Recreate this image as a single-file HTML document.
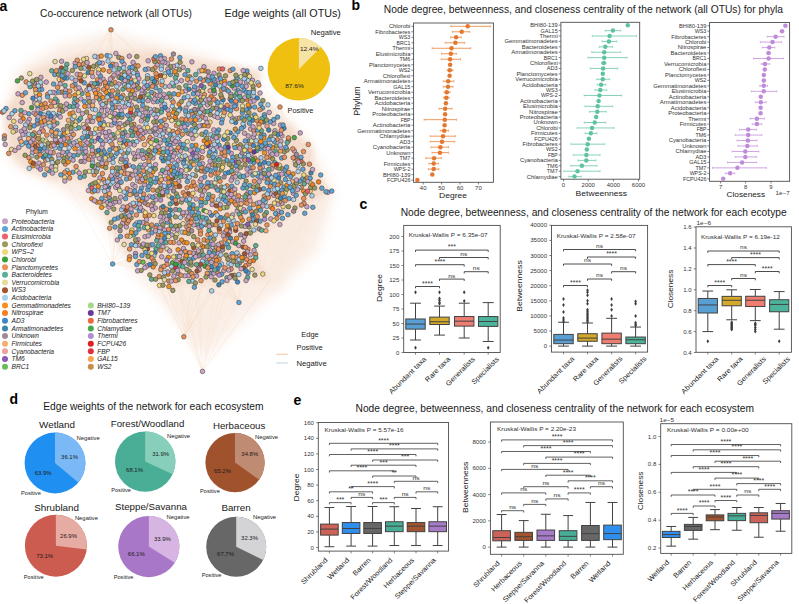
<!DOCTYPE html>
<html><head><meta charset="utf-8"><style>
html,body{margin:0;padding:0;background:#fff;width:799px;height:604px;overflow:hidden}
svg{display:block}
text{font-family:"Liberation Sans",sans-serif}
</style></head><body>
<svg width="799" height="604" viewBox="0 0 799 604">
<rect width="799" height="604" fill="#fff"/>
<defs><filter id="bl" x="-20%" y="-20%" width="140%" height="140%"><feGaussianBlur stdDeviation="3"/></filter><filter id="bl2" x="-20%" y="-20%" width="140%" height="140%"><feGaussianBlur stdDeviation="6"/></filter></defs>
<path d="M111 32 L60 45 L18 70 L5 110 L10 163 L60 188 L100 218 L130 270 L165 300 L200 350 L240 305 L280 288 L318 250 L334 192 L308 140 L268 100 L215 58 Z" fill="#f8e6da" filter="url(#bl2)" opacity="0.7"/>
<path d="M22 80 L28 72 L50 64 L70 57 L93 52 L120 51 L141 52 L152 50 L172 55 L184 58 L212 63 L236 65 L262 71 L258 90 L263 101 L274 117 L294 127 L299 138 L312 144 L313 166 L326 190 L312 206 L291 216 L278 230 L267 236 L254 237 L257 254 L265 274 L277 281 L240 280 L228 281 L218 290 L201 284 L173 290 L157 284 L152 271 L135 263 L129 254 L121 247 L118 237 L110 229 L107 217 L93 200 L90 192 L84 181 L53 180 L27 170 L11 155 L6 141 L4 111 L17 93 Z" fill="#f4dccc" filter="url(#bl)" opacity="0.9"/>
<path d="M330 190 L250 236 L277 284 L300 250 Z" fill="#f9eae0" filter="url(#bl)" opacity="0.8"/>
<path d="M150 282 L290 278 L205 360 Z" fill="#faede4" filter="url(#bl2)" opacity="0.75"/>
<path d="M111 29.8L49.16 118.61M111 29.8L45.61 77.08M111 29.8L54.95 89.63M111 29.8L110.84 60.36M111 29.8L105.59 54.58M111 29.8L198.17 100.4M111 29.8L112.77 126.71M111 29.8L110.44 114.31M111 29.8L107.36 58.06M111 29.8L176.81 89.39M111 29.8L61.93 110.37M111 29.8L122.03 118.98M111 29.8L69.12 98.03M111 29.8L177.83 90.5M280 107L228.82 190.91M280 107L184.57 109.36M280 107L248.63 165.35M280 107L302.1 189.21M280 107L192.9 140.44M280 107L201.88 203.44M280 107L217.18 145.85M280 107L293.83 195.69M280 107L256.89 77.68M280 107L310.72 162.06M280 107L217.47 136.57M280 107L317.26 195.44M280 107L246.12 192.42M280 107L187.08 179.5M331.8 191.1L271.65 207.26M331.8 191.1L280.06 156.6M331.8 191.1L245.79 101.53M331.8 191.1L302.86 196.48M331.8 191.1L314.68 172.45M331.8 191.1L278.88 185.88M331.8 191.1L261.86 201.36M331.8 191.1L246.01 144.98M331.8 191.1L257.37 176.22M331.8 191.1L241.08 233.2M331.8 191.1L257.51 102.05M331.8 191.1L246.37 169.3M331.8 191.1L255.78 151.93M331.8 191.1L304.96 178.47M326 191.8L317.03 186.51M326 191.8L229.35 175.03M326 191.8L265.33 274.35M326 191.8L237.96 208.4M326 191.8L280.89 205.23M326 191.8L259.41 216.89M326 191.8L241.07 151.88M326 191.8L280.73 163.48M326 191.8L255.72 154.02M326 191.8L275.95 127.39M326 191.8L249.54 108.94M326 191.8L278.88 189.62M326 191.8L268.26 232.49M326 191.8L270.55 215.74M238.9 302.5L173.18 273.53M238.9 302.5L184.2 275.36M238.9 302.5L157.94 211.35M238.9 302.5L151.43 222.87M238.9 302.5L174.18 257.03M238.9 302.5L210.07 274.5M238.9 302.5L188.68 260.93M238.9 302.5L191.09 205.75M238.9 302.5L192.63 225.09M238.9 302.5L241.26 264.88M238.9 302.5L221.53 280.5M238.9 302.5L183.69 206.94M238.9 302.5L199.11 208.87M238.9 302.5L196.01 240.75M183.8 336.8L211.7 258.93M183.8 336.8L215.14 279.67M183.8 336.8L195.55 257.06M183.8 336.8L235.47 248.24M183.8 336.8L249.39 273.69M183.8 336.8L226.8 273.85M183.8 336.8L149.8 266.47M183.8 336.8L196.82 284.57M183.8 336.8L178.66 244.75M183.8 336.8L206.81 275.47M183.8 336.8L150.95 238.66M183.8 336.8L196.62 263.12M183.8 336.8L239.95 249.23M183.8 336.8L222.55 274.75M202.5 371.4L230.82 276.52M202.5 371.4L182.43 287.29M202.5 371.4L223.51 281.58M202.5 371.4L248.32 277.44M202.5 371.4L174.35 277.9M202.5 371.4L160.68 274.76M202.5 371.4L156.49 281.75M202.5 371.4L198.63 275.31M202.5 371.4L270.65 279.75M202.5 371.4L215.84 286.26M202.5 371.4L270.06 280.1M202.5 371.4L170.35 285.67M202.5 371.4L194.42 274.32M202.5 371.4L175.17 272.34M112.6 264L209.66 282.68M112.6 264L210.77 256.46M112.6 264L192.04 243.36M112.6 264L150.75 183.46M112.6 264L57.85 166.85M112.6 264L117.4 217.21M112.6 264L119.57 177.08M112.6 264L114.68 217.75M112.6 264L208.79 240.96M112.6 264L202.35 189.37M112.6 264L156.04 269.43M112.6 264L176.31 263.25M112.6 264L101.86 169.57M112.6 264L152.6 171.82M172.8 290.4L208.41 213.7M172.8 290.4L188.55 273.11M172.8 290.4L177.96 245.54M172.8 290.4L146.17 228.46M172.8 290.4L190.61 202.88M172.8 290.4L105.46 200.24M172.8 290.4L119.46 234.64M172.8 290.4L102.24 196.11M172.8 290.4L171.54 274.39M172.8 290.4L179.29 210.97M172.8 290.4L247.66 200.46M172.8 290.4L213.21 236.9M172.8 290.4L218.23 239.32M172.8 290.4L181.02 200.67M4 111L14.81 118.32M4 111L92.37 52.72M4 111L25.23 106.28M4 111L22.77 139.7M4 111L64.18 176.34M4 111L40.34 172.7M4 111L70.98 176.82M4 111L56.87 105.68M4 111L101.28 68.91M4 111L97.77 162.38M4 111L94.5 112.16M4 111L67.57 158.88M4 111L74.7 102.48M4 111L61.81 124.96M138.7 75.81L177.98 89.01M16.34 94.92L8.12 136.22M244.92 103.78L188.25 87.81M29.01 104.78L46.12 116.81M157.75 266L171.7 271.86M261.18 125.95L245.89 117.84M249.75 276.73L235.9 227.16M244.3 240.54L195.16 261.54M242.17 84.53L244.22 144.15M308.89 181.93L268.54 164.62M148.5 264.31L141.11 252.44M278.27 121.45L221.8 82.57M107.15 196.84L163.39 214.62M163.08 63.46L127.11 62.45M273.78 120.69L242.74 83.18M171.85 265.68L231.33 245.69M267.11 111.88L222.51 112.78M321.23 183.39L262.04 181.18M174.04 76.48L185.73 68.17M266.43 217.88L219.03 216.93M322.34 192.98L288.93 148.27M260.86 106.94L261.85 142.99M286.29 211.03L256 163.32M94.61 191.66L148.75 148.11M268.99 122.82L211.29 168.48M23.26 129.4L75.92 150.24M32.13 157.61L58.82 165.82M321.06 188.58L285.73 220.05M119.67 228.24L73.88 171.49M178.6 283.14L200.57 244.55M248.74 79.44L208.02 67.46M168.41 266.89L189.35 217.98M97.54 65L40.68 67.93M257.68 80.82L208.98 108.21M27 74.03L61.2 74.78M183.48 79.13L132.39 131.39M185.09 281.49L197.25 278.79M150.67 262.53L148.16 236.88M265.7 207.22L240.55 194.31M148.34 238.88L137.42 257.21M18.72 109.85L44.59 69.78M207.3 281.9L193.82 269.38M189.29 281.42L212.3 230.92M270.18 205.51L214.79 219.31M219.48 258.23L210.28 253M254.3 235.15L208.34 264.46M25.51 152.73L53.46 106.08M238.41 97.4L199.09 75.81M259.17 118.8L208.32 161.27M251.64 252.29L247.06 245.81M298.62 146.16L242.06 158.32M189.78 278.43L220.91 238.66M95.6 186.93L60.15 128.68M75.86 79.54L73.84 63.57M199.05 260.91L172.19 273.78M213 69.93L263.58 106.71M160.93 251.56L110.4 200.97M192.53 84.83L184.39 59.5M119 74.17L142.48 58.8M81.08 54.61L31.44 99.8M22.84 110.19L73.75 156.49M58.87 171.68L95.92 183.48M159.63 63.98L182.38 120.8M212.97 283.84L186.59 235.95M116.62 197.11L169.49 144.47M268.26 222.37L287.43 168.59M211.07 70L184.89 64.04M86.87 168.27L113.8 118.38M13.76 108.37L53.89 130.74M262.35 213.82L260.93 216.97M99.83 58.08L91.1 67.46M42.99 156.93L48.38 117.71M268.76 277.1L216.95 285.51M239.93 101.14L182.44 148.37M265.48 274.55L245.39 267.14M245.73 272.54L209.04 261.52M99.36 199.44L148.6 241.78M233.97 239.22L233.37 239.97M18.86 105.95L54.15 83.79M78.9 60.72L27.81 75.7M30.84 140.28L49.49 155.85M70 59.94L54.38 109.58M271.59 127.6L299.22 139.52M252.15 97.25L233.61 94.28M287.12 136.16L315.15 188.56M97.5 165.44L132.63 194.02M180.31 283.83L218.5 286.26M55.89 79.23L74.83 94M311.2 180.34L300.65 148.32M287.85 137.06L314.67 191.04M285.29 197.78L244.86 165.38M188.81 266.73L177.08 269.08M65.7 73.27L38.29 127.42M232.79 245.46L194.17 253.67M145.62 263.07L178.53 227.83M171.06 69.36L159.06 63.47M230.46 232.47L176.29 231.95M66.94 157.86L77.02 129.64M254.92 218.95L227.18 269.53M271.97 215.22L282.9 205.34M302.76 193.1L303.9 166.63M220.32 83.47L193.97 91.35M245.08 272.07L261.84 225.61M9.96 107.57L68.34 91.93M13.02 115.83L9.95 112.12M207.15 70.68L212.23 98.31M284.8 198.33L274.38 223.35M175.55 64.43L223.49 105.75M268.75 133.07L291.48 141.99M220.44 72.06L244.98 117.47M138.27 223.32L187.75 235.03M307.56 193.92L313 186.07M26.17 152.83L32.12 127.83M297.17 193.04L286.16 181.75M291.9 212.55L233.48 200.01M259.59 220.63L213.5 190.1M248.48 68.3L233.65 120.15M151.5 68.01L205.58 125.65M232.58 70.71L190.79 112.1M266.58 127.11L252.36 76.96M13.27 100.1L26.55 82.8M230.9 276.88L232.79 250.3M85.58 173.51L134.6 167.73M276.41 211.96L294.76 197.62M256.07 82.51L251.46 122.68M237.57 225.73L212.1 184.42M236.67 265.52L179.04 268.27M295.56 166.79L275.1 150.96M231.18 65.91L175.58 84.88M71.83 155.71L50.27 120.45M182.62 71.57L178.12 124.26M261.82 278.42L270.34 228.35M29.43 156.28L13.41 145.84M43.53 86.54L85.61 69.68M216.37 273.93L179.66 237.64M191.13 264.31L217.26 229.2M228.19 83.15L197.56 116.53M51.96 169.9L13.01 153.23M89.32 62.09L118.18 80.36M193.67 71.42L152.08 86.6M121.08 246.03L130.04 208.65M258.55 221.73L252.64 182.53M219.35 276.66L262.62 271.75M234.99 254.76L207.95 222.45M173.04 64.18L138.25 97.98M37.81 96.9L18.79 153.02M55.94 170.68L59.84 116.15M5.91 125.71L46.11 122.8M237.01 82.4L232.47 82.43M92.71 178.46L38.75 139.7M310.53 151.84L299.4 192.1M257.25 89.49L276.31 148.13M136.06 220.27L154.78 246.65M279.78 149.66L231.69 114.92M91.54 63.71L39.85 113.02M14.76 125.92L13.09 120.56M239.45 224.6L263.66 172.62M36.71 69.99L54.36 125.64M15.47 109.71L66.18 107.22M131.74 65.41L129.16 69.05M303.77 180.71L279.15 222.4M40.49 157.88L64.17 163.24M235.79 280.34L199.42 242.89M303.73 147.53L249.06 91.07M135.77 256.31L158.39 239.45M293.95 211.95L298.64 178.35M103.41 190.16L156.45 162.74M101.55 170.11L48.84 121.25M223.04 284.88L166.03 239.19M87.05 70.32L124.53 104.71M254.24 231.78L203.49 226.95M311.53 161.62L278.22 179.48M112.03 206.25L169.98 213.5M70.08 174.71L72.58 149.1M260.57 267.45L205.83 241.48M248.24 216.34L284.13 175.04M249.6 276.61L246.54 269.42M271.52 216.26L263.7 218.08M90.07 70.78L117.45 128.24M237.87 70.59L192.45 125.17M41.53 91.6L22.62 140.56M190.81 268L197.62 217.14M283.62 210.09L228.35 239.24M305.07 185.28L311.26 150.94M104.84 62.35L125.61 91.93M218.12 275.17L229.91 218.73M56.91 159.03L114.95 216.2M31.56 84.34L13.34 119.02M244.78 102.85L253.49 106M220.22 81.18L275.82 134.5M32.31 97.25L60.35 64.71M265.94 129.4L282.59 134.37M216.6 267.15L215.92 261.23M196.7 267.11L178.47 271.8M27.28 155.26L69.51 132.49M243.96 97.59L222.51 74.02M138.25 53.59L187.75 103.73M256.4 111.18L254.33 85.54M196.77 273.63L174.95 275.48M48.76 166.27L95.13 109.91M223.64 265.44L235.95 223.88M150.51 56.78L170.6 80.55M257.33 92.38L207.27 130.36M111.43 71L106.82 70.49M251.91 102.3L217.33 103.88M14.26 148.77L68.95 132.14M196.7 62.42L217.91 72.1M62.07 156.51L120.94 202.91M89.28 172.65L92.25 167.88M26.89 153.13L78.6 138.24M168.11 56.4L133.56 89.1M318.69 197.95L269.44 156.12M99.02 181.24L133.21 223.49M265.04 113.03L257.25 134.12M287.17 158.64L257.75 198.08M22.05 146.85L55.02 168.93M143.48 251.45L198.2 198.54M89 73.46L71.09 128.51M201.11 266.76L159.02 284.69M206.54 67.15L229.18 96.25M184.84 76.9L244.43 72.17M93.83 75.23L80.38 97.5M140.17 228.62L181.08 173.14M66.83 75.62L103.39 134.41M61.48 163.85L67.33 122.78M19.61 91.85L76.57 148.69M170.25 259.86L121.71 247.3M257.86 75.11L251.56 107.23M96.2 52.94L63.95 77.53M100.56 61.18L101.22 91.04M308.6 151.17L285.88 129.25M136.55 251.8L164.71 278.04M258.3 99.76L276.63 135.07M253.72 87.35L223.2 99.61M237.33 76.66L219.39 106.04M72.08 60.7L93.99 117.52M66.4 82.83L97.94 115.27M91.91 172.65L37.54 160.83M145.99 237.2L101.98 210.5M148.31 52.2L102.4 94.91M263.68 274.19L220.52 215.19M105.59 66.98L155.31 103.66M234.15 242.02L232.09 246.8M93.06 175.81L79.62 171.11M200.53 279L182.44 234.48M28.11 73.3L81.73 118.82M109.82 224.47L135.47 258.91M9.14 105.15L16.35 152.52M231.7 242.16L205.82 256.76M239.61 220.62L245.44 249.02M66.12 176.29L35.77 147.44M165.95 68.39L164.47 59.2M254.75 224.83L287.12 187.99M151.57 65.74L124.53 120.15M220.9 273.14L176.37 264.91M65.4 77.14L58.78 99.15M81.35 161.15L117.97 214.75M285.42 195.94L239.66 161.97M252.81 264.84L264.56 229.59M119.32 73.7L129.98 66.03" stroke="#f2cfb8" stroke-width="0.4" fill="none" opacity="0.45"/>
<g stroke="#3a3a3a" stroke-width="0.55">
<circle cx="247.55" cy="151.8" r="2.3" fill="#5fa4d3"/>
<circle cx="29.26" cy="119.38" r="2.3" fill="#c9a3c4"/>
<circle cx="207.81" cy="234.8" r="2.3" fill="#e8915a"/>
<circle cx="210.86" cy="134.68" r="2.3" fill="#a6cfea"/>
<circle cx="172.5" cy="262.82" r="2.3" fill="#49a949"/>
<circle cx="53.17" cy="152.78" r="2.3" fill="#e8915a"/>
<circle cx="37.09" cy="123.94" r="2.3" fill="#a08a97"/>
<circle cx="256.94" cy="150.48" r="2.3" fill="#5cae98"/>
<circle cx="163.86" cy="128.91" r="2.3" fill="#c9a3c4"/>
<circle cx="92.93" cy="101.48" r="2.3" fill="#c9a3c4"/>
<circle cx="188.93" cy="263.82" r="2.3" fill="#5fa4d3"/>
<circle cx="152.41" cy="168.49" r="2.3" fill="#3a88c6"/>
<circle cx="189.7" cy="76.71" r="2.3" fill="#9a9a5e"/>
<circle cx="256.94" cy="203.42" r="2.3" fill="#a6cfea"/>
<circle cx="225.11" cy="232.16" r="2.3" fill="#c9a3c4"/>
<circle cx="150.45" cy="152.4" r="2.3" fill="#e8915a"/>
<circle cx="171.62" cy="234.86" r="2.3" fill="#c9a3c4"/>
<circle cx="78.42" cy="110.54" r="2.3" fill="#c9a3c4"/>
<circle cx="236.96" cy="170.16" r="2.3" fill="#c9a3c4"/>
<circle cx="117.59" cy="101.74" r="2.3" fill="#5fa4d3"/>
<circle cx="155.09" cy="252.53" r="2.3" fill="#3a88ae"/>
<circle cx="196.56" cy="275.97" r="2.3" fill="#c9a3c4"/>
<circle cx="108.44" cy="124.76" r="2.3" fill="#efd77a"/>
<circle cx="161.17" cy="184.99" r="2.3" fill="#c9a3c4"/>
<circle cx="144.96" cy="132.39" r="2.3" fill="#c9a3c4"/>
<circle cx="134.58" cy="158.95" r="2.3" fill="#9a9a5e"/>
<circle cx="88.37" cy="97.42" r="2.3" fill="#c9a3c4"/>
<circle cx="114.53" cy="137.63" r="2.3" fill="#9a9a5e"/>
<circle cx="230.83" cy="94.05" r="2.3" fill="#c9a3c4"/>
<circle cx="135.42" cy="156.08" r="2.3" fill="#c9a3c4"/>
<circle cx="171.16" cy="180.97" r="2.3" fill="#9a9a5e"/>
<circle cx="217.78" cy="253.27" r="2.3" fill="#c9a3c4"/>
<circle cx="99.19" cy="99.25" r="2.3" fill="#5cae98"/>
<circle cx="69.64" cy="142.68" r="2.3" fill="#5cae98"/>
<circle cx="162.59" cy="242.81" r="2.3" fill="#5fa4d3"/>
<circle cx="181.74" cy="261.3" r="2.3" fill="#a3532e"/>
<circle cx="288.68" cy="140.37" r="2.3" fill="#9a9a5e"/>
<circle cx="204.05" cy="186.37" r="2.3" fill="#c9a3c4"/>
<circle cx="138.77" cy="245.14" r="2.3" fill="#c9a3c4"/>
<circle cx="54.74" cy="74.57" r="2.3" fill="#5fa4d3"/>
<circle cx="112.81" cy="134.66" r="2.3" fill="#5cae98"/>
<circle cx="90.71" cy="136.18" r="2.3" fill="#f5ae6e"/>
<circle cx="249.47" cy="107.22" r="2.3" fill="#3a88c6"/>
<circle cx="193.14" cy="208.91" r="2.3" fill="#f5901e"/>
<circle cx="34.06" cy="113.09" r="2.3" fill="#c9a3c4"/>
<circle cx="137.33" cy="197.49" r="2.3" fill="#a6cfea"/>
<circle cx="95.59" cy="151.49" r="2.3" fill="#9a9a5e"/>
<circle cx="200.97" cy="222.04" r="2.3" fill="#c9a3c4"/>
<circle cx="188.42" cy="193.61" r="2.3" fill="#a3532e"/>
<circle cx="172.43" cy="160.55" r="2.3" fill="#c9a3c4"/>
<circle cx="129" cy="165.3" r="2.3" fill="#c9a3c4"/>
<circle cx="195.98" cy="135.14" r="2.3" fill="#e4dd9a"/>
<circle cx="251.29" cy="211.48" r="2.3" fill="#e8915a"/>
<circle cx="219.49" cy="110.28" r="2.3" fill="#5fa4d3"/>
<circle cx="142.85" cy="100.65" r="2.3" fill="#5fa4d3"/>
<circle cx="262.9" cy="100.59" r="2.3" fill="#9a9a5e"/>
<circle cx="192.53" cy="281.18" r="2.3" fill="#a6cfea"/>
<circle cx="264.23" cy="196.04" r="2.3" fill="#e8915a"/>
<circle cx="5.19" cy="144.48" r="2.3" fill="#c9a3c4"/>
<circle cx="234.59" cy="193.17" r="2.3" fill="#f5ae6e"/>
<circle cx="127.71" cy="152.43" r="2.3" fill="#5cae98"/>
<circle cx="240.45" cy="155.63" r="2.3" fill="#a6cfea"/>
<circle cx="127.33" cy="188.76" r="2.3" fill="#e8915a"/>
<circle cx="203.23" cy="113.72" r="2.3" fill="#c9a3c4"/>
<circle cx="228.79" cy="263.35" r="2.3" fill="#a6cfea"/>
<circle cx="92.65" cy="76.55" r="2.3" fill="#c9a3c4"/>
<circle cx="202.57" cy="91.05" r="2.3" fill="#efd77a"/>
<circle cx="125.18" cy="106.74" r="2.3" fill="#c9a3c4"/>
<circle cx="120.49" cy="236.53" r="2.3" fill="#5fa4d3"/>
<circle cx="243.64" cy="126.48" r="2.3" fill="#5fa4d3"/>
<circle cx="193.02" cy="204.85" r="2.3" fill="#5fa4d3"/>
<circle cx="265.91" cy="230.75" r="2.3" fill="#f5ae6e"/>
<circle cx="96.33" cy="97.42" r="2.3" fill="#e8915a"/>
<circle cx="89.44" cy="144.64" r="2.3" fill="#c68f4a"/>
<circle cx="240.81" cy="76.74" r="2.3" fill="#e4dd9a"/>
<circle cx="248.23" cy="136" r="2.3" fill="#c9a3c4"/>
<circle cx="169.08" cy="93.73" r="2.3" fill="#5cae98"/>
<circle cx="267.92" cy="104.83" r="2.3" fill="#a6cfea"/>
<circle cx="195.46" cy="175.7" r="2.3" fill="#9a9a5e"/>
<circle cx="119.67" cy="179.92" r="2.3" fill="#c9a3c4"/>
<circle cx="168.33" cy="257.38" r="2.3" fill="#f5901e"/>
<circle cx="108.87" cy="91.15" r="2.3" fill="#efd77a"/>
<circle cx="243.48" cy="147.2" r="2.3" fill="#9a9a5e"/>
<circle cx="212.49" cy="248.42" r="2.3" fill="#a6cfea"/>
<circle cx="79.3" cy="140.52" r="2.3" fill="#efd77a"/>
<circle cx="196.91" cy="253.49" r="2.3" fill="#9a9a5e"/>
<circle cx="112.48" cy="168.6" r="2.3" fill="#e8915a"/>
<circle cx="170.53" cy="74.48" r="2.3" fill="#5fa4d3"/>
<circle cx="216.25" cy="247.88" r="2.3" fill="#e8915a"/>
<circle cx="142.7" cy="222.53" r="2.3" fill="#c9a3c4"/>
<circle cx="112.04" cy="103.86" r="2.3" fill="#5fa4d3"/>
<circle cx="246.58" cy="146.17" r="2.3" fill="#a6cfea"/>
<circle cx="169.3" cy="117.41" r="2.3" fill="#e8915a"/>
<circle cx="281.93" cy="135.81" r="2.3" fill="#c9a3c4"/>
<circle cx="204" cy="257.98" r="2.3" fill="#c9a3c4"/>
<circle cx="252.41" cy="98.73" r="2.3" fill="#c9a3c4"/>
<circle cx="47.67" cy="151.72" r="2.3" fill="#c9a3c4"/>
<circle cx="120.81" cy="161.77" r="2.3" fill="#e4dd9a"/>
<circle cx="158.56" cy="152.09" r="2.3" fill="#f5901e"/>
<circle cx="97.33" cy="168.88" r="2.3" fill="#a6cfea"/>
<circle cx="273.65" cy="123.44" r="2.3" fill="#c9a3c4"/>
<circle cx="221.48" cy="263.94" r="2.3" fill="#a6cfea"/>
<circle cx="295.33" cy="161.64" r="2.3" fill="#e4dd9a"/>
<circle cx="217.4" cy="272.98" r="2.3" fill="#e8915a"/>
<circle cx="201.97" cy="157.67" r="2.3" fill="#e8915a"/>
<circle cx="37.84" cy="106.58" r="2.3" fill="#5fa4d3"/>
<circle cx="197.9" cy="109.93" r="2.3" fill="#a08a97"/>
<circle cx="31.72" cy="155.8" r="2.3" fill="#a6cfea"/>
<circle cx="148.21" cy="116.45" r="2.3" fill="#3a88c6"/>
<circle cx="160.16" cy="149.37" r="2.3" fill="#f5901e"/>
<circle cx="283.89" cy="128.36" r="2.3" fill="#3a88c6"/>
<circle cx="264.49" cy="162.29" r="2.3" fill="#3a88c6"/>
<circle cx="293.01" cy="173.99" r="2.3" fill="#f5901e"/>
<circle cx="215.2" cy="256.3" r="2.3" fill="#e8915a"/>
<circle cx="203.85" cy="87.26" r="2.3" fill="#5cae98"/>
<circle cx="197.55" cy="224.96" r="2.3" fill="#5cae98"/>
<circle cx="52.08" cy="127.09" r="2.3" fill="#5fa4d3"/>
<circle cx="47.79" cy="116.23" r="2.3" fill="#c9a3c4"/>
<circle cx="34.46" cy="143.24" r="2.3" fill="#e8915a"/>
<circle cx="236.52" cy="108.73" r="2.3" fill="#e8915a"/>
<circle cx="102.38" cy="127.76" r="2.3" fill="#e8915a"/>
<circle cx="122.93" cy="129.54" r="2.3" fill="#efd77a"/>
<circle cx="301.2" cy="187.15" r="2.3" fill="#e8915a"/>
<circle cx="139.63" cy="199.88" r="2.3" fill="#e8915a"/>
<circle cx="18.81" cy="147.51" r="2.3" fill="#c9a3c4"/>
<circle cx="198.64" cy="266.66" r="2.3" fill="#a08a97"/>
<circle cx="178.28" cy="160.59" r="2.3" fill="#c9a3c4"/>
<circle cx="64.15" cy="158.04" r="2.3" fill="#9a9a5e"/>
<circle cx="222.21" cy="119.44" r="2.3" fill="#5fa4d3"/>
<circle cx="80.83" cy="98.97" r="2.3" fill="#c9a3c4"/>
<circle cx="170.2" cy="203.94" r="2.3" fill="#5cae98"/>
<circle cx="140.44" cy="165.23" r="2.3" fill="#a6cfea"/>
<circle cx="25.4" cy="134.14" r="2.3" fill="#a6cfea"/>
<circle cx="67.12" cy="170.47" r="2.3" fill="#a6cfea"/>
<circle cx="208.9" cy="194.53" r="2.3" fill="#5cae98"/>
<circle cx="113.04" cy="203.35" r="2.3" fill="#c9a3c4"/>
<circle cx="262.49" cy="107.97" r="2.3" fill="#5fa4d3"/>
<circle cx="168.87" cy="172.57" r="2.3" fill="#c9a3c4"/>
<circle cx="250.59" cy="129.06" r="2.3" fill="#c9a3c4"/>
<circle cx="175.35" cy="177.09" r="2.3" fill="#5cae98"/>
<circle cx="233.25" cy="173.9" r="2.3" fill="#e8915a"/>
<circle cx="168.86" cy="281.03" r="2.3" fill="#e8915a"/>
<circle cx="210.61" cy="81.25" r="2.3" fill="#5cae98"/>
<circle cx="114.79" cy="156.34" r="2.3" fill="#a6cfea"/>
<circle cx="310.24" cy="182.94" r="2.3" fill="#efd77a"/>
<circle cx="151.55" cy="279.3" r="2.3" fill="#5cae98"/>
<circle cx="145.88" cy="112.55" r="2.3" fill="#c9a3c4"/>
<circle cx="173.13" cy="150.72" r="2.3" fill="#5cae98"/>
<circle cx="162.13" cy="98.13" r="2.3" fill="#c9a3c4"/>
<circle cx="41.69" cy="89.44" r="2.3" fill="#5fa4d3"/>
<circle cx="218.61" cy="249.03" r="2.3" fill="#e8915a"/>
<circle cx="121.98" cy="74.91" r="2.3" fill="#e8915a"/>
<circle cx="144.96" cy="236.68" r="2.3" fill="#c9a3c4"/>
<circle cx="171.87" cy="99.83" r="2.3" fill="#a6cfea"/>
<circle cx="159.59" cy="195.21" r="2.3" fill="#3b9f3b"/>
<circle cx="213.72" cy="273.31" r="2.3" fill="#c9a3c4"/>
<circle cx="196.82" cy="152.49" r="2.3" fill="#c9a3c4"/>
<circle cx="123.3" cy="153.72" r="2.3" fill="#e8915a"/>
<circle cx="55.14" cy="147.8" r="2.3" fill="#a6cfea"/>
<circle cx="62.15" cy="136.16" r="2.3" fill="#3a88ae"/>
<circle cx="150" cy="227.61" r="2.3" fill="#5cae98"/>
<circle cx="157.87" cy="128.15" r="2.3" fill="#c9a3c4"/>
<circle cx="270.8" cy="218.89" r="2.3" fill="#c9a3c4"/>
<circle cx="175.39" cy="267.7" r="2.3" fill="#df3040"/>
<circle cx="131.11" cy="217.87" r="2.3" fill="#9a9a5e"/>
<circle cx="162.91" cy="194.99" r="2.3" fill="#a3532e"/>
<circle cx="240.21" cy="144.7" r="2.3" fill="#9a9a5e"/>
<circle cx="173.8" cy="276.15" r="2.3" fill="#c9a3c4"/>
<circle cx="187.07" cy="176.27" r="2.3" fill="#c9a3c4"/>
<circle cx="118.21" cy="170.76" r="2.3" fill="#5cae98"/>
<circle cx="270.43" cy="193.63" r="2.3" fill="#c9a3c4"/>
<circle cx="121.58" cy="209.64" r="2.3" fill="#a6cfea"/>
<circle cx="225.61" cy="173.34" r="2.3" fill="#5fa4d3"/>
<circle cx="43.1" cy="108.34" r="2.3" fill="#e8915a"/>
<circle cx="178.07" cy="279.77" r="2.3" fill="#9a9a5e"/>
<circle cx="64.66" cy="177.57" r="2.3" fill="#efd77a"/>
<circle cx="136.17" cy="207.25" r="2.3" fill="#a6cfea"/>
<circle cx="25.14" cy="155.29" r="2.3" fill="#9a9a5e"/>
<circle cx="241.39" cy="197.83" r="2.3" fill="#e4dd9a"/>
<circle cx="231.93" cy="166.62" r="2.3" fill="#9a9a5e"/>
<circle cx="151.79" cy="224.98" r="2.3" fill="#e8915a"/>
<circle cx="199.09" cy="227.55" r="2.3" fill="#c9a3c4"/>
<circle cx="252.25" cy="116.71" r="2.3" fill="#efd77a"/>
<circle cx="65.66" cy="90.26" r="2.3" fill="#c9a3c4"/>
<circle cx="138.94" cy="229.07" r="2.3" fill="#5fa4d3"/>
<circle cx="196.89" cy="208.78" r="2.3" fill="#5cae98"/>
<circle cx="284.34" cy="151.82" r="2.3" fill="#9a9a5e"/>
<circle cx="83.56" cy="124.64" r="2.3" fill="#e4dd9a"/>
<circle cx="230.12" cy="99.09" r="2.3" fill="#a08a97"/>
<circle cx="102.23" cy="165.95" r="2.3" fill="#f57f1c"/>
<circle cx="83.2" cy="64.06" r="2.3" fill="#e8915a"/>
<circle cx="61.57" cy="61.27" r="2.3" fill="#c9a3c4"/>
<circle cx="275.74" cy="151.61" r="2.3" fill="#5cae98"/>
<circle cx="147.81" cy="189.72" r="2.3" fill="#5fa4d3"/>
<circle cx="263.78" cy="177.9" r="2.3" fill="#c9a3c4"/>
<circle cx="141.38" cy="188.24" r="2.3" fill="#5fa4d3"/>
<circle cx="86.31" cy="126.28" r="2.3" fill="#e8915a"/>
<circle cx="161.33" cy="222.14" r="2.3" fill="#c9a3c4"/>
<circle cx="160.82" cy="173.92" r="2.3" fill="#c9a3c4"/>
<circle cx="183.12" cy="123.85" r="2.3" fill="#5fa4d3"/>
<circle cx="176.48" cy="261.7" r="2.3" fill="#c9a3c4"/>
<circle cx="153.82" cy="255.81" r="2.3" fill="#a6cfea"/>
<circle cx="70.87" cy="137.53" r="2.3" fill="#c9a3c4"/>
<circle cx="155.32" cy="208.03" r="2.3" fill="#c9a3c4"/>
<circle cx="111.99" cy="95.82" r="2.3" fill="#a08a97"/>
<circle cx="94.37" cy="141.25" r="2.3" fill="#c9a3c4"/>
<circle cx="270.59" cy="206.56" r="2.3" fill="#e8915a"/>
<circle cx="57.68" cy="105.14" r="2.3" fill="#c9a3c4"/>
<circle cx="244.81" cy="157.54" r="2.3" fill="#5fa4d3"/>
<circle cx="211.41" cy="215.32" r="2.3" fill="#3a88c6"/>
<circle cx="120.13" cy="175.27" r="2.3" fill="#a6cfea"/>
<circle cx="45.71" cy="160.09" r="2.3" fill="#e8915a"/>
<circle cx="238.11" cy="200.03" r="2.3" fill="#c9a3c4"/>
<circle cx="57.07" cy="130.82" r="2.3" fill="#5fa4d3"/>
<circle cx="157.22" cy="64.99" r="2.3" fill="#c9a3c4"/>
<circle cx="112.96" cy="118.04" r="2.3" fill="#9a9a5e"/>
<circle cx="206.95" cy="262.45" r="2.3" fill="#5cae98"/>
<circle cx="273.98" cy="195.43" r="2.3" fill="#c9a3c4"/>
<circle cx="217.58" cy="141.17" r="2.3" fill="#a6cfea"/>
<circle cx="257.34" cy="216.57" r="2.3" fill="#e8915a"/>
<circle cx="167.52" cy="143.9" r="2.3" fill="#5fa4d3"/>
<circle cx="103.93" cy="155.16" r="2.3" fill="#5fa4d3"/>
<circle cx="204.43" cy="134.8" r="2.3" fill="#a6cfea"/>
<circle cx="72.38" cy="70.45" r="2.3" fill="#9a9a5e"/>
<circle cx="124.19" cy="215.21" r="2.3" fill="#5fa4d3"/>
<circle cx="214.63" cy="116.2" r="2.3" fill="#c9a3c4"/>
<circle cx="34.56" cy="102.94" r="2.3" fill="#c9a3c4"/>
<circle cx="256.11" cy="140.8" r="2.3" fill="#a6cfea"/>
<circle cx="231.19" cy="264.56" r="2.3" fill="#a6cfea"/>
<circle cx="271.58" cy="182.84" r="2.3" fill="#5fa4d3"/>
<circle cx="303.36" cy="163.8" r="2.3" fill="#9a9a5e"/>
<circle cx="175.99" cy="119.6" r="2.3" fill="#9a9a5e"/>
<circle cx="189.78" cy="208.43" r="2.3" fill="#3a88c6"/>
<circle cx="148.34" cy="235.84" r="2.3" fill="#c9a3c4"/>
<circle cx="154.21" cy="84.32" r="2.3" fill="#c9a3c4"/>
<circle cx="150.45" cy="184.01" r="2.3" fill="#5cae98"/>
<circle cx="253.37" cy="260.48" r="2.3" fill="#f57f1c"/>
<circle cx="46.29" cy="107.26" r="2.3" fill="#e8915a"/>
<circle cx="246.07" cy="181.16" r="2.3" fill="#9a9a5e"/>
<circle cx="249.14" cy="141.16" r="2.3" fill="#5fa4d3"/>
<circle cx="102.1" cy="107.22" r="2.3" fill="#c9a3c4"/>
<circle cx="40.75" cy="104.26" r="2.3" fill="#f5901e"/>
<circle cx="59.17" cy="79.41" r="2.3" fill="#efd77a"/>
<circle cx="165.12" cy="73.76" r="2.3" fill="#a6cfea"/>
<circle cx="78.95" cy="64.53" r="2.3" fill="#e8915a"/>
<circle cx="303.67" cy="191.18" r="2.3" fill="#f5901e"/>
<circle cx="210.1" cy="83.78" r="2.3" fill="#e8915a"/>
<circle cx="84.21" cy="68.12" r="2.3" fill="#a6cfea"/>
<circle cx="117.07" cy="123.98" r="2.3" fill="#c9a3c4"/>
<circle cx="221.23" cy="195.85" r="2.3" fill="#a6cfea"/>
<circle cx="220.31" cy="208.77" r="2.3" fill="#f5901e"/>
<circle cx="210.94" cy="175.02" r="2.3" fill="#e8915a"/>
<circle cx="130.4" cy="79.26" r="2.3" fill="#e8915a"/>
<circle cx="234.22" cy="88.14" r="2.3" fill="#c9a3c4"/>
<circle cx="202.35" cy="261.23" r="2.3" fill="#a6cfea"/>
<circle cx="253.64" cy="204.6" r="2.3" fill="#e8915a"/>
<circle cx="232.32" cy="118.2" r="2.3" fill="#c9a3c4"/>
<circle cx="269.34" cy="156.85" r="2.3" fill="#e8915a"/>
<circle cx="188.37" cy="275.64" r="2.3" fill="#c9a3c4"/>
<circle cx="114.66" cy="177.2" r="2.3" fill="#c9a3c4"/>
<circle cx="133.88" cy="124.36" r="2.3" fill="#e8915a"/>
<circle cx="199.5" cy="102.23" r="2.3" fill="#c9a3c4"/>
<circle cx="109.85" cy="178.71" r="2.3" fill="#f5901e"/>
<circle cx="125.42" cy="217.83" r="2.3" fill="#9a9a5e"/>
<circle cx="168.22" cy="162.66" r="2.3" fill="#a6cfea"/>
<circle cx="95.67" cy="128.91" r="2.3" fill="#efd77a"/>
<circle cx="198.98" cy="255.94" r="2.3" fill="#a08a97"/>
<circle cx="86.82" cy="90.21" r="2.3" fill="#c9a3c4"/>
<circle cx="37.46" cy="119.89" r="2.3" fill="#5fa4d3"/>
<circle cx="43.37" cy="157.02" r="2.3" fill="#3a88ae"/>
<circle cx="58.72" cy="114.94" r="2.3" fill="#5fa4d3"/>
<circle cx="179.18" cy="130.36" r="2.3" fill="#e8915a"/>
<circle cx="288.92" cy="198.54" r="2.3" fill="#5fa4d3"/>
<circle cx="180.15" cy="108.65" r="2.3" fill="#3a88ae"/>
<circle cx="136.62" cy="107.08" r="2.3" fill="#9a9a5e"/>
<circle cx="246.61" cy="99.3" r="2.3" fill="#f57f1c"/>
<circle cx="181.4" cy="202.09" r="2.3" fill="#9a9a5e"/>
<circle cx="74.91" cy="95.25" r="2.3" fill="#f5901e"/>
<circle cx="117.88" cy="132.94" r="2.3" fill="#efd77a"/>
<circle cx="112.03" cy="138.98" r="2.3" fill="#c9a3c4"/>
<circle cx="195.9" cy="145.29" r="2.3" fill="#f5901e"/>
<circle cx="189.47" cy="271.35" r="2.3" fill="#9a9a5e"/>
<circle cx="102.74" cy="149.71" r="2.3" fill="#a6cfea"/>
<circle cx="273.95" cy="180.26" r="2.3" fill="#e4dd9a"/>
<circle cx="219.08" cy="145.26" r="2.3" fill="#5fa4d3"/>
<circle cx="147.86" cy="88.25" r="2.3" fill="#9a9a5e"/>
<circle cx="132.24" cy="132.46" r="2.3" fill="#efd77a"/>
<circle cx="227.8" cy="138.53" r="2.3" fill="#9a9a5e"/>
<circle cx="38.85" cy="101.9" r="2.3" fill="#c9a3c4"/>
<circle cx="276.8" cy="154.17" r="2.3" fill="#c9a3c4"/>
<circle cx="124.85" cy="132.15" r="2.3" fill="#5cae98"/>
<circle cx="144.25" cy="82.14" r="2.3" fill="#a6cfea"/>
<circle cx="26.12" cy="81.92" r="2.3" fill="#e8915a"/>
<circle cx="137.57" cy="82.83" r="2.3" fill="#5fa4d3"/>
<circle cx="191.55" cy="186.25" r="2.3" fill="#f57f1c"/>
<circle cx="232.35" cy="178.01" r="2.3" fill="#c9a3c4"/>
<circle cx="283.91" cy="187.12" r="2.3" fill="#5fa4d3"/>
<circle cx="164.43" cy="58.6" r="2.3" fill="#c9a3c4"/>
<circle cx="157.43" cy="101.56" r="2.3" fill="#5fa4d3"/>
<circle cx="149.52" cy="196.34" r="2.3" fill="#c9a3c4"/>
<circle cx="103.49" cy="179.55" r="2.3" fill="#f5901e"/>
<circle cx="66.77" cy="64.31" r="2.3" fill="#5cae98"/>
<circle cx="61.11" cy="155.31" r="2.3" fill="#f5ae6e"/>
<circle cx="70.64" cy="158.73" r="2.3" fill="#a6cfea"/>
<circle cx="235.44" cy="176.77" r="2.3" fill="#c9a3c4"/>
<circle cx="293.81" cy="186.12" r="2.3" fill="#9a9a5e"/>
<circle cx="101.47" cy="159.56" r="2.3" fill="#5fa4d3"/>
<circle cx="197.6" cy="239.83" r="2.3" fill="#e8915a"/>
<circle cx="259.98" cy="221.14" r="2.3" fill="#5fa4d3"/>
<circle cx="181.42" cy="122.02" r="2.3" fill="#5cae98"/>
<circle cx="236.79" cy="118.68" r="2.3" fill="#a6cfea"/>
<circle cx="138.58" cy="172.91" r="2.3" fill="#5fa4d3"/>
<circle cx="122.65" cy="136.2" r="2.3" fill="#5fa4d3"/>
<circle cx="222.07" cy="153.16" r="2.3" fill="#e8915a"/>
<circle cx="45.51" cy="155.02" r="2.3" fill="#5cae98"/>
<circle cx="135.48" cy="253.48" r="2.3" fill="#b08fd0"/>
<circle cx="126.28" cy="102.81" r="2.3" fill="#a6cfea"/>
<circle cx="30.23" cy="124.99" r="2.3" fill="#e8915a"/>
<circle cx="157.94" cy="114.18" r="2.3" fill="#a6cfea"/>
<circle cx="34.45" cy="86.13" r="2.3" fill="#e8915a"/>
<circle cx="132.06" cy="193.53" r="2.3" fill="#9a9a5e"/>
<circle cx="249.9" cy="185.52" r="2.3" fill="#5fa4d3"/>
<circle cx="212.87" cy="196.46" r="2.3" fill="#e8915a"/>
<circle cx="215.35" cy="168.57" r="2.3" fill="#5fa4d3"/>
<circle cx="98.43" cy="150.37" r="2.3" fill="#3a88c6"/>
<circle cx="179.81" cy="57.57" r="2.3" fill="#5fa4d3"/>
<circle cx="88.72" cy="106.12" r="2.3" fill="#c9a3c4"/>
<circle cx="168.97" cy="196.01" r="2.3" fill="#efd77a"/>
<circle cx="176.86" cy="65.45" r="2.3" fill="#a6cfea"/>
<circle cx="255.59" cy="254.26" r="2.3" fill="#e8915a"/>
<circle cx="126.72" cy="193.65" r="2.3" fill="#5fa4d3"/>
<circle cx="107.48" cy="154.88" r="2.3" fill="#5fa4d3"/>
<circle cx="262.38" cy="166.97" r="2.3" fill="#c9a3c4"/>
<circle cx="153.14" cy="266.9" r="2.3" fill="#f5901e"/>
<circle cx="136.32" cy="194.53" r="2.3" fill="#a08a97"/>
<circle cx="21.34" cy="78.04" r="2.3" fill="#9a9a5e"/>
<circle cx="201.71" cy="117.18" r="2.3" fill="#e8915a"/>
<circle cx="153.52" cy="101.73" r="2.3" fill="#c9a3c4"/>
<circle cx="25.16" cy="131.66" r="2.3" fill="#c9a3c4"/>
<circle cx="97.58" cy="57.18" r="2.3" fill="#c9a3c4"/>
<circle cx="150.01" cy="137.58" r="2.3" fill="#e8915a"/>
<circle cx="280.45" cy="125.15" r="2.3" fill="#c9a3c4"/>
<circle cx="161.68" cy="256.8" r="2.3" fill="#c9a3c4"/>
<circle cx="268.72" cy="163.48" r="2.3" fill="#5fa4d3"/>
<circle cx="133.57" cy="234.94" r="2.3" fill="#5cae98"/>
<circle cx="214.37" cy="251.06" r="2.3" fill="#9a9a5e"/>
<circle cx="102.38" cy="63.14" r="2.3" fill="#c9a3c4"/>
<circle cx="234.96" cy="95.74" r="2.3" fill="#5cae98"/>
<circle cx="264.65" cy="219.28" r="2.3" fill="#b08fd0"/>
<circle cx="169" cy="218.94" r="2.3" fill="#9a9a5e"/>
<circle cx="272.37" cy="147.53" r="2.3" fill="#f5901e"/>
<circle cx="170.16" cy="141.76" r="2.3" fill="#c9a3c4"/>
<circle cx="54.84" cy="142.84" r="2.3" fill="#c9a3c4"/>
<circle cx="215.1" cy="81.26" r="2.3" fill="#c9a3c4"/>
<circle cx="124.08" cy="64.25" r="2.3" fill="#c9a3c4"/>
<circle cx="193.73" cy="247.8" r="2.3" fill="#a3532e"/>
<circle cx="177.39" cy="173.45" r="2.3" fill="#5fa4d3"/>
<circle cx="210.64" cy="170.63" r="2.3" fill="#5fa4d3"/>
<circle cx="297.16" cy="160.03" r="2.3" fill="#e8915a"/>
<circle cx="199.21" cy="269.75" r="2.3" fill="#c9a3c4"/>
<circle cx="221.42" cy="186.98" r="2.3" fill="#9a9a5e"/>
<circle cx="84.59" cy="75.85" r="2.3" fill="#e4dd9a"/>
<circle cx="156.43" cy="121.58" r="2.3" fill="#9a9a5e"/>
<circle cx="122.52" cy="223.34" r="2.3" fill="#c9a3c4"/>
<circle cx="123.62" cy="82.59" r="2.3" fill="#c9a3c4"/>
<circle cx="268.66" cy="190.49" r="2.3" fill="#5fa4d3"/>
<circle cx="117.41" cy="117.41" r="2.3" fill="#9a9a5e"/>
<circle cx="119.29" cy="201.96" r="2.3" fill="#c9a3c4"/>
<circle cx="90.27" cy="121.19" r="2.3" fill="#e8915a"/>
<circle cx="186.19" cy="114.22" r="2.3" fill="#a6cfea"/>
<circle cx="129.91" cy="194.67" r="2.3" fill="#f5ae6e"/>
<circle cx="182.63" cy="215.07" r="2.3" fill="#e8915a"/>
<circle cx="101.81" cy="147.45" r="2.3" fill="#c9a3c4"/>
<circle cx="247.44" cy="74.53" r="2.3" fill="#f57f1c"/>
<circle cx="228.89" cy="241.56" r="2.3" fill="#efd77a"/>
<circle cx="136.8" cy="264.54" r="2.3" fill="#5fa4d3"/>
<circle cx="146.97" cy="224.23" r="2.3" fill="#e8915a"/>
<circle cx="144.8" cy="127.56" r="2.3" fill="#e4dd9a"/>
<circle cx="253.29" cy="89.62" r="2.3" fill="#9a9a5e"/>
<circle cx="287.01" cy="185.31" r="2.3" fill="#f5901e"/>
<circle cx="133.05" cy="142.08" r="2.3" fill="#5cae98"/>
<circle cx="251.02" cy="154.37" r="2.3" fill="#c9a3c4"/>
<circle cx="264.4" cy="114.76" r="2.3" fill="#5fa4d3"/>
<circle cx="159.88" cy="188.74" r="2.3" fill="#9a9a5e"/>
<circle cx="48.54" cy="112.99" r="2.3" fill="#5fa4d3"/>
<circle cx="170.05" cy="166.32" r="2.3" fill="#f5901e"/>
<circle cx="129.78" cy="67.69" r="2.3" fill="#5fa4d3"/>
<circle cx="152.09" cy="232.71" r="2.3" fill="#5fa4d3"/>
<circle cx="23.13" cy="118.78" r="2.3" fill="#f57f1c"/>
<circle cx="60.82" cy="174.76" r="2.3" fill="#5fa4d3"/>
<circle cx="234.43" cy="145.05" r="2.3" fill="#efd77a"/>
<circle cx="277.66" cy="117.06" r="2.3" fill="#5fa4d3"/>
<circle cx="246.5" cy="82.31" r="2.3" fill="#c9a3c4"/>
<circle cx="138.97" cy="167.51" r="2.3" fill="#5cae98"/>
<circle cx="264.76" cy="148.17" r="2.3" fill="#c9a3c4"/>
<circle cx="171.01" cy="71.6" r="2.3" fill="#a6cfea"/>
<circle cx="80.05" cy="143.86" r="2.3" fill="#f5901e"/>
<circle cx="245.12" cy="164.73" r="2.3" fill="#9a9a5e"/>
<circle cx="226.86" cy="277.79" r="2.3" fill="#5cae98"/>
<circle cx="194.93" cy="149.23" r="2.3" fill="#c9a3c4"/>
<circle cx="120.09" cy="230.65" r="2.3" fill="#a08a97"/>
<circle cx="226.29" cy="89.5" r="2.3" fill="#e8915a"/>
<circle cx="244.01" cy="90.24" r="2.3" fill="#5fa4d3"/>
<circle cx="172.32" cy="106.22" r="2.3" fill="#a6cfea"/>
<circle cx="90.45" cy="185.6" r="2.3" fill="#5fa4d3"/>
<circle cx="281.85" cy="168.54" r="2.3" fill="#9a9a5e"/>
<circle cx="72.7" cy="118.62" r="2.3" fill="#a6cfea"/>
<circle cx="221.25" cy="81.65" r="2.3" fill="#f7a74e"/>
<circle cx="63.93" cy="106.57" r="2.3" fill="#e4dd9a"/>
<circle cx="234.47" cy="275.28" r="2.3" fill="#9a9a5e"/>
<circle cx="142.72" cy="133.49" r="2.3" fill="#c9a3c4"/>
<circle cx="298.78" cy="187.5" r="2.3" fill="#a6cfea"/>
<circle cx="165.32" cy="179.03" r="2.3" fill="#c9a3c4"/>
<circle cx="84.67" cy="140.66" r="2.3" fill="#c9a3c4"/>
<circle cx="209.48" cy="142.29" r="2.3" fill="#f57f1c"/>
<circle cx="279.01" cy="174.35" r="2.3" fill="#c9a3c4"/>
<circle cx="126.24" cy="210.39" r="2.3" fill="#a3532e"/>
<circle cx="176.39" cy="125.42" r="2.3" fill="#e8915a"/>
<circle cx="88.26" cy="72.48" r="2.3" fill="#3a88ae"/>
<circle cx="272.63" cy="208.63" r="2.3" fill="#f57f1c"/>
<circle cx="142.95" cy="210.76" r="2.3" fill="#c9a3c4"/>
<circle cx="153.03" cy="157.95" r="2.3" fill="#c9a3c4"/>
<circle cx="174.58" cy="109.86" r="2.3" fill="#9a9a5e"/>
<circle cx="179.44" cy="69.75" r="2.3" fill="#9a9a5e"/>
<circle cx="215.12" cy="152.12" r="2.3" fill="#5fa4d3"/>
<circle cx="183.88" cy="242.31" r="2.3" fill="#f5901e"/>
<circle cx="157.8" cy="237.29" r="2.3" fill="#e8915a"/>
<circle cx="265.33" cy="201.6" r="2.3" fill="#a6cfea"/>
<circle cx="118.11" cy="217.98" r="2.3" fill="#5fa4d3"/>
<circle cx="142.24" cy="246.46" r="2.3" fill="#9a9a5e"/>
<circle cx="179.26" cy="169.87" r="2.3" fill="#b08fd0"/>
<circle cx="268.05" cy="180.13" r="2.3" fill="#e8915a"/>
<circle cx="223.37" cy="235.88" r="2.3" fill="#c9a3c4"/>
<circle cx="169.55" cy="221.64" r="2.3" fill="#e8915a"/>
<circle cx="243.04" cy="123.78" r="2.3" fill="#a6cfea"/>
<circle cx="218.58" cy="129.93" r="2.3" fill="#5fa4d3"/>
<circle cx="221.09" cy="191.14" r="2.3" fill="#9a9a5e"/>
<circle cx="174.75" cy="163.26" r="2.3" fill="#a6cfea"/>
<circle cx="48.26" cy="146.11" r="2.3" fill="#9a9a5e"/>
<circle cx="265.21" cy="198.99" r="2.3" fill="#e8915a"/>
<circle cx="285.1" cy="170.11" r="2.3" fill="#5fa4d3"/>
<circle cx="171.94" cy="185.34" r="2.3" fill="#5fa4d3"/>
<circle cx="65.83" cy="72.26" r="2.3" fill="#f5ae6e"/>
<circle cx="193.94" cy="214.88" r="2.3" fill="#9a9a5e"/>
<circle cx="104.69" cy="201.65" r="2.3" fill="#c9a3c4"/>
<circle cx="48.95" cy="170.77" r="2.3" fill="#5fa4d3"/>
<circle cx="175.49" cy="280.62" r="2.3" fill="#e8915a"/>
<circle cx="169.3" cy="153.84" r="2.3" fill="#5fa4d3"/>
<circle cx="124.23" cy="192.08" r="2.3" fill="#a6cfea"/>
<circle cx="112.47" cy="90.78" r="2.3" fill="#e8915a"/>
<circle cx="260.55" cy="133.3" r="2.3" fill="#9a9a5e"/>
<circle cx="214.91" cy="154.74" r="2.3" fill="#a6cfea"/>
<circle cx="173.59" cy="190.98" r="2.3" fill="#a08a97"/>
<circle cx="210.21" cy="110.65" r="2.3" fill="#5fa4d3"/>
<circle cx="202.99" cy="246.64" r="2.3" fill="#f57f1c"/>
<circle cx="209.96" cy="122.11" r="2.3" fill="#efd77a"/>
<circle cx="91.95" cy="146.98" r="2.3" fill="#5cae98"/>
<circle cx="153.78" cy="153.84" r="2.3" fill="#a6cfea"/>
<circle cx="199.5" cy="71.07" r="2.3" fill="#a6cfea"/>
<circle cx="106.19" cy="163.5" r="2.3" fill="#e8915a"/>
<circle cx="252.44" cy="214.89" r="2.3" fill="#3a88ae"/>
<circle cx="198.63" cy="158.89" r="2.3" fill="#9a9a5e"/>
<circle cx="147.45" cy="248.89" r="2.3" fill="#a3532e"/>
<circle cx="180.45" cy="217.42" r="2.3" fill="#a6cfea"/>
<circle cx="196.61" cy="160.29" r="2.3" fill="#5cae98"/>
<circle cx="233.5" cy="197.67" r="2.3" fill="#c9a3c4"/>
<circle cx="46.22" cy="82.08" r="2.3" fill="#c9a3c4"/>
<circle cx="72.45" cy="123.74" r="2.3" fill="#9a9a5e"/>
<circle cx="259.37" cy="202.63" r="2.3" fill="#c9a3c4"/>
<circle cx="211.38" cy="182.92" r="2.3" fill="#c9a3c4"/>
<circle cx="98.61" cy="69.58" r="2.3" fill="#efd77a"/>
<circle cx="121.2" cy="151.35" r="2.3" fill="#a6cfea"/>
<circle cx="200.58" cy="264.29" r="2.3" fill="#a3532e"/>
<circle cx="225.74" cy="217.26" r="2.3" fill="#5cae98"/>
<circle cx="231.34" cy="275.55" r="2.3" fill="#a3532e"/>
<circle cx="195.83" cy="91.91" r="2.3" fill="#5fa4d3"/>
<circle cx="176.62" cy="234.37" r="2.3" fill="#e4dd9a"/>
<circle cx="100.34" cy="75.84" r="2.3" fill="#5fa4d3"/>
<circle cx="75.21" cy="63.15" r="2.3" fill="#c9a3c4"/>
<circle cx="172.53" cy="270.91" r="2.3" fill="#9a9a5e"/>
<circle cx="192.78" cy="174.57" r="2.3" fill="#a6cfea"/>
<circle cx="239.45" cy="263.12" r="2.3" fill="#a08a97"/>
<circle cx="221.36" cy="102.65" r="2.3" fill="#a6cfea"/>
<circle cx="135.91" cy="232.84" r="2.3" fill="#5fa4d3"/>
<circle cx="199.55" cy="119.39" r="2.3" fill="#a6cfea"/>
<circle cx="65.32" cy="164.07" r="2.3" fill="#e8915a"/>
<circle cx="241.49" cy="211.91" r="2.3" fill="#9a9a5e"/>
<circle cx="187.84" cy="70.67" r="2.3" fill="#5cae98"/>
<circle cx="223.56" cy="199.21" r="2.3" fill="#5fa4d3"/>
<circle cx="208.96" cy="155.71" r="2.3" fill="#9a9a5e"/>
<circle cx="129.85" cy="74.81" r="2.3" fill="#c9a3c4"/>
<circle cx="106.12" cy="136.22" r="2.3" fill="#c9a3c4"/>
<circle cx="173.41" cy="54.08" r="2.3" fill="#a08a97"/>
<circle cx="138.34" cy="156.61" r="2.3" fill="#c9a3c4"/>
<circle cx="249.04" cy="226.96" r="2.3" fill="#9a9a5e"/>
<circle cx="294.96" cy="208.02" r="2.3" fill="#9a9a5e"/>
<circle cx="239.54" cy="100.1" r="2.3" fill="#5fa4d3"/>
<circle cx="217.69" cy="117.53" r="2.3" fill="#c9a3c4"/>
<circle cx="163.29" cy="217.1" r="2.3" fill="#c9a3c4"/>
<circle cx="150.06" cy="245.1" r="2.3" fill="#c9a3c4"/>
<circle cx="108.62" cy="187.46" r="2.3" fill="#3a88c6"/>
<circle cx="134.34" cy="94.99" r="2.3" fill="#c9a3c4"/>
<circle cx="212.28" cy="224.73" r="2.3" fill="#9a9a5e"/>
<circle cx="196.5" cy="81.18" r="2.3" fill="#e8915a"/>
<circle cx="266.68" cy="206.33" r="2.3" fill="#a6cfea"/>
<circle cx="131.56" cy="104.98" r="2.3" fill="#c9a3c4"/>
<circle cx="101.26" cy="56.08" r="2.3" fill="#f5901e"/>
<circle cx="247.88" cy="192.86" r="2.3" fill="#c9a3c4"/>
<circle cx="123.8" cy="170.14" r="2.3" fill="#c9a3c4"/>
<circle cx="70.03" cy="113.85" r="2.3" fill="#f5901e"/>
<circle cx="191.85" cy="273.61" r="2.3" fill="#e8915a"/>
<circle cx="167.49" cy="168.17" r="2.3" fill="#c9a3c4"/>
<circle cx="98.74" cy="181.08" r="2.3" fill="#efd77a"/>
<circle cx="134.77" cy="191.13" r="2.3" fill="#5fa4d3"/>
<circle cx="287.11" cy="150" r="2.3" fill="#9a9a5e"/>
<circle cx="284.21" cy="196.75" r="2.3" fill="#5fa4d3"/>
<circle cx="124.53" cy="173.64" r="2.3" fill="#e8915a"/>
<circle cx="136.29" cy="203.47" r="2.3" fill="#a6cfea"/>
<circle cx="202.52" cy="163.63" r="2.3" fill="#c9a3c4"/>
<circle cx="144.66" cy="184.56" r="2.3" fill="#c9a3c4"/>
<circle cx="274.8" cy="162.8" r="2.3" fill="#5fa4d3"/>
<circle cx="34.19" cy="132.83" r="2.3" fill="#e8915a"/>
<circle cx="183.26" cy="192.66" r="2.3" fill="#e8915a"/>
<circle cx="186.81" cy="226.93" r="2.3" fill="#c9a3c4"/>
<circle cx="130.01" cy="178.26" r="2.3" fill="#e8915a"/>
<circle cx="155.4" cy="148.34" r="2.3" fill="#c9a3c4"/>
<circle cx="327.86" cy="192.36" r="2.3" fill="#c9a3c4"/>
<circle cx="160.13" cy="142.88" r="2.3" fill="#c9a3c4"/>
<circle cx="218.2" cy="79.81" r="2.3" fill="#c9a3c4"/>
<circle cx="266.9" cy="224.99" r="2.3" fill="#e8915a"/>
<circle cx="205.71" cy="79.57" r="2.3" fill="#9a9a5e"/>
<circle cx="111.21" cy="222.45" r="2.3" fill="#9a9a5e"/>
<circle cx="155.41" cy="125.81" r="2.3" fill="#c9a3c4"/>
<circle cx="116.89" cy="153.21" r="2.3" fill="#5fa4d3"/>
<circle cx="156.24" cy="79.13" r="2.3" fill="#e8915a"/>
<circle cx="204.97" cy="266.22" r="2.3" fill="#3b9f3b"/>
<circle cx="159.47" cy="61.15" r="2.3" fill="#e8915a"/>
<circle cx="254.87" cy="275.12" r="2.3" fill="#9a9a5e"/>
<circle cx="246.23" cy="92.3" r="2.3" fill="#5fa4d3"/>
<circle cx="285.99" cy="147.38" r="2.3" fill="#5fa4d3"/>
<circle cx="114.6" cy="219.18" r="2.3" fill="#5fa4d3"/>
<circle cx="134.77" cy="132.83" r="2.3" fill="#9a9a5e"/>
<circle cx="196.34" cy="128.38" r="2.3" fill="#5cae98"/>
<circle cx="147.26" cy="119.54" r="2.3" fill="#5cae98"/>
<circle cx="189.32" cy="177.36" r="2.3" fill="#a6cfea"/>
<circle cx="219.55" cy="265.37" r="2.3" fill="#5fa4d3"/>
<circle cx="153" cy="203.18" r="2.3" fill="#9a9a5e"/>
<circle cx="195.33" cy="283.01" r="2.3" fill="#9a9a5e"/>
<circle cx="252.69" cy="120.15" r="2.3" fill="#3a88c6"/>
<circle cx="171.36" cy="266.57" r="2.3" fill="#a6cfea"/>
<circle cx="57.33" cy="142.54" r="2.3" fill="#a3532e"/>
<circle cx="125.57" cy="198.61" r="2.3" fill="#5fa4d3"/>
<circle cx="154.3" cy="94.11" r="2.3" fill="#e8915a"/>
<circle cx="146.11" cy="123.91" r="2.3" fill="#a6cfea"/>
<circle cx="37.92" cy="166.95" r="2.3" fill="#c9a3c4"/>
<circle cx="107.23" cy="202.8" r="2.3" fill="#c9a3c4"/>
<circle cx="6.02" cy="108.59" r="2.3" fill="#5fa4d3"/>
<circle cx="244.75" cy="97.77" r="2.3" fill="#c9a3c4"/>
<circle cx="236.16" cy="261.87" r="2.3" fill="#c9a3c4"/>
<circle cx="224.21" cy="207.68" r="2.3" fill="#a5d88a"/>
<circle cx="154.93" cy="67.93" r="2.3" fill="#e8915a"/>
<circle cx="71.89" cy="78.11" r="2.3" fill="#a6cfea"/>
<circle cx="239.29" cy="174.85" r="2.3" fill="#a6cfea"/>
<circle cx="165.49" cy="172.77" r="2.3" fill="#c9a3c4"/>
<circle cx="60.2" cy="117.01" r="2.3" fill="#c9a3c4"/>
<circle cx="141.85" cy="154" r="2.3" fill="#c9a3c4"/>
<circle cx="196.49" cy="264.59" r="2.3" fill="#5cae98"/>
<circle cx="137.93" cy="239.55" r="2.3" fill="#c9a3c4"/>
<circle cx="294.36" cy="150.95" r="2.3" fill="#c9a3c4"/>
<circle cx="176.57" cy="75" r="2.3" fill="#9a9a5e"/>
<circle cx="84.26" cy="82.84" r="2.3" fill="#5fa4d3"/>
<circle cx="131" cy="130.27" r="2.3" fill="#5cae98"/>
<circle cx="57.13" cy="101" r="2.3" fill="#5cae98"/>
<circle cx="212.46" cy="164.65" r="2.3" fill="#e8915a"/>
<circle cx="200.63" cy="97.11" r="2.3" fill="#c9a3c4"/>
<circle cx="229.8" cy="190.8" r="2.3" fill="#a3532e"/>
<circle cx="235.83" cy="80.7" r="2.3" fill="#9a9a5e"/>
<circle cx="164.47" cy="238.19" r="2.3" fill="#3a88c6"/>
<circle cx="207.54" cy="104.9" r="2.3" fill="#c9a3c4"/>
<circle cx="21.01" cy="114.93" r="2.3" fill="#e8915a"/>
<circle cx="232.1" cy="85.77" r="2.3" fill="#3b9f3b"/>
<circle cx="186.53" cy="212.54" r="2.3" fill="#c9a3c4"/>
<circle cx="270.86" cy="136.85" r="2.3" fill="#9a9a5e"/>
<circle cx="198.49" cy="213.34" r="2.3" fill="#5fa4d3"/>
<circle cx="249.82" cy="208.17" r="2.3" fill="#5fa4d3"/>
<circle cx="97.44" cy="79.86" r="2.3" fill="#e8915a"/>
<circle cx="188.11" cy="133.29" r="2.3" fill="#9a9a5e"/>
<circle cx="98.18" cy="164.65" r="2.3" fill="#9a9a5e"/>
<circle cx="58.97" cy="157.81" r="2.3" fill="#a6cfea"/>
<circle cx="117.13" cy="174.39" r="2.3" fill="#a08a97"/>
<circle cx="121.17" cy="110.67" r="2.3" fill="#c9a3c4"/>
<circle cx="77.01" cy="105.48" r="2.3" fill="#b08fd0"/>
<circle cx="148.9" cy="186.33" r="2.3" fill="#5fa4d3"/>
<circle cx="237.89" cy="131.72" r="2.3" fill="#5fa4d3"/>
<circle cx="191.37" cy="219.09" r="2.3" fill="#f5901e"/>
<circle cx="201.57" cy="171.04" r="2.3" fill="#c68f4a"/>
<circle cx="210.19" cy="244" r="2.3" fill="#5fa4d3"/>
<circle cx="187.65" cy="79.48" r="2.3" fill="#f7a74e"/>
<circle cx="124.29" cy="72.43" r="2.3" fill="#9a9a5e"/>
<circle cx="38.38" cy="136.2" r="2.3" fill="#efd77a"/>
<circle cx="105.55" cy="85.18" r="2.3" fill="#e8915a"/>
<circle cx="32.19" cy="145.12" r="2.3" fill="#e8915a"/>
<circle cx="221.56" cy="122.9" r="2.3" fill="#5fa4d3"/>
<circle cx="143.93" cy="118.37" r="2.3" fill="#9a9a5e"/>
<circle cx="245.87" cy="265.55" r="2.3" fill="#e8915a"/>
<circle cx="193.29" cy="253.25" r="2.3" fill="#c9a3c4"/>
<circle cx="82.11" cy="93.41" r="2.3" fill="#5cae98"/>
<circle cx="264.59" cy="117.24" r="2.3" fill="#5fa4d3"/>
<circle cx="248.03" cy="249.27" r="2.3" fill="#e8915a"/>
<circle cx="263.6" cy="188.77" r="2.3" fill="#5fa4d3"/>
<circle cx="283.15" cy="206.6" r="2.3" fill="#efd77a"/>
<circle cx="279.28" cy="192.87" r="2.3" fill="#5cae98"/>
<circle cx="267.03" cy="126.21" r="2.3" fill="#eda0a0"/>
<circle cx="224.04" cy="176.96" r="2.3" fill="#a08a97"/>
<circle cx="234.43" cy="202.47" r="2.3" fill="#e8915a"/>
<circle cx="254.16" cy="151.88" r="2.3" fill="#69399a"/>
<circle cx="204.64" cy="177.04" r="2.3" fill="#5fa4d3"/>
<circle cx="216.23" cy="147.04" r="2.3" fill="#c9a3c4"/>
<circle cx="123.21" cy="167.58" r="2.3" fill="#e8915a"/>
<circle cx="136.18" cy="135.14" r="2.3" fill="#c9a3c4"/>
<circle cx="163.01" cy="137.58" r="2.3" fill="#c9a3c4"/>
<circle cx="134.6" cy="65.27" r="2.3" fill="#e8915a"/>
<circle cx="237.27" cy="98.4" r="2.3" fill="#a6cfea"/>
<circle cx="77.92" cy="154.73" r="2.3" fill="#5cae98"/>
<circle cx="286.31" cy="174.44" r="2.3" fill="#5fa4d3"/>
<circle cx="92.6" cy="69.25" r="2.3" fill="#efd77a"/>
<circle cx="253.82" cy="96.18" r="2.3" fill="#a6cfea"/>
<circle cx="210.43" cy="114.75" r="2.3" fill="#9a9a5e"/>
<circle cx="192.59" cy="153.22" r="2.3" fill="#8a58b6"/>
<circle cx="42.8" cy="140.22" r="2.3" fill="#a5d88a"/>
<circle cx="115.08" cy="107.42" r="2.3" fill="#e8915a"/>
<circle cx="153.73" cy="121.98" r="2.3" fill="#9a9a5e"/>
<circle cx="240.84" cy="160.58" r="2.3" fill="#c9a3c4"/>
<circle cx="226.07" cy="255.15" r="2.3" fill="#9a9a5e"/>
<circle cx="172.98" cy="131.28" r="2.3" fill="#e8915a"/>
<circle cx="151.12" cy="205.88" r="2.3" fill="#c9a3c4"/>
<circle cx="133.57" cy="115.5" r="2.3" fill="#9a9a5e"/>
<circle cx="118.95" cy="183.13" r="2.3" fill="#e8915a"/>
<circle cx="79.76" cy="78.17" r="2.3" fill="#e8915a"/>
<circle cx="209.43" cy="212.55" r="2.3" fill="#c9a3c4"/>
<circle cx="123.61" cy="67.96" r="2.3" fill="#a6cfea"/>
<circle cx="189.65" cy="113.45" r="2.3" fill="#efd77a"/>
<circle cx="195.31" cy="103.36" r="2.3" fill="#5fa4d3"/>
<circle cx="87.03" cy="142.86" r="2.3" fill="#c9a3c4"/>
<circle cx="93.97" cy="117.2" r="2.3" fill="#a6cfea"/>
<circle cx="237.16" cy="182.33" r="2.3" fill="#a6cfea"/>
<circle cx="55.19" cy="92.98" r="2.3" fill="#c9a3c4"/>
<circle cx="109.47" cy="99.81" r="2.3" fill="#e8915a"/>
<circle cx="187.72" cy="158.85" r="2.3" fill="#efd77a"/>
<circle cx="100.96" cy="102.77" r="2.3" fill="#c9a3c4"/>
<circle cx="137.1" cy="72.98" r="2.3" fill="#c9a3c4"/>
<circle cx="312.82" cy="207.27" r="2.3" fill="#5fa4d3"/>
<circle cx="103.49" cy="122.43" r="2.3" fill="#5fa4d3"/>
<circle cx="219.66" cy="86.02" r="2.3" fill="#a6cfea"/>
<circle cx="180.03" cy="136.34" r="2.3" fill="#a6cfea"/>
<circle cx="217.73" cy="268.64" r="2.3" fill="#3a88c6"/>
<circle cx="236.35" cy="140.32" r="2.3" fill="#9a9a5e"/>
<circle cx="77.15" cy="74.3" r="2.3" fill="#c9a3c4"/>
<circle cx="264.02" cy="135.27" r="2.3" fill="#5fa4d3"/>
<circle cx="191.08" cy="134.39" r="2.3" fill="#c9a3c4"/>
<circle cx="219.06" cy="259.2" r="2.3" fill="#e8915a"/>
<circle cx="227.48" cy="194.09" r="2.3" fill="#c9a3c4"/>
<circle cx="167.9" cy="110.13" r="2.3" fill="#c9a3c4"/>
<circle cx="268.37" cy="197.54" r="2.3" fill="#e8915a"/>
<circle cx="210.27" cy="238.01" r="2.3" fill="#5fa4d3"/>
<circle cx="208.8" cy="221.86" r="2.3" fill="#9a9a5e"/>
<circle cx="93.7" cy="66.26" r="2.3" fill="#9a9a5e"/>
<circle cx="252.8" cy="175.1" r="2.3" fill="#5fa4d3"/>
<circle cx="135.4" cy="69.89" r="2.3" fill="#9a9a5e"/>
<circle cx="233.23" cy="220.47" r="2.3" fill="#a6cfea"/>
<circle cx="136.78" cy="56.57" r="2.3" fill="#9a9a5e"/>
<circle cx="260.28" cy="171.96" r="2.3" fill="#c9a3c4"/>
<circle cx="123.14" cy="142.88" r="2.3" fill="#3a88c6"/>
<circle cx="193.85" cy="224.98" r="2.3" fill="#c9a3c4"/>
<circle cx="248.98" cy="263.81" r="2.3" fill="#e8915a"/>
<circle cx="280.69" cy="182.74" r="2.3" fill="#9a9a5e"/>
<circle cx="247.01" cy="174.9" r="2.3" fill="#c9a3c4"/>
<circle cx="259.93" cy="167.79" r="2.3" fill="#e8915a"/>
<circle cx="213.04" cy="244.18" r="2.3" fill="#c9a3c4"/>
<circle cx="112.83" cy="64.15" r="2.3" fill="#e8915a"/>
<circle cx="87.97" cy="94.5" r="2.3" fill="#f5901e"/>
<circle cx="84.8" cy="106.4" r="2.3" fill="#f5901e"/>
<circle cx="204.48" cy="94.71" r="2.3" fill="#e8915a"/>
<circle cx="244.25" cy="78.67" r="2.3" fill="#a6cfea"/>
<circle cx="59.51" cy="112.36" r="2.3" fill="#a6cfea"/>
<circle cx="285.14" cy="200.49" r="2.3" fill="#e8915a"/>
<circle cx="178.27" cy="94.52" r="2.3" fill="#f5901e"/>
<circle cx="129.82" cy="236.24" r="2.3" fill="#e4dd9a"/>
<circle cx="174.83" cy="153.49" r="2.3" fill="#c9a3c4"/>
<circle cx="150.02" cy="109.28" r="2.3" fill="#a6cfea"/>
<circle cx="205.79" cy="146.29" r="2.3" fill="#c9a3c4"/>
<circle cx="109.87" cy="149.89" r="2.3" fill="#5fa4d3"/>
<circle cx="262.84" cy="205.93" r="2.3" fill="#c9a3c4"/>
<circle cx="173.69" cy="112.41" r="2.3" fill="#f5901e"/>
<circle cx="184.16" cy="97.87" r="2.3" fill="#5fa4d3"/>
<circle cx="155.56" cy="279.22" r="2.3" fill="#9a9a5e"/>
<circle cx="269.2" cy="112.42" r="2.3" fill="#c9a3c4"/>
<circle cx="144.44" cy="92.89" r="2.3" fill="#a08a97"/>
<circle cx="242.1" cy="153.06" r="2.3" fill="#a08a97"/>
<circle cx="215.84" cy="100.8" r="2.3" fill="#c9a3c4"/>
<circle cx="237.73" cy="146.84" r="2.3" fill="#f5901e"/>
<circle cx="188.8" cy="222.57" r="2.3" fill="#c9a3c4"/>
<circle cx="261.43" cy="130.66" r="2.3" fill="#5cae98"/>
<circle cx="228.71" cy="203.38" r="2.3" fill="#a08a97"/>
<circle cx="151.28" cy="147.55" r="2.3" fill="#efd77a"/>
<circle cx="215.92" cy="212.88" r="2.3" fill="#f5901e"/>
<circle cx="191.31" cy="111.29" r="2.3" fill="#5fa4d3"/>
<circle cx="117.85" cy="95.1" r="2.3" fill="#5fa4d3"/>
<circle cx="28.84" cy="134.35" r="2.3" fill="#a6cfea"/>
<circle cx="157.43" cy="190.64" r="2.3" fill="#9a9a5e"/>
<circle cx="169.98" cy="145.63" r="2.3" fill="#5fa4d3"/>
<circle cx="15.66" cy="127.26" r="2.3" fill="#a6cfea"/>
<circle cx="110.03" cy="200" r="2.3" fill="#5cae98"/>
<circle cx="201.95" cy="125.59" r="2.3" fill="#5fa4d3"/>
<circle cx="272.88" cy="164.91" r="2.3" fill="#e8915a"/>
<circle cx="175.67" cy="237.48" r="2.3" fill="#9a9a5e"/>
<circle cx="119.17" cy="107.33" r="2.3" fill="#c9a3c4"/>
<circle cx="252.48" cy="80.32" r="2.3" fill="#c9a3c4"/>
<circle cx="221.49" cy="90.06" r="2.3" fill="#e8915a"/>
<circle cx="129.63" cy="256.69" r="2.3" fill="#e8915a"/>
<circle cx="242.43" cy="220.24" r="2.3" fill="#f5901e"/>
<circle cx="132.46" cy="90.67" r="2.3" fill="#f5901e"/>
<circle cx="198.59" cy="91.44" r="2.3" fill="#9a9a5e"/>
<circle cx="50.57" cy="119.59" r="2.3" fill="#c9a3c4"/>
<circle cx="216.83" cy="203.04" r="2.3" fill="#e4dd9a"/>
<circle cx="276.65" cy="167.17" r="2.3" fill="#e8915a"/>
<circle cx="172.55" cy="178.26" r="2.3" fill="#a3532e"/>
<circle cx="192.67" cy="244.67" r="2.3" fill="#9a9a5e"/>
<circle cx="58.46" cy="74.35" r="2.3" fill="#9a9a5e"/>
<circle cx="156.36" cy="178.42" r="2.3" fill="#5fa4d3"/>
<circle cx="275.82" cy="193.71" r="2.3" fill="#a3532e"/>
<circle cx="79.04" cy="151.94" r="2.3" fill="#c9a3c4"/>
<circle cx="105.85" cy="195.32" r="2.3" fill="#e8915a"/>
<circle cx="49.05" cy="123.09" r="2.3" fill="#efd77a"/>
<circle cx="220.33" cy="204.56" r="2.3" fill="#c9a3c4"/>
<circle cx="120.64" cy="197.17" r="2.3" fill="#c9a3c4"/>
<circle cx="302.65" cy="178.79" r="2.3" fill="#5fa4d3"/>
<circle cx="94.46" cy="166.88" r="2.3" fill="#c9a3c4"/>
<circle cx="97.64" cy="190.75" r="2.3" fill="#c9a3c4"/>
<circle cx="164.87" cy="131.78" r="2.3" fill="#c9a3c4"/>
<circle cx="86.47" cy="58.52" r="2.3" fill="#e4dd9a"/>
<circle cx="74.46" cy="102.47" r="2.3" fill="#5fa4d3"/>
<circle cx="236.55" cy="156.76" r="2.3" fill="#9a9a5e"/>
<circle cx="231.86" cy="107.07" r="2.3" fill="#c9a3c4"/>
<circle cx="239.8" cy="148.16" r="2.3" fill="#c9a3c4"/>
<circle cx="103.31" cy="69.95" r="2.3" fill="#f5901e"/>
<circle cx="229.4" cy="229.62" r="2.3" fill="#a3532e"/>
<circle cx="305.21" cy="180.31" r="2.3" fill="#9a9a5e"/>
<circle cx="70.88" cy="145.25" r="2.3" fill="#c9a3c4"/>
<circle cx="130.17" cy="205.16" r="2.3" fill="#c9a3c4"/>
<circle cx="165.05" cy="212.71" r="2.3" fill="#9a9a5e"/>
<circle cx="247.08" cy="116.24" r="2.3" fill="#5fa4d3"/>
<circle cx="246.31" cy="109.99" r="2.3" fill="#5fa4d3"/>
<circle cx="143.06" cy="167.42" r="2.3" fill="#c9a3c4"/>
<circle cx="181.91" cy="148.06" r="2.3" fill="#5fa4d3"/>
<circle cx="182.38" cy="134.33" r="2.3" fill="#e8915a"/>
<circle cx="192.16" cy="122.72" r="2.3" fill="#5fa4d3"/>
<circle cx="4.44" cy="135.92" r="2.3" fill="#e8915a"/>
<circle cx="203.17" cy="254.99" r="2.3" fill="#5cae98"/>
<circle cx="154.72" cy="61.45" r="2.3" fill="#9a9a5e"/>
<circle cx="204.3" cy="140.76" r="2.3" fill="#f57f1c"/>
<circle cx="236.2" cy="165.62" r="2.3" fill="#5fa4d3"/>
<circle cx="82.21" cy="148.54" r="2.3" fill="#5fa4d3"/>
<circle cx="142.19" cy="150.71" r="2.3" fill="#5cae98"/>
<circle cx="248.91" cy="112.52" r="2.3" fill="#9a9a5e"/>
<circle cx="200.54" cy="231.1" r="2.3" fill="#e8915a"/>
<circle cx="179.03" cy="142.02" r="2.3" fill="#c9a3c4"/>
<circle cx="103.92" cy="125.1" r="2.3" fill="#efd77a"/>
<circle cx="40.71" cy="113.6" r="2.3" fill="#3a88c6"/>
<circle cx="280.38" cy="133.6" r="2.3" fill="#c9a3c4"/>
<circle cx="244.65" cy="236.44" r="2.3" fill="#c9a3c4"/>
<circle cx="153.63" cy="260.93" r="2.3" fill="#e8915a"/>
<circle cx="215.51" cy="173.34" r="2.3" fill="#e8915a"/>
<circle cx="194.96" cy="185.75" r="2.3" fill="#e8915a"/>
<circle cx="99.02" cy="134.7" r="2.3" fill="#c9a3c4"/>
<circle cx="163.17" cy="148.78" r="2.3" fill="#a6cfea"/>
<circle cx="76.12" cy="128.42" r="2.3" fill="#a6cfea"/>
<circle cx="294.24" cy="137.61" r="2.3" fill="#49a949"/>
<circle cx="94.23" cy="174.75" r="2.3" fill="#e8915a"/>
<circle cx="143.5" cy="244.07" r="2.3" fill="#c9a3c4"/>
<circle cx="229.67" cy="232.05" r="2.3" fill="#c9a3c4"/>
<circle cx="132.36" cy="135.66" r="2.3" fill="#5cae98"/>
<circle cx="44.5" cy="124.17" r="2.3" fill="#a6cfea"/>
<circle cx="52.39" cy="173.09" r="2.3" fill="#c9a3c4"/>
<circle cx="56.91" cy="123.25" r="2.3" fill="#5cae98"/>
<circle cx="84.52" cy="132.52" r="2.3" fill="#a6cfea"/>
<circle cx="136.35" cy="89.76" r="2.3" fill="#c9a3c4"/>
<circle cx="112.46" cy="77.35" r="2.3" fill="#e8915a"/>
<circle cx="206.29" cy="218.32" r="2.3" fill="#5fa4d3"/>
<circle cx="272.72" cy="158.9" r="2.3" fill="#9a9a5e"/>
<circle cx="35.64" cy="146.44" r="2.3" fill="#a3532e"/>
<circle cx="129.62" cy="249.03" r="2.3" fill="#e8915a"/>
<circle cx="132.69" cy="184.61" r="2.3" fill="#c9a3c4"/>
<circle cx="247.54" cy="277.52" r="2.3" fill="#5cae98"/>
<circle cx="128.2" cy="77.65" r="2.3" fill="#5fa4d3"/>
<circle cx="227.02" cy="185.88" r="2.3" fill="#e8915a"/>
<circle cx="260.06" cy="144.26" r="2.3" fill="#5fa4d3"/>
<circle cx="132.03" cy="118.47" r="2.3" fill="#c9a3c4"/>
<circle cx="161.55" cy="213.1" r="2.3" fill="#9a9a5e"/>
<circle cx="83.67" cy="153.55" r="2.3" fill="#5cae98"/>
<circle cx="259.73" cy="163.94" r="2.3" fill="#3a88c6"/>
<circle cx="107.07" cy="55.62" r="2.3" fill="#5fa4d3"/>
<circle cx="63.55" cy="161.58" r="2.3" fill="#9a9a5e"/>
<circle cx="215.93" cy="187.58" r="2.3" fill="#a08a97"/>
<circle cx="151.57" cy="92.4" r="2.3" fill="#5fa4d3"/>
<circle cx="172.22" cy="214.13" r="2.3" fill="#a6cfea"/>
<circle cx="93.65" cy="155.93" r="2.3" fill="#c9a3c4"/>
<circle cx="293.35" cy="193.25" r="2.3" fill="#c9a3c4"/>
<circle cx="101.36" cy="119.44" r="2.3" fill="#c9a3c4"/>
<circle cx="211.9" cy="269.49" r="2.3" fill="#c9a3c4"/>
<circle cx="151.82" cy="258.03" r="2.3" fill="#e8915a"/>
<circle cx="42.25" cy="150.19" r="2.3" fill="#c9a3c4"/>
<circle cx="207.9" cy="198.39" r="2.3" fill="#5fa4d3"/>
<circle cx="189.9" cy="164.1" r="2.3" fill="#e4dd9a"/>
<circle cx="175.14" cy="117.34" r="2.3" fill="#f57f1c"/>
<circle cx="121.38" cy="216.11" r="2.3" fill="#9a9a5e"/>
<circle cx="115.32" cy="201.81" r="2.3" fill="#c9a3c4"/>
<circle cx="306.86" cy="206.73" r="2.3" fill="#c9a3c4"/>
<circle cx="201.61" cy="226.23" r="2.3" fill="#5fa4d3"/>
<circle cx="183" cy="212.54" r="2.3" fill="#c9a3c4"/>
<circle cx="204.19" cy="239.89" r="2.3" fill="#e8915a"/>
<circle cx="220.98" cy="148.92" r="2.3" fill="#c9a3c4"/>
<circle cx="253.35" cy="92.48" r="2.3" fill="#a6cfea"/>
<circle cx="266.77" cy="175.54" r="2.3" fill="#5fa4d3"/>
<circle cx="205.51" cy="202.45" r="2.3" fill="#5cae98"/>
<circle cx="45.13" cy="103.44" r="2.3" fill="#e8915a"/>
<circle cx="184.37" cy="176.29" r="2.3" fill="#c9a3c4"/>
<circle cx="73.11" cy="160.14" r="2.3" fill="#c9a3c4"/>
<circle cx="55.1" cy="61.53" r="2.3" fill="#e4dd9a"/>
<circle cx="208.92" cy="186.24" r="2.3" fill="#a08a97"/>
<circle cx="77.28" cy="60.18" r="2.3" fill="#e8915a"/>
<circle cx="231.16" cy="224.96" r="2.3" fill="#5fa4d3"/>
<circle cx="55.34" cy="163.96" r="2.3" fill="#f57f1c"/>
<circle cx="160.51" cy="55.76" r="2.3" fill="#5fa4d3"/>
<circle cx="248.56" cy="96.07" r="2.3" fill="#5cae98"/>
<circle cx="219.05" cy="74.86" r="2.3" fill="#9a9a5e"/>
<circle cx="190.89" cy="100.4" r="2.3" fill="#eda0a0"/>
<circle cx="98.36" cy="138.63" r="2.3" fill="#8a58b6"/>
<circle cx="206.74" cy="138.18" r="2.3" fill="#9a9a5e"/>
<circle cx="113.34" cy="147.93" r="2.3" fill="#a08a97"/>
<circle cx="173.66" cy="85.96" r="2.3" fill="#5cae98"/>
<circle cx="290.73" cy="176.53" r="2.3" fill="#5fa4d3"/>
<circle cx="97.92" cy="89.44" r="2.3" fill="#e8915a"/>
<circle cx="91.72" cy="198.91" r="2.3" fill="#f5901e"/>
<circle cx="39.22" cy="150.64" r="2.3" fill="#5fa4d3"/>
<circle cx="180.63" cy="173.64" r="2.3" fill="#5fa4d3"/>
<circle cx="195.23" cy="112.02" r="2.3" fill="#9a9a5e"/>
<circle cx="254.88" cy="158.29" r="2.3" fill="#e8915a"/>
<circle cx="48.07" cy="159.44" r="2.3" fill="#a6cfea"/>
<circle cx="61.47" cy="68.05" r="2.3" fill="#a3532e"/>
<circle cx="201" cy="280.65" r="2.3" fill="#e8915a"/>
<circle cx="28.9" cy="113.73" r="2.3" fill="#5fa4d3"/>
<circle cx="208.74" cy="166.09" r="2.3" fill="#c9a3c4"/>
<circle cx="132.3" cy="67.33" r="2.3" fill="#5fa4d3"/>
<circle cx="55.41" cy="98.98" r="2.3" fill="#5cae98"/>
<circle cx="225.81" cy="201.15" r="2.3" fill="#5fa4d3"/>
<circle cx="126.3" cy="226.93" r="2.3" fill="#c9a3c4"/>
<circle cx="253.87" cy="230.06" r="2.3" fill="#a6cfea"/>
<circle cx="20.95" cy="110.51" r="2.3" fill="#5cae98"/>
<circle cx="164.79" cy="86.54" r="2.3" fill="#a6cfea"/>
<circle cx="99.61" cy="83.97" r="2.3" fill="#e8915a"/>
<circle cx="242.43" cy="112.76" r="2.3" fill="#5fa4d3"/>
<circle cx="250.67" cy="143.62" r="2.3" fill="#e8915a"/>
<circle cx="238.24" cy="90.69" r="2.3" fill="#5fa4d3"/>
<circle cx="112.72" cy="158.04" r="2.3" fill="#5fa4d3"/>
<circle cx="149.66" cy="165.12" r="2.3" fill="#a6cfea"/>
<circle cx="310.16" cy="191.17" r="2.3" fill="#efd77a"/>
<circle cx="147.99" cy="94.9" r="2.3" fill="#a5d88a"/>
<circle cx="152.44" cy="209.78" r="2.3" fill="#c9a3c4"/>
<circle cx="155.8" cy="87.76" r="2.3" fill="#5fa4d3"/>
<circle cx="149.29" cy="98.08" r="2.3" fill="#5cae98"/>
<circle cx="107.03" cy="212.58" r="2.3" fill="#5cae98"/>
<circle cx="138.92" cy="100.63" r="2.3" fill="#5fa4d3"/>
<circle cx="175.7" cy="209.57" r="2.3" fill="#a08a97"/>
<circle cx="148.38" cy="229.81" r="2.3" fill="#e8915a"/>
<circle cx="232.81" cy="157.33" r="2.3" fill="#5fa4d3"/>
<circle cx="278.89" cy="168.08" r="2.3" fill="#9a9a5e"/>
<circle cx="307.36" cy="177.94" r="2.3" fill="#e8915a"/>
<circle cx="137.67" cy="180.79" r="2.3" fill="#a6cfea"/>
<circle cx="98.1" cy="155.62" r="2.3" fill="#e4dd9a"/>
<circle cx="194.53" cy="124.59" r="2.3" fill="#9a9a5e"/>
<circle cx="168.71" cy="177.57" r="2.3" fill="#f5901e"/>
<circle cx="116.82" cy="97.96" r="2.3" fill="#f5901e"/>
<circle cx="224.13" cy="107.66" r="2.3" fill="#8a58b6"/>
<circle cx="24.73" cy="112.72" r="2.3" fill="#c9a3c4"/>
<circle cx="176.72" cy="256.44" r="2.3" fill="#5cae98"/>
<circle cx="127.54" cy="81.79" r="2.3" fill="#9a9a5e"/>
<circle cx="175.57" cy="216.93" r="2.3" fill="#9a9a5e"/>
<circle cx="250.39" cy="254.76" r="2.3" fill="#c9a3c4"/>
<circle cx="285.11" cy="192.8" r="2.3" fill="#efd77a"/>
<circle cx="159.58" cy="285.41" r="2.3" fill="#efd77a"/>
<circle cx="49.75" cy="156.37" r="2.3" fill="#5fa4d3"/>
<circle cx="139.74" cy="139.17" r="2.3" fill="#c9a3c4"/>
<circle cx="46.85" cy="135.26" r="2.3" fill="#e8915a"/>
<circle cx="279.27" cy="165.16" r="2.3" fill="#efd77a"/>
<circle cx="92.49" cy="191.8" r="2.3" fill="#f5901e"/>
<circle cx="129.75" cy="119.64" r="2.3" fill="#5cae98"/>
<circle cx="138.45" cy="133.31" r="2.3" fill="#ec6a40"/>
<circle cx="149.32" cy="215.32" r="2.3" fill="#e8915a"/>
<circle cx="232.23" cy="253.68" r="2.3" fill="#5fa4d3"/>
<circle cx="270.23" cy="186.27" r="2.3" fill="#e8915a"/>
<circle cx="246.23" cy="86.29" r="2.3" fill="#c9a3c4"/>
<circle cx="97.36" cy="64.28" r="2.3" fill="#9a9a5e"/>
<circle cx="208.29" cy="145.71" r="2.3" fill="#69399a"/>
<circle cx="261.02" cy="157.78" r="2.3" fill="#a6cfea"/>
<circle cx="94.22" cy="133.43" r="2.3" fill="#a6cfea"/>
<circle cx="237.15" cy="211.06" r="2.3" fill="#c9a3c4"/>
<circle cx="177.25" cy="149.72" r="2.3" fill="#e8915a"/>
<circle cx="205.78" cy="224.71" r="2.3" fill="#9a9a5e"/>
<circle cx="227.74" cy="109.32" r="2.3" fill="#5fa4d3"/>
<circle cx="230.25" cy="70.67" r="2.3" fill="#e8915a"/>
<circle cx="159.28" cy="276.64" r="2.3" fill="#e8915a"/>
<circle cx="179.61" cy="265.86" r="2.3" fill="#5cae98"/>
<circle cx="175.82" cy="264.19" r="2.3" fill="#3b9f3b"/>
<circle cx="162.25" cy="154.88" r="2.3" fill="#f5ae6e"/>
<circle cx="53.79" cy="121.43" r="2.3" fill="#e8915a"/>
<circle cx="183.86" cy="159.97" r="2.3" fill="#3a88c6"/>
<circle cx="165.27" cy="158.42" r="2.3" fill="#9a9a5e"/>
<circle cx="27.77" cy="122.24" r="2.3" fill="#c9a3c4"/>
<circle cx="126.43" cy="160.1" r="2.3" fill="#c9a3c4"/>
<circle cx="250.14" cy="150.03" r="2.3" fill="#e8915a"/>
<circle cx="114.02" cy="75.1" r="2.3" fill="#c9a3c4"/>
<circle cx="52.72" cy="135.85" r="2.3" fill="#c9a3c4"/>
<circle cx="128.69" cy="72.02" r="2.3" fill="#c9a3c4"/>
<circle cx="37" cy="157.13" r="2.3" fill="#9a9a5e"/>
<circle cx="180.86" cy="144.65" r="2.3" fill="#5fa4d3"/>
<circle cx="231.1" cy="269.09" r="2.3" fill="#e8915a"/>
<circle cx="215.01" cy="182.77" r="2.3" fill="#e4dd9a"/>
<circle cx="210.1" cy="161.29" r="2.3" fill="#c9a3c4"/>
<circle cx="146.93" cy="152.6" r="2.3" fill="#5fa4d3"/>
<circle cx="226.94" cy="244.12" r="2.3" fill="#5fa4d3"/>
<circle cx="281.75" cy="203.37" r="2.3" fill="#c9a3c4"/>
<circle cx="159.55" cy="135.65" r="2.3" fill="#a6cfea"/>
<circle cx="270.37" cy="121.85" r="2.3" fill="#5fa4d3"/>
<circle cx="213.76" cy="79.02" r="2.3" fill="#5fa4d3"/>
<circle cx="40.46" cy="169.26" r="2.3" fill="#b08fd0"/>
<circle cx="196.94" cy="88.5" r="2.3" fill="#c9a3c4"/>
<circle cx="139.37" cy="210.56" r="2.3" fill="#5fa4d3"/>
<circle cx="177.38" cy="229.62" r="2.3" fill="#c9a3c4"/>
<circle cx="182.17" cy="232.15" r="2.3" fill="#a6cfea"/>
<circle cx="64.54" cy="133.27" r="2.3" fill="#f5901e"/>
<circle cx="154.56" cy="132.37" r="2.3" fill="#5fa4d3"/>
<circle cx="43.32" cy="164.67" r="2.3" fill="#e8915a"/>
<circle cx="108.96" cy="207.18" r="2.3" fill="#c9a3c4"/>
<circle cx="212.88" cy="108.11" r="2.3" fill="#9a9a5e"/>
<circle cx="107.24" cy="87.14" r="2.3" fill="#e8915a"/>
<circle cx="99.95" cy="94.69" r="2.3" fill="#e8915a"/>
<circle cx="267.11" cy="182.57" r="2.3" fill="#5fa4d3"/>
<circle cx="237.52" cy="223.61" r="2.3" fill="#e8915a"/>
<circle cx="229.73" cy="83.5" r="2.3" fill="#5fa4d3"/>
<circle cx="107.82" cy="185.01" r="2.3" fill="#9a9a5e"/>
<circle cx="192.33" cy="114.55" r="2.3" fill="#e8915a"/>
<circle cx="54.35" cy="116.08" r="2.3" fill="#c9a3c4"/>
<circle cx="200.31" cy="105.87" r="2.3" fill="#5cae98"/>
<circle cx="236.93" cy="77.61" r="2.3" fill="#5fa4d3"/>
<circle cx="173.47" cy="66.37" r="2.3" fill="#c9a3c4"/>
<circle cx="9.24" cy="117.56" r="2.3" fill="#c9a3c4"/>
<circle cx="187.05" cy="187.8" r="2.3" fill="#e8915a"/>
<circle cx="109.07" cy="131.61" r="2.3" fill="#c9a3c4"/>
<circle cx="242.31" cy="100.62" r="2.3" fill="#9a9a5e"/>
<circle cx="196.11" cy="199.01" r="2.3" fill="#c9a3c4"/>
<circle cx="169.91" cy="134.76" r="2.3" fill="#5fa4d3"/>
<circle cx="223.08" cy="99.72" r="2.3" fill="#3a88ae"/>
<circle cx="235.55" cy="122.53" r="2.3" fill="#3a88c6"/>
<circle cx="12.04" cy="113.72" r="2.3" fill="#a6cfea"/>
<circle cx="213.75" cy="129.87" r="2.3" fill="#c9a3c4"/>
<circle cx="227.05" cy="207.1" r="2.3" fill="#9a9a5e"/>
<circle cx="59.99" cy="109.89" r="2.3" fill="#e8915a"/>
<circle cx="167.58" cy="148.18" r="2.3" fill="#c9a3c4"/>
<circle cx="118.39" cy="188.09" r="2.3" fill="#c9a3c4"/>
<circle cx="54.09" cy="125.18" r="2.3" fill="#c9a3c4"/>
<circle cx="200.1" cy="181.37" r="2.3" fill="#eda0a0"/>
<circle cx="147.85" cy="155.4" r="2.3" fill="#9a9a5e"/>
<circle cx="163.43" cy="277.33" r="2.3" fill="#9a9a5e"/>
<circle cx="85.03" cy="146.08" r="2.3" fill="#c9a3c4"/>
<circle cx="223.78" cy="139.31" r="2.3" fill="#3a88c6"/>
<circle cx="156.72" cy="82.74" r="2.3" fill="#e8915a"/>
<circle cx="138.47" cy="150.95" r="2.3" fill="#c9a3c4"/>
<circle cx="241.38" cy="128.42" r="2.3" fill="#5fa4d3"/>
<circle cx="132.91" cy="127.61" r="2.3" fill="#b08fd0"/>
<circle cx="63.48" cy="141.83" r="2.3" fill="#c9a3c4"/>
<circle cx="260.85" cy="104.04" r="2.3" fill="#5fa4d3"/>
<circle cx="44.01" cy="114.97" r="2.3" fill="#a6cfea"/>
<circle cx="235.93" cy="161.86" r="2.3" fill="#8a58b6"/>
<circle cx="191.94" cy="145.62" r="2.3" fill="#5fa4d3"/>
<circle cx="297.56" cy="189.71" r="2.3" fill="#c9a3c4"/>
<circle cx="176.44" cy="193.93" r="2.3" fill="#9a9a5e"/>
<circle cx="240.44" cy="176.97" r="2.3" fill="#5cae98"/>
<circle cx="58.57" cy="154.99" r="2.3" fill="#c9a3c4"/>
<circle cx="118.08" cy="72.91" r="2.3" fill="#c9a3c4"/>
<circle cx="81.13" cy="80.92" r="2.3" fill="#a3532e"/>
<circle cx="269.92" cy="176.05" r="2.3" fill="#5fa4d3"/>
<circle cx="204.68" cy="125.4" r="2.3" fill="#f5901e"/>
<circle cx="260.79" cy="148.6" r="2.3" fill="#5fa4d3"/>
<circle cx="185.38" cy="258.01" r="2.3" fill="#9a9a5e"/>
<circle cx="103.14" cy="79.25" r="2.3" fill="#c9a3c4"/>
<circle cx="251.04" cy="220.63" r="2.3" fill="#5fa4d3"/>
<circle cx="300.99" cy="161.16" r="2.3" fill="#ec6a40"/>
<circle cx="231.74" cy="186.21" r="2.3" fill="#5fa4d3"/>
<circle cx="129.67" cy="100.36" r="2.3" fill="#c9a3c4"/>
<circle cx="104.22" cy="152.04" r="2.3" fill="#5fa4d3"/>
<circle cx="238.67" cy="245.54" r="2.3" fill="#c9a3c4"/>
<circle cx="74.91" cy="84.14" r="2.3" fill="#5fa4d3"/>
<circle cx="118.19" cy="148.36" r="2.3" fill="#9a9a5e"/>
<circle cx="174.34" cy="134.3" r="2.3" fill="#a6cfea"/>
<circle cx="150.58" cy="84.12" r="2.3" fill="#c9a3c4"/>
<circle cx="204.78" cy="70.75" r="2.3" fill="#f5901e"/>
<circle cx="179.03" cy="104.1" r="2.3" fill="#f57f1c"/>
<circle cx="263.77" cy="137.91" r="2.3" fill="#f5901e"/>
<circle cx="119.99" cy="123.58" r="2.3" fill="#c9a3c4"/>
<circle cx="167.02" cy="264.31" r="2.3" fill="#e8915a"/>
<circle cx="47.62" cy="94.36" r="2.3" fill="#e8915a"/>
<circle cx="255.74" cy="257.69" r="2.3" fill="#5cae98"/>
<circle cx="210.9" cy="233.63" r="2.3" fill="#f5ae6e"/>
<circle cx="160.41" cy="130.12" r="2.3" fill="#c9a3c4"/>
<circle cx="211.05" cy="148.47" r="2.3" fill="#c9a3c4"/>
<circle cx="124.11" cy="244.47" r="2.3" fill="#e4dd9a"/>
<circle cx="152.44" cy="69.53" r="2.3" fill="#9a9a5e"/>
<circle cx="232.89" cy="69.21" r="2.3" fill="#5fa4d3"/>
<circle cx="302.85" cy="169.22" r="2.3" fill="#5fa4d3"/>
<circle cx="100.06" cy="128.8" r="2.3" fill="#e8915a"/>
<circle cx="254.69" cy="107.05" r="2.3" fill="#5fa4d3"/>
<circle cx="67.49" cy="126.17" r="2.3" fill="#9a9a5e"/>
<circle cx="141.98" cy="255.49" r="2.3" fill="#5fa4d3"/>
<circle cx="181.62" cy="127.57" r="2.3" fill="#c9a3c4"/>
<circle cx="69.62" cy="177.97" r="2.3" fill="#e8915a"/>
<circle cx="210.19" cy="250.24" r="2.3" fill="#c9a3c4"/>
<circle cx="179.64" cy="225.68" r="2.3" fill="#9a9a5e"/>
<circle cx="40.44" cy="148.47" r="2.3" fill="#3a88ae"/>
<circle cx="104.21" cy="205.04" r="2.3" fill="#e4dd9a"/>
<circle cx="243.25" cy="202.35" r="2.3" fill="#c9a3c4"/>
<circle cx="92.67" cy="171.45" r="2.3" fill="#a6cfea"/>
<circle cx="172.17" cy="83.13" r="2.3" fill="#a6cfea"/>
<circle cx="127.47" cy="98.62" r="2.3" fill="#9a9a5e"/>
<circle cx="178.13" cy="249.81" r="2.3" fill="#f5901e"/>
<circle cx="154.77" cy="98.86" r="2.3" fill="#c9a3c4"/>
<circle cx="263.59" cy="121.93" r="2.3" fill="#3a88ae"/>
<circle cx="239.49" cy="118.02" r="2.3" fill="#e8915a"/>
<circle cx="198.58" cy="156.07" r="2.3" fill="#c9a3c4"/>
<circle cx="139.31" cy="261.62" r="2.3" fill="#e8915a"/>
<circle cx="281.65" cy="158.07" r="2.3" fill="#5fa4d3"/>
<circle cx="204.41" cy="168.71" r="2.3" fill="#e8915a"/>
<circle cx="55.72" cy="166.53" r="2.3" fill="#e4dd9a"/>
<circle cx="242.12" cy="118.08" r="2.3" fill="#5fa4d3"/>
<circle cx="102.74" cy="144.08" r="2.3" fill="#c9a3c4"/>
<circle cx="193.7" cy="258.06" r="2.3" fill="#5fa4d3"/>
<circle cx="76.39" cy="121.7" r="2.3" fill="#efd77a"/>
<circle cx="109.05" cy="197.33" r="2.3" fill="#a08a97"/>
<circle cx="195.7" cy="256.73" r="2.3" fill="#c9a3c4"/>
<circle cx="201.3" cy="251.27" r="2.3" fill="#9a9a5e"/>
<circle cx="128.63" cy="104.61" r="2.3" fill="#a6cfea"/>
<circle cx="266.18" cy="145.54" r="2.3" fill="#a08a97"/>
<circle cx="121.19" cy="100.06" r="2.3" fill="#efd77a"/>
<circle cx="207.55" cy="241.02" r="2.3" fill="#c68f4a"/>
<circle cx="253.73" cy="162.46" r="2.3" fill="#5fa4d3"/>
<circle cx="230.4" cy="238.05" r="2.3" fill="#3a88ae"/>
<circle cx="55.23" cy="105.99" r="2.3" fill="#e4dd9a"/>
<circle cx="260.87" cy="68.35" r="2.3" fill="#a6cfea"/>
<circle cx="178.19" cy="273.54" r="2.3" fill="#a08a97"/>
<circle cx="303.93" cy="203.36" r="2.3" fill="#e8915a"/>
<circle cx="148.06" cy="68.89" r="2.3" fill="#c9a3c4"/>
<circle cx="283.02" cy="124.99" r="2.3" fill="#5fa4d3"/>
<circle cx="109.65" cy="82.92" r="2.3" fill="#5fa4d3"/>
<circle cx="87.27" cy="155.96" r="2.3" fill="#e8915a"/>
<circle cx="166.72" cy="260" r="2.3" fill="#b08fd0"/>
<circle cx="243.04" cy="247.02" r="2.3" fill="#a3532e"/>
<circle cx="92.52" cy="184.21" r="2.3" fill="#9a9a5e"/>
<circle cx="182.78" cy="266.81" r="2.3" fill="#5cae98"/>
<circle cx="75.56" cy="80.36" r="2.3" fill="#c9a3c4"/>
<circle cx="36.31" cy="95.92" r="2.3" fill="#c9a3c4"/>
<circle cx="162.64" cy="124.25" r="2.3" fill="#efd77a"/>
<circle cx="209.24" cy="252.52" r="2.3" fill="#5fa4d3"/>
<circle cx="277.68" cy="134.46" r="2.3" fill="#3a88c6"/>
<circle cx="38.89" cy="162.98" r="2.3" fill="#c9a3c4"/>
<circle cx="262.01" cy="118.62" r="2.3" fill="#5cae98"/>
<circle cx="200.74" cy="202.06" r="2.3" fill="#5fa4d3"/>
<circle cx="151.46" cy="112.33" r="2.3" fill="#c9a3c4"/>
<circle cx="163.34" cy="152.38" r="2.3" fill="#5cae98"/>
<circle cx="159.36" cy="181.95" r="2.3" fill="#e8915a"/>
<circle cx="87.11" cy="62.56" r="2.3" fill="#c9a3c4"/>
<circle cx="166.28" cy="188.24" r="2.3" fill="#5fa4d3"/>
<circle cx="196.95" cy="170" r="2.3" fill="#9a9a5e"/>
<circle cx="250.61" cy="192.38" r="2.3" fill="#5fa4d3"/>
<circle cx="136.85" cy="222.98" r="2.3" fill="#a6cfea"/>
<circle cx="211.86" cy="186.1" r="2.3" fill="#5cae98"/>
<circle cx="112.84" cy="99.49" r="2.3" fill="#c9a3c4"/>
<circle cx="153.4" cy="177.98" r="2.3" fill="#a6cfea"/>
<circle cx="173.47" cy="242.47" r="2.3" fill="#e8915a"/>
<circle cx="321.84" cy="188.16" r="2.3" fill="#5fa4d3"/>
<circle cx="137.26" cy="111.11" r="2.3" fill="#5fa4d3"/>
<circle cx="155.81" cy="199.81" r="2.3" fill="#c9a3c4"/>
<circle cx="71.27" cy="131.87" r="2.3" fill="#c9a3c4"/>
<circle cx="125.05" cy="124.41" r="2.3" fill="#9a9a5e"/>
<circle cx="250.32" cy="161.81" r="2.3" fill="#5fa4d3"/>
<circle cx="193.32" cy="93.86" r="2.3" fill="#5fa4d3"/>
<circle cx="172.16" cy="198.07" r="2.3" fill="#3a88c6"/>
<circle cx="107.4" cy="110.02" r="2.3" fill="#c9a3c4"/>
<circle cx="278.63" cy="177.99" r="2.3" fill="#3a88c6"/>
<circle cx="127.91" cy="135.8" r="2.3" fill="#c9a3c4"/>
<circle cx="195.68" cy="74.62" r="2.3" fill="#5cae98"/>
<circle cx="61.77" cy="92.17" r="2.3" fill="#f57f1c"/>
<circle cx="318.59" cy="181.9" r="2.3" fill="#f57f1c"/>
<circle cx="253.11" cy="219.28" r="2.3" fill="#5fa4d3"/>
<circle cx="160.31" cy="216.73" r="2.3" fill="#c9a3c4"/>
<circle cx="36.01" cy="92.69" r="2.3" fill="#efd77a"/>
<circle cx="273.82" cy="119.58" r="2.3" fill="#5fa4d3"/>
<circle cx="41.85" cy="128.95" r="2.3" fill="#c9a3c4"/>
<circle cx="194.06" cy="89.48" r="2.3" fill="#c9a3c4"/>
<circle cx="277.33" cy="139.84" r="2.3" fill="#e8915a"/>
<circle cx="235.82" cy="104.16" r="2.3" fill="#5fa4d3"/>
<circle cx="279.89" cy="224.54" r="2.3" fill="#c9a3c4"/>
<circle cx="267.21" cy="194.02" r="2.3" fill="#a6cfea"/>
<circle cx="184.97" cy="74.72" r="2.3" fill="#5fa4d3"/>
<circle cx="168.05" cy="274.29" r="2.3" fill="#f57f1c"/>
<circle cx="203.86" cy="97.81" r="2.3" fill="#efd77a"/>
<circle cx="199.01" cy="217.14" r="2.3" fill="#5cae98"/>
<circle cx="69.45" cy="95.86" r="2.3" fill="#e8915a"/>
<circle cx="177.79" cy="196.79" r="2.3" fill="#5cae98"/>
<circle cx="164.53" cy="76.43" r="2.3" fill="#efd77a"/>
<circle cx="130.57" cy="173.97" r="2.3" fill="#9a9a5e"/>
<circle cx="60.82" cy="105.68" r="2.3" fill="#9a9a5e"/>
<circle cx="258.71" cy="207.46" r="2.3" fill="#f5901e"/>
<circle cx="282.45" cy="218.32" r="2.3" fill="#5fa4d3"/>
<circle cx="145.04" cy="215.88" r="2.3" fill="#f5901e"/>
<circle cx="216.97" cy="220.73" r="2.3" fill="#a3532e"/>
<circle cx="259.55" cy="189.45" r="2.3" fill="#a3532e"/>
<circle cx="183.46" cy="248.5" r="2.3" fill="#c9a3c4"/>
<circle cx="46.97" cy="119.27" r="2.3" fill="#c9a3c4"/>
<circle cx="84.25" cy="161.55" r="2.3" fill="#c9a3c4"/>
<circle cx="66.79" cy="78.11" r="2.3" fill="#5fa4d3"/>
<circle cx="265.18" cy="143.2" r="2.3" fill="#5fa4d3"/>
<circle cx="181.04" cy="158.56" r="2.3" fill="#c9a3c4"/>
<circle cx="125.58" cy="162.63" r="2.3" fill="#5fa4d3"/>
<circle cx="253.76" cy="130.63" r="2.3" fill="#e8915a"/>
<circle cx="142.22" cy="200.88" r="2.3" fill="#f5901e"/>
<circle cx="162.95" cy="246.79" r="2.3" fill="#c9a3c4"/>
<circle cx="131.48" cy="244.71" r="2.3" fill="#5fa4d3"/>
<circle cx="248.53" cy="155.53" r="2.3" fill="#a6cfea"/>
<circle cx="187.02" cy="219.03" r="2.3" fill="#e8915a"/>
<circle cx="187.29" cy="181.47" r="2.3" fill="#5fa4d3"/>
<circle cx="209.68" cy="273.64" r="2.3" fill="#5fa4d3"/>
<circle cx="191.15" cy="161.81" r="2.3" fill="#9a9a5e"/>
<circle cx="224.74" cy="81.37" r="2.3" fill="#f5901e"/>
<circle cx="79.03" cy="120.14" r="2.3" fill="#5fa4d3"/>
<circle cx="250.65" cy="102.02" r="2.3" fill="#c9a3c4"/>
<circle cx="260.46" cy="210.27" r="2.3" fill="#5fa4d3"/>
<circle cx="257.66" cy="160.94" r="2.3" fill="#e8915a"/>
<circle cx="133.56" cy="72.87" r="2.3" fill="#a6cfea"/>
<circle cx="191.32" cy="196.12" r="2.3" fill="#e8915a"/>
<circle cx="173.49" cy="228.89" r="2.3" fill="#c9a3c4"/>
<circle cx="136.84" cy="141.61" r="2.3" fill="#a6cfea"/>
<circle cx="281.8" cy="174.07" r="2.3" fill="#c9a3c4"/>
<circle cx="193.67" cy="236.61" r="2.3" fill="#9a9a5e"/>
<circle cx="259.15" cy="228.85" r="2.3" fill="#a08a97"/>
<circle cx="201.65" cy="198.45" r="2.3" fill="#f5901e"/>
<circle cx="188.92" cy="169.25" r="2.3" fill="#9a9a5e"/>
<circle cx="151.74" cy="253.41" r="2.3" fill="#efd77a"/>
<circle cx="276.73" cy="164.46" r="2.3" fill="#df2020"/>
<circle cx="259.35" cy="181.56" r="2.3" fill="#c9a3c4"/>
<circle cx="135.07" cy="186.47" r="2.3" fill="#c9a3c4"/>
<circle cx="67.58" cy="156.7" r="2.3" fill="#9a9a5e"/>
<circle cx="252.15" cy="269.47" r="2.3" fill="#e4dd9a"/>
<circle cx="51.73" cy="70.74" r="2.3" fill="#5cae98"/>
<circle cx="161.64" cy="157.99" r="2.3" fill="#5fa4d3"/>
<circle cx="231.03" cy="96.56" r="2.3" fill="#9a9a5e"/>
<circle cx="161.8" cy="105.8" r="2.3" fill="#c9a3c4"/>
<circle cx="224.89" cy="155.68" r="2.3" fill="#e8915a"/>
<circle cx="217.2" cy="215.22" r="2.3" fill="#a6cfea"/>
<circle cx="213.95" cy="239.25" r="2.3" fill="#9a9a5e"/>
<circle cx="203.12" cy="80.53" r="2.3" fill="#e8915a"/>
<circle cx="116.18" cy="180.38" r="2.3" fill="#c9a3c4"/>
<circle cx="145.05" cy="249.78" r="2.3" fill="#efd77a"/>
<circle cx="183.23" cy="67.42" r="2.3" fill="#c9a3c4"/>
<circle cx="76.75" cy="100.51" r="2.3" fill="#e8915a"/>
<circle cx="251.61" cy="140.86" r="2.3" fill="#e4dd9a"/>
<circle cx="40.58" cy="85.25" r="2.3" fill="#c9a3c4"/>
<circle cx="39.56" cy="94.92" r="2.3" fill="#f5901e"/>
<circle cx="278.37" cy="213.83" r="2.3" fill="#e8915a"/>
<circle cx="186.94" cy="242.83" r="2.3" fill="#f5901e"/>
<circle cx="276.54" cy="145.94" r="2.3" fill="#9a9a5e"/>
<circle cx="106.88" cy="114.61" r="2.3" fill="#c9a3c4"/>
<circle cx="124.94" cy="140.86" r="2.3" fill="#5fa4d3"/>
<circle cx="136.52" cy="242.39" r="2.3" fill="#e8915a"/>
<circle cx="286.61" cy="167.09" r="2.3" fill="#5fa4d3"/>
<circle cx="166.1" cy="242.56" r="2.3" fill="#5cae98"/>
<circle cx="201.11" cy="185.26" r="2.3" fill="#5fa4d3"/>
<circle cx="243.57" cy="241.13" r="2.3" fill="#c9a3c4"/>
<circle cx="80.27" cy="74.62" r="2.3" fill="#e8915a"/>
<circle cx="69.79" cy="91.13" r="2.3" fill="#e8915a"/>
<circle cx="125.28" cy="156.41" r="2.3" fill="#a6cfea"/>
<circle cx="235.6" cy="134.87" r="2.3" fill="#a6cfea"/>
<circle cx="147.47" cy="75.74" r="2.3" fill="#a6cfea"/>
<circle cx="34.1" cy="136.97" r="2.3" fill="#e8915a"/>
<circle cx="227.06" cy="215.1" r="2.3" fill="#e8915a"/>
<circle cx="158.05" cy="146.75" r="2.3" fill="#c9a3c4"/>
<circle cx="149.83" cy="274.92" r="2.3" fill="#9a9a5e"/>
<circle cx="36.11" cy="114.74" r="2.3" fill="#e8915a"/>
<circle cx="135.39" cy="256.48" r="2.3" fill="#5fa4d3"/>
<circle cx="279.8" cy="201.36" r="2.3" fill="#e8915a"/>
<circle cx="119.19" cy="68.62" r="2.3" fill="#5cae98"/>
<circle cx="235.75" cy="230.35" r="2.3" fill="#a3532e"/>
<circle cx="238.28" cy="207.6" r="2.3" fill="#9a9a5e"/>
<circle cx="122.63" cy="102.44" r="2.3" fill="#a6cfea"/>
<circle cx="278.16" cy="211.15" r="2.3" fill="#c9a3c4"/>
<circle cx="52.79" cy="92.42" r="2.3" fill="#c9a3c4"/>
<circle cx="148.86" cy="150.56" r="2.3" fill="#9a9a5e"/>
<circle cx="43.61" cy="117.48" r="2.3" fill="#e8915a"/>
<circle cx="197.03" cy="220.85" r="2.3" fill="#a6cfea"/>
<circle cx="293.57" cy="199.46" r="2.3" fill="#a6cfea"/>
<circle cx="200.47" cy="234.09" r="2.3" fill="#e8915a"/>
<circle cx="247.48" cy="200.35" r="2.3" fill="#f5901e"/>
<circle cx="122.92" cy="95.43" r="2.3" fill="#e8915a"/>
<circle cx="214.78" cy="159.77" r="2.3" fill="#5cae98"/>
<circle cx="266.53" cy="120.12" r="2.3" fill="#9a9a5e"/>
<circle cx="140.14" cy="181.79" r="2.3" fill="#e8915a"/>
<circle cx="189.05" cy="226.03" r="2.3" fill="#e8915a"/>
<circle cx="19.97" cy="138.99" r="2.3" fill="#c9a3c4"/>
<circle cx="110.64" cy="183.96" r="2.3" fill="#a6cfea"/>
<circle cx="174.15" cy="143.49" r="2.3" fill="#c9a3c4"/>
<circle cx="250.11" cy="171.06" r="2.3" fill="#c9a3c4"/>
<circle cx="51.79" cy="159.42" r="2.3" fill="#9a9a5e"/>
<circle cx="85.16" cy="157.15" r="2.3" fill="#c9a3c4"/>
<circle cx="167.5" cy="63.24" r="2.3" fill="#c9a3c4"/>
<circle cx="222.94" cy="164.84" r="2.3" fill="#efd77a"/>
<circle cx="152.97" cy="171.8" r="2.3" fill="#f5901e"/>
<circle cx="73.77" cy="155.59" r="2.3" fill="#5fa4d3"/>
<circle cx="295.72" cy="156.83" r="2.3" fill="#a08a97"/>
<circle cx="194.38" cy="287.18" r="2.3" fill="#5fa4d3"/>
<circle cx="168.94" cy="158.02" r="2.3" fill="#5fa4d3"/>
<circle cx="191.86" cy="129.52" r="2.3" fill="#5fa4d3"/>
<circle cx="91.61" cy="83.58" r="2.3" fill="#c9a3c4"/>
<circle cx="22.18" cy="95.3" r="2.3" fill="#e8915a"/>
<circle cx="203.94" cy="66.71" r="2.3" fill="#c9a3c4"/>
<circle cx="194.63" cy="116.6" r="2.3" fill="#5fa4d3"/>
<circle cx="254.51" cy="114.95" r="2.3" fill="#5fa4d3"/>
<circle cx="256.79" cy="120.34" r="2.3" fill="#e8915a"/>
<circle cx="164.28" cy="119.69" r="2.3" fill="#e8915a"/>
<circle cx="292.49" cy="190.63" r="2.3" fill="#5fa4d3"/>
<circle cx="147.35" cy="265.82" r="2.3" fill="#c9a3c4"/>
<circle cx="234.28" cy="119.98" r="2.3" fill="#9a9a5e"/>
<circle cx="156.68" cy="76.46" r="2.3" fill="#f57f1c"/>
<circle cx="144.59" cy="175.04" r="2.3" fill="#a6cfea"/>
<circle cx="145.93" cy="157.34" r="2.3" fill="#e8915a"/>
<circle cx="232.43" cy="190.58" r="2.3" fill="#e8915a"/>
<circle cx="38.71" cy="144.93" r="2.3" fill="#e8915a"/>
<circle cx="305.53" cy="193.53" r="2.3" fill="#9a9a5e"/>
<circle cx="115.65" cy="187.23" r="2.3" fill="#c9a3c4"/>
<circle cx="102.15" cy="187.55" r="2.3" fill="#a6cfea"/>
<circle cx="92.06" cy="153.75" r="2.3" fill="#e8915a"/>
<circle cx="32.62" cy="152.29" r="2.3" fill="#c9a3c4"/>
<circle cx="202.63" cy="151.39" r="2.3" fill="#c9a3c4"/>
<circle cx="69.78" cy="106.42" r="2.3" fill="#5cae98"/>
<circle cx="269.93" cy="145.94" r="2.3" fill="#5fa4d3"/>
<circle cx="163.24" cy="160.76" r="2.3" fill="#3a88ae"/>
<circle cx="261.71" cy="146.04" r="2.3" fill="#5fa4d3"/>
<circle cx="55.45" cy="139.59" r="2.3" fill="#c9a3c4"/>
<circle cx="213.27" cy="149.76" r="2.3" fill="#a6cfea"/>
<circle cx="226.83" cy="160.33" r="2.3" fill="#5fa4d3"/>
<circle cx="210.13" cy="103.13" r="2.3" fill="#9a9a5e"/>
<circle cx="119.42" cy="168.21" r="2.3" fill="#5fa4d3"/>
<circle cx="141.84" cy="93.55" r="2.3" fill="#c9a3c4"/>
<circle cx="162.43" cy="228.21" r="2.3" fill="#c9a3c4"/>
<circle cx="125.02" cy="80.53" r="2.3" fill="#c9a3c4"/>
<circle cx="67.46" cy="138.14" r="2.3" fill="#e8915a"/>
<circle cx="174.98" cy="71.65" r="2.3" fill="#f5901e"/>
<circle cx="65.18" cy="144.61" r="2.3" fill="#f57f1c"/>
<circle cx="197.57" cy="150.02" r="2.3" fill="#5fa4d3"/>
<circle cx="115.01" cy="198.58" r="2.3" fill="#9a9a5e"/>
<circle cx="145.02" cy="181.07" r="2.3" fill="#f5901e"/>
<circle cx="137.56" cy="75.47" r="2.3" fill="#5fa4d3"/>
<circle cx="233.8" cy="137.57" r="2.3" fill="#5fa4d3"/>
<circle cx="184.8" cy="275.82" r="2.3" fill="#c9a3c4"/>
<circle cx="204.29" cy="190.96" r="2.3" fill="#c9a3c4"/>
<circle cx="148.72" cy="140.85" r="2.3" fill="#e8915a"/>
<circle cx="67.5" cy="152.16" r="2.3" fill="#5fa4d3"/>
<circle cx="215.6" cy="84.85" r="2.3" fill="#3a88ae"/>
<circle cx="229.28" cy="164.35" r="2.3" fill="#9a9a5e"/>
<circle cx="257.86" cy="173.62" r="2.3" fill="#a6cfea"/>
<circle cx="243.51" cy="267.96" r="2.3" fill="#a3532e"/>
<circle cx="173.19" cy="102.08" r="2.3" fill="#e8915a"/>
<circle cx="89.2" cy="171.32" r="2.3" fill="#e4dd9a"/>
<circle cx="228.84" cy="219.68" r="2.3" fill="#a6cfea"/>
<circle cx="286.75" cy="189.18" r="2.3" fill="#9a9a5e"/>
<circle cx="271.64" cy="168.95" r="2.3" fill="#c9a3c4"/>
<circle cx="260.94" cy="121.93" r="2.3" fill="#f5901e"/>
<circle cx="98.79" cy="116.79" r="2.3" fill="#e8915a"/>
<circle cx="301" cy="157.24" r="2.3" fill="#5fa4d3"/>
<circle cx="228.64" cy="172.52" r="2.3" fill="#3a88c6"/>
<circle cx="185.26" cy="166.26" r="2.3" fill="#a6cfea"/>
<circle cx="135.58" cy="240.08" r="2.3" fill="#9a9a5e"/>
<circle cx="271.57" cy="177.87" r="2.3" fill="#a6cfea"/>
<circle cx="142.51" cy="179.49" r="2.3" fill="#c9a3c4"/>
<circle cx="194.61" cy="86.83" r="2.3" fill="#5fa4d3"/>
<circle cx="121.24" cy="159.15" r="2.3" fill="#a08a97"/>
<circle cx="138.87" cy="78.59" r="2.3" fill="#c9a3c4"/>
<circle cx="231.18" cy="153.33" r="2.3" fill="#c9a3c4"/>
<circle cx="168.38" cy="232.05" r="2.3" fill="#5fa4d3"/>
<circle cx="75.2" cy="125.23" r="2.3" fill="#e4dd9a"/>
<circle cx="83.54" cy="59.26" r="2.3" fill="#efd77a"/>
<circle cx="162.6" cy="170.28" r="2.3" fill="#5cae98"/>
<circle cx="181.33" cy="101.66" r="2.3" fill="#9a9a5e"/>
<circle cx="245" cy="226.46" r="2.3" fill="#c9a3c4"/>
<circle cx="178.54" cy="110.87" r="2.3" fill="#a6cfea"/>
<circle cx="80.58" cy="118.24" r="2.3" fill="#5cae98"/>
<circle cx="204.04" cy="222.92" r="2.3" fill="#a6cfea"/>
<circle cx="141.98" cy="89.98" r="2.3" fill="#c9a3c4"/>
<circle cx="72.92" cy="112.87" r="2.3" fill="#e8915a"/>
<circle cx="219.99" cy="157.47" r="2.3" fill="#c9a3c4"/>
<circle cx="28.84" cy="157.69" r="2.3" fill="#e8915a"/>
<circle cx="144.88" cy="267.63" r="2.3" fill="#c9a3c4"/>
<circle cx="153.91" cy="58.69" r="2.3" fill="#ec6a40"/>
<circle cx="135.72" cy="129.07" r="2.3" fill="#e8915a"/>
<circle cx="171.43" cy="175.8" r="2.3" fill="#c9a3c4"/>
<circle cx="155.42" cy="56.68" r="2.3" fill="#5fa4d3"/>
<circle cx="120.5" cy="226.16" r="2.3" fill="#9a9a5e"/>
<circle cx="277.88" cy="199.87" r="2.3" fill="#efd77a"/>
<circle cx="239.37" cy="214.37" r="2.3" fill="#5cae98"/>
<circle cx="226.56" cy="230.22" r="2.3" fill="#e8915a"/>
<circle cx="197.81" cy="93.88" r="2.3" fill="#c9a3c4"/>
<circle cx="22.13" cy="144.26" r="2.3" fill="#a6cfea"/>
<circle cx="307.73" cy="181.45" r="2.3" fill="#c9a3c4"/>
<circle cx="244.46" cy="256.76" r="2.3" fill="#eda0a0"/>
<circle cx="310.77" cy="187.33" r="2.3" fill="#9a9a5e"/>
<circle cx="201.25" cy="85.65" r="2.3" fill="#8a58b6"/>
<circle cx="138.01" cy="65.88" r="2.3" fill="#e8915a"/>
<circle cx="114.96" cy="82.46" r="2.3" fill="#e8915a"/>
<circle cx="135.33" cy="171.05" r="2.3" fill="#c9a3c4"/>
<circle cx="94.48" cy="90.48" r="2.3" fill="#c9a3c4"/>
<circle cx="164.59" cy="140.2" r="2.3" fill="#5fa4d3"/>
<circle cx="142.99" cy="96.61" r="2.3" fill="#9a9a5e"/>
<circle cx="220.81" cy="254.84" r="2.3" fill="#a6cfea"/>
<circle cx="147.72" cy="204.6" r="2.3" fill="#e8915a"/>
<circle cx="277.68" cy="196.34" r="2.3" fill="#e8915a"/>
<circle cx="180.64" cy="150.94" r="2.3" fill="#c9a3c4"/>
<circle cx="256.33" cy="221.3" r="2.3" fill="#a3532e"/>
<circle cx="59.32" cy="133.4" r="2.3" fill="#a6cfea"/>
<circle cx="220.76" cy="217.61" r="2.3" fill="#3a88c6"/>
<circle cx="156.77" cy="225.58" r="2.3" fill="#5fa4d3"/>
<circle cx="65.16" cy="93.24" r="2.3" fill="#5fa4d3"/>
<circle cx="72.96" cy="172.24" r="2.3" fill="#5fa4d3"/>
<circle cx="103.1" cy="132.16" r="2.3" fill="#c9a3c4"/>
<circle cx="164.75" cy="190.46" r="2.3" fill="#c9a3c4"/>
<circle cx="186.19" cy="170.21" r="2.3" fill="#e4dd9a"/>
<circle cx="95.19" cy="182.86" r="2.3" fill="#9a9a5e"/>
<circle cx="50.92" cy="100.97" r="2.3" fill="#e8915a"/>
<circle cx="188.52" cy="233.4" r="2.3" fill="#9a9a5e"/>
<circle cx="280.87" cy="141.28" r="2.3" fill="#c9a3c4"/>
<circle cx="257.98" cy="176.2" r="2.3" fill="#5fa4d3"/>
<circle cx="245.2" cy="140.93" r="2.3" fill="#5fa4d3"/>
<circle cx="187" cy="253.37" r="2.3" fill="#5fa4d3"/>
<circle cx="64.8" cy="181.06" r="2.3" fill="#c9a3c4"/>
<circle cx="296.2" cy="195.27" r="2.3" fill="#5fa4d3"/>
<circle cx="68.44" cy="120.2" r="2.3" fill="#f5ae6e"/>
<circle cx="193.25" cy="182.1" r="2.3" fill="#e8915a"/>
<circle cx="122.98" cy="89.19" r="2.3" fill="#5cae98"/>
<circle cx="214.81" cy="269.97" r="2.3" fill="#5cae98"/>
<circle cx="40.88" cy="77.39" r="2.3" fill="#c9a3c4"/>
<circle cx="111.56" cy="125.02" r="2.3" fill="#c9a3c4"/>
<circle cx="96.98" cy="202.08" r="2.3" fill="#f5901e"/>
<circle cx="88.83" cy="86.07" r="2.3" fill="#a3532e"/>
<circle cx="181.43" cy="80.64" r="2.3" fill="#c9a3c4"/>
<circle cx="127.48" cy="122.57" r="2.3" fill="#a08a97"/>
<circle cx="249.82" cy="261.45" r="2.3" fill="#e8915a"/>
<circle cx="50.48" cy="152.15" r="2.3" fill="#c9a3c4"/>
<circle cx="170.08" cy="242.22" r="2.3" fill="#e8915a"/>
<circle cx="190.7" cy="214.23" r="2.3" fill="#c9a3c4"/>
<circle cx="144.72" cy="164.75" r="2.3" fill="#c9a3c4"/>
<circle cx="218.94" cy="159.76" r="2.3" fill="#5cae98"/>
<circle cx="119.02" cy="77.38" r="2.3" fill="#9a9a5e"/>
<circle cx="173.58" cy="167.69" r="2.3" fill="#5fa4d3"/>
<circle cx="241.95" cy="260.46" r="2.3" fill="#9a9a5e"/>
<circle cx="46.14" cy="141.19" r="2.3" fill="#e4dd9a"/>
<circle cx="84.22" cy="127.59" r="2.3" fill="#c9a3c4"/>
<circle cx="152.81" cy="130.01" r="2.3" fill="#9a9a5e"/>
<circle cx="91.58" cy="141.04" r="2.3" fill="#5cae98"/>
<circle cx="155.97" cy="228.12" r="2.3" fill="#e8915a"/>
<circle cx="199.96" cy="112.54" r="2.3" fill="#a6cfea"/>
<circle cx="116.84" cy="167.89" r="2.3" fill="#9a9a5e"/>
<circle cx="212.39" cy="138.84" r="2.3" fill="#c9a3c4"/>
<circle cx="236.85" cy="93.16" r="2.3" fill="#5cae98"/>
<circle cx="160.6" cy="200.09" r="2.3" fill="#b08fd0"/>
<circle cx="124.52" cy="85.01" r="2.3" fill="#a6cfea"/>
<circle cx="180.69" cy="176.77" r="2.3" fill="#5cae98"/>
<circle cx="190.6" cy="166.79" r="2.3" fill="#5fa4d3"/>
<circle cx="51.82" cy="143.47" r="2.3" fill="#e8915a"/>
<circle cx="183.69" cy="144.51" r="2.3" fill="#5fa4d3"/>
<circle cx="145.28" cy="69.56" r="2.3" fill="#5fa4d3"/>
<circle cx="117.35" cy="239.96" r="2.3" fill="#c9a3c4"/>
<circle cx="139.52" cy="222.3" r="2.3" fill="#5fa4d3"/>
<circle cx="197.7" cy="117.32" r="2.3" fill="#c9a3c4"/>
<circle cx="167.28" cy="132.04" r="2.3" fill="#c9a3c4"/>
<circle cx="84.24" cy="176.23" r="2.3" fill="#5cae98"/>
<circle cx="225.48" cy="75.89" r="2.3" fill="#9a9a5e"/>
<circle cx="209.24" cy="226.31" r="2.3" fill="#c9a3c4"/>
<circle cx="249.93" cy="167.8" r="2.3" fill="#5fa4d3"/>
<circle cx="125.96" cy="87.03" r="2.3" fill="#9a9a5e"/>
<circle cx="41.94" cy="124.91" r="2.3" fill="#c9a3c4"/>
<circle cx="103.06" cy="97.57" r="2.3" fill="#f5901e"/>
<circle cx="140.9" cy="136.36" r="2.3" fill="#c9a3c4"/>
<circle cx="162.48" cy="192.28" r="2.3" fill="#c9a3c4"/>
<circle cx="171.5" cy="170.7" r="2.3" fill="#f5901e"/>
<circle cx="108.21" cy="94.4" r="2.3" fill="#3a88ae"/>
<circle cx="40.14" cy="154.87" r="2.3" fill="#e8915a"/>
<circle cx="69.25" cy="173.24" r="2.3" fill="#f57f1c"/>
<circle cx="230.8" cy="110.42" r="2.3" fill="#5fa4d3"/>
<circle cx="118.74" cy="57.27" r="2.3" fill="#9a9a5e"/>
<circle cx="10.79" cy="126.69" r="2.3" fill="#e8915a"/>
<circle cx="146.76" cy="108.08" r="2.3" fill="#9a9a5e"/>
<circle cx="249.44" cy="123.3" r="2.3" fill="#5fa4d3"/>
<circle cx="100.21" cy="81.05" r="2.3" fill="#c9a3c4"/>
<circle cx="76.98" cy="170.96" r="2.3" fill="#e4dd9a"/>
<circle cx="170.72" cy="187.64" r="2.3" fill="#c9a3c4"/>
<circle cx="63.84" cy="139.01" r="2.3" fill="#c9a3c4"/>
<circle cx="170.81" cy="151.41" r="2.3" fill="#c9a3c4"/>
<circle cx="168.94" cy="130.03" r="2.3" fill="#e4dd9a"/>
<circle cx="222.62" cy="249.97" r="2.3" fill="#a08a97"/>
<circle cx="11.51" cy="149.44" r="2.3" fill="#efd77a"/>
<circle cx="217.58" cy="190.1" r="2.3" fill="#5fa4d3"/>
<circle cx="150.78" cy="156.22" r="2.3" fill="#9a9a5e"/>
<circle cx="139.29" cy="127.18" r="2.3" fill="#c9a3c4"/>
<circle cx="4.31" cy="138.85" r="2.3" fill="#a08a97"/>
<circle cx="221.3" cy="170.04" r="2.3" fill="#9a9a5e"/>
<circle cx="223.48" cy="221.39" r="2.3" fill="#e8915a"/>
<circle cx="218.07" cy="173.06" r="2.3" fill="#e8915a"/>
<circle cx="48.14" cy="143.26" r="2.3" fill="#9a9a5e"/>
<circle cx="70.99" cy="128.01" r="2.3" fill="#9a9a5e"/>
<circle cx="186.01" cy="107.98" r="2.3" fill="#c9a3c4"/>
<circle cx="232.72" cy="241.84" r="2.3" fill="#c9a3c4"/>
<circle cx="253.13" cy="167.66" r="2.3" fill="#e8915a"/>
<circle cx="202.75" cy="217.25" r="2.3" fill="#5cae98"/>
<circle cx="50.93" cy="106.37" r="2.3" fill="#e8915a"/>
<circle cx="223.44" cy="115.51" r="2.3" fill="#e4dd9a"/>
<circle cx="217.8" cy="105.42" r="2.3" fill="#a6cfea"/>
<circle cx="275.61" cy="213.54" r="2.3" fill="#5fa4d3"/>
<circle cx="214" cy="73.3" r="2.3" fill="#c9a3c4"/>
<circle cx="75.33" cy="66.53" r="2.3" fill="#5fa4d3"/>
<circle cx="54.21" cy="102.48" r="2.3" fill="#eda0a0"/>
<circle cx="53.33" cy="113.54" r="2.3" fill="#a6cfea"/>
<circle cx="173.06" cy="201.84" r="2.3" fill="#5fa4d3"/>
<circle cx="118.87" cy="84.07" r="2.3" fill="#c9a3c4"/>
<circle cx="277.76" cy="204.29" r="2.3" fill="#c9a3c4"/>
<circle cx="257.28" cy="97.99" r="2.3" fill="#3a88c6"/>
<circle cx="220.94" cy="106" r="2.3" fill="#e4dd9a"/>
<circle cx="303.46" cy="151.56" r="2.3" fill="#e8915a"/>
<circle cx="164.58" cy="62.46" r="2.3" fill="#c9a3c4"/>
<circle cx="203.26" cy="102.65" r="2.3" fill="#a6cfea"/>
<circle cx="287.17" cy="142.55" r="2.3" fill="#5cae98"/>
<circle cx="162.15" cy="61.63" r="2.3" fill="#c9a3c4"/>
<circle cx="123.81" cy="146.33" r="2.3" fill="#e4dd9a"/>
<circle cx="186.9" cy="269.4" r="2.3" fill="#9a9a5e"/>
<circle cx="32.97" cy="98.28" r="2.3" fill="#3a88c6"/>
<circle cx="211.35" cy="266.63" r="2.3" fill="#3a88c6"/>
<circle cx="285.43" cy="179.47" r="2.3" fill="#5fa4d3"/>
<circle cx="32.83" cy="165.74" r="2.3" fill="#f5901e"/>
<circle cx="92.69" cy="121.47" r="2.3" fill="#c9a3c4"/>
<circle cx="185.88" cy="119.58" r="2.3" fill="#e8915a"/>
<circle cx="266.76" cy="157.39" r="2.3" fill="#e8915a"/>
<circle cx="136.08" cy="113.83" r="2.3" fill="#a08a97"/>
<circle cx="107.83" cy="190.47" r="2.3" fill="#c9a3c4"/>
<circle cx="239.83" cy="92.86" r="2.3" fill="#c9a3c4"/>
<circle cx="119.71" cy="142.72" r="2.3" fill="#efd77a"/>
<circle cx="161.69" cy="267.19" r="2.3" fill="#c9a3c4"/>
<circle cx="25.53" cy="124.92" r="2.3" fill="#a6cfea"/>
<circle cx="258.92" cy="124.61" r="2.3" fill="#e8915a"/>
<circle cx="184.97" cy="232.42" r="2.3" fill="#f5901e"/>
<circle cx="101.5" cy="110.88" r="2.3" fill="#c9a3c4"/>
<circle cx="118.97" cy="114.63" r="2.3" fill="#3a88ae"/>
<circle cx="153.9" cy="215.66" r="2.3" fill="#efd77a"/>
<circle cx="281.52" cy="212.3" r="2.3" fill="#5fa4d3"/>
<circle cx="155.95" cy="134.46" r="2.3" fill="#c9a3c4"/>
<circle cx="178.79" cy="181.53" r="2.3" fill="#c9a3c4"/>
<circle cx="215.36" cy="234.96" r="2.3" fill="#a6cfea"/>
<circle cx="110.66" cy="66.03" r="2.3" fill="#3a88c6"/>
<circle cx="109.16" cy="156.8" r="2.3" fill="#e4dd9a"/>
<circle cx="142.95" cy="138.19" r="2.3" fill="#e8915a"/>
<circle cx="312.68" cy="184.75" r="2.3" fill="#f57f1c"/>
<circle cx="229.59" cy="197.22" r="2.3" fill="#c9a3c4"/>
<circle cx="85.17" cy="148.54" r="2.3" fill="#c9a3c4"/>
<circle cx="263.24" cy="200.39" r="2.3" fill="#5fa4d3"/>
<circle cx="214.44" cy="144.37" r="2.3" fill="#a6cfea"/>
<circle cx="216.4" cy="108.27" r="2.3" fill="#a08a97"/>
<circle cx="155.99" cy="73.67" r="2.3" fill="#e8915a"/>
<circle cx="144.32" cy="227.67" r="2.3" fill="#5cae98"/>
<circle cx="240.44" cy="82.02" r="2.3" fill="#c9a3c4"/>
<circle cx="60.2" cy="83.89" r="2.3" fill="#c9a3c4"/>
<circle cx="186.2" cy="255.69" r="2.3" fill="#f5901e"/>
<circle cx="112.4" cy="113.07" r="2.3" fill="#c9a3c4"/>
<circle cx="225.39" cy="146.99" r="2.3" fill="#5fa4d3"/>
<circle cx="51.49" cy="166.97" r="2.3" fill="#c9a3c4"/>
<circle cx="292.36" cy="181.49" r="2.3" fill="#f5ae6e"/>
<circle cx="248.01" cy="272.81" r="2.3" fill="#5fa4d3"/>
<circle cx="133.43" cy="153.3" r="2.3" fill="#c9a3c4"/>
<circle cx="30.12" cy="86.71" r="2.3" fill="#5cae98"/>
<circle cx="112.9" cy="181.97" r="2.3" fill="#a6cfea"/>
<circle cx="213.75" cy="253.77" r="2.3" fill="#5fa4d3"/>
<circle cx="227.02" cy="280.42" r="2.3" fill="#c9a3c4"/>
<circle cx="220.85" cy="225.63" r="2.3" fill="#a6cfea"/>
<circle cx="40.71" cy="82.5" r="2.3" fill="#a6cfea"/>
<circle cx="136.25" cy="85.56" r="2.3" fill="#e8915a"/>
<circle cx="169.94" cy="96.91" r="2.3" fill="#9a9a5e"/>
<circle cx="274.59" cy="189.62" r="2.3" fill="#a6cfea"/>
<circle cx="41.63" cy="122.1" r="2.3" fill="#f5901e"/>
<circle cx="32.24" cy="148.82" r="2.3" fill="#c9a3c4"/>
<circle cx="241.19" cy="200.75" r="2.3" fill="#c9a3c4"/>
<circle cx="204.44" cy="111.3" r="2.3" fill="#9a9a5e"/>
<circle cx="164.67" cy="229.99" r="2.3" fill="#c9a3c4"/>
<circle cx="261.66" cy="230.21" r="2.3" fill="#5cae98"/>
<circle cx="247.29" cy="251.7" r="2.3" fill="#c9a3c4"/>
<circle cx="135.18" cy="80.5" r="2.3" fill="#e4dd9a"/>
<circle cx="205.59" cy="118.44" r="2.3" fill="#c9a3c4"/>
<circle cx="248.19" cy="104.9" r="2.3" fill="#f5901e"/>
<circle cx="207.06" cy="246.56" r="2.3" fill="#9a9a5e"/>
<circle cx="292.75" cy="148.82" r="2.3" fill="#e8915a"/>
<circle cx="210.13" cy="90.78" r="2.3" fill="#eda0a0"/>
<circle cx="241.5" cy="225.93" r="2.3" fill="#9a9a5e"/>
<circle cx="191.23" cy="222.44" r="2.3" fill="#e8915a"/>
<circle cx="244.53" cy="133.26" r="2.3" fill="#c9a3c4"/>
<circle cx="133.4" cy="166.78" r="2.3" fill="#5fa4d3"/>
<circle cx="231.6" cy="171.03" r="2.3" fill="#5cae98"/>
<circle cx="246.96" cy="169.11" r="2.3" fill="#c9a3c4"/>
<circle cx="287.88" cy="214.68" r="2.3" fill="#5fa4d3"/>
<circle cx="200.25" cy="78.72" r="2.3" fill="#5fa4d3"/>
<circle cx="218.74" cy="136.11" r="2.3" fill="#9a9a5e"/>
<circle cx="80.99" cy="161.35" r="2.3" fill="#a08a97"/>
<circle cx="246.92" cy="203.26" r="2.3" fill="#e8915a"/>
<circle cx="177.4" cy="132.41" r="2.3" fill="#e8915a"/>
<circle cx="246.93" cy="71.02" r="2.3" fill="#5fa4d3"/>
<circle cx="207.26" cy="273.37" r="2.3" fill="#e8915a"/>
<circle cx="34.01" cy="125.88" r="2.3" fill="#5fa4d3"/>
<circle cx="51.51" cy="146.2" r="2.3" fill="#e8915a"/>
<circle cx="105.82" cy="140.52" r="2.3" fill="#c9a3c4"/>
<circle cx="102.47" cy="173.53" r="2.3" fill="#e8915a"/>
<circle cx="171.76" cy="120.52" r="2.3" fill="#e4dd9a"/>
<circle cx="245.51" cy="247.37" r="2.3" fill="#e8915a"/>
<circle cx="218.47" cy="199.98" r="2.3" fill="#a6cfea"/>
<circle cx="158.33" cy="233.78" r="2.3" fill="#e8915a"/>
<circle cx="198.25" cy="167.78" r="2.3" fill="#a6cfea"/>
<circle cx="254.03" cy="100.98" r="2.3" fill="#c9a3c4"/>
<circle cx="191.23" cy="264.86" r="2.3" fill="#9a9a5e"/>
<circle cx="201.29" cy="167.36" r="2.3" fill="#e8915a"/>
<circle cx="149.9" cy="131.84" r="2.3" fill="#c9a3c4"/>
<circle cx="76.11" cy="88.87" r="2.3" fill="#f5ae6e"/>
<circle cx="219.7" cy="231.56" r="2.3" fill="#e8915a"/>
<circle cx="280.47" cy="150.91" r="2.3" fill="#f7a74e"/>
<circle cx="257.43" cy="147.79" r="2.3" fill="#9a9a5e"/>
<circle cx="167.09" cy="191.57" r="2.3" fill="#5fa4d3"/>
<circle cx="112.45" cy="178.34" r="2.3" fill="#5fa4d3"/>
<circle cx="157.37" cy="95.49" r="2.3" fill="#c9a3c4"/>
<circle cx="247.65" cy="224.29" r="2.3" fill="#8a58b6"/>
<circle cx="110.05" cy="141.65" r="2.3" fill="#a6cfea"/>
<circle cx="235.03" cy="147.65" r="2.3" fill="#5fa4d3"/>
<circle cx="114.9" cy="101.78" r="2.3" fill="#a6cfea"/>
<circle cx="132.79" cy="175.18" r="2.3" fill="#c9a3c4"/>
<circle cx="117.87" cy="91.73" r="2.3" fill="#9a9a5e"/>
<circle cx="207.72" cy="182.49" r="2.3" fill="#5fa4d3"/>
<circle cx="80.37" cy="90.65" r="2.3" fill="#c9a3c4"/>
<circle cx="248.42" cy="80.67" r="2.3" fill="#a6cfea"/>
<circle cx="62.43" cy="79.7" r="2.3" fill="#e8915a"/>
<circle cx="78.94" cy="87.75" r="2.3" fill="#c9a3c4"/>
<circle cx="20.47" cy="121.16" r="2.3" fill="#c9a3c4"/>
<circle cx="171.42" cy="59.07" r="2.3" fill="#e8915a"/>
<circle cx="209.64" cy="258.87" r="2.3" fill="#e8915a"/>
<circle cx="222.52" cy="246.67" r="2.3" fill="#a3532e"/>
<circle cx="26.16" cy="142.76" r="2.3" fill="#5fa4d3"/>
<circle cx="237.38" cy="265.15" r="2.3" fill="#5cae98"/>
<circle cx="260.05" cy="93" r="2.3" fill="#c9a3c4"/>
<circle cx="88.41" cy="128.77" r="2.3" fill="#a3532e"/>
<circle cx="38.92" cy="89.49" r="2.3" fill="#5fa4d3"/>
<circle cx="73.43" cy="134.45" r="2.3" fill="#e8915a"/>
<circle cx="224.54" cy="187.27" r="2.3" fill="#a6cfea"/>
<circle cx="246.47" cy="187.72" r="2.3" fill="#5cae98"/>
<circle cx="14.92" cy="110.72" r="2.3" fill="#5fa4d3"/>
<circle cx="244.54" cy="253.75" r="2.3" fill="#a3532e"/>
<circle cx="62.79" cy="152.36" r="2.3" fill="#c9a3c4"/>
<circle cx="156.05" cy="248.81" r="2.3" fill="#5cae98"/>
<circle cx="65.05" cy="85.49" r="2.3" fill="#5cae98"/>
<circle cx="225.07" cy="239.26" r="2.3" fill="#e8915a"/>
<circle cx="176.59" cy="186.43" r="2.3" fill="#e8915a"/>
<circle cx="142.98" cy="197.85" r="2.3" fill="#5fa4d3"/>
<circle cx="185.97" cy="130.29" r="2.3" fill="#5fa4d3"/>
<circle cx="216.37" cy="178.81" r="2.3" fill="#a6cfea"/>
<circle cx="180.84" cy="252.5" r="2.3" fill="#c9a3c4"/>
<circle cx="101.24" cy="153.38" r="2.3" fill="#9a9a5e"/>
<circle cx="121.88" cy="58.49" r="2.3" fill="#e8915a"/>
<circle cx="164.63" cy="104.4" r="2.3" fill="#a6cfea"/>
<circle cx="162.98" cy="133.77" r="2.3" fill="#a6cfea"/>
<circle cx="155.17" cy="128.6" r="2.3" fill="#c9a3c4"/>
<circle cx="147.23" cy="172.29" r="2.3" fill="#9a9a5e"/>
<circle cx="91.96" cy="188.12" r="2.3" fill="#ee5f6e"/>
<circle cx="59.76" cy="148.2" r="2.3" fill="#5fa4d3"/>
<circle cx="32.74" cy="134.8" r="2.3" fill="#5cae98"/>
<circle cx="266.36" cy="212.56" r="2.3" fill="#5cae98"/>
<circle cx="148.89" cy="161.44" r="2.3" fill="#e8915a"/>
<circle cx="185.48" cy="111.13" r="2.3" fill="#5fa4d3"/>
<circle cx="253.33" cy="145.43" r="2.3" fill="#3a88c6"/>
<circle cx="213.11" cy="260.58" r="2.3" fill="#c9a3c4"/>
<circle cx="95.59" cy="93.31" r="2.3" fill="#f5901e"/>
<circle cx="69.75" cy="154.84" r="2.3" fill="#c9a3c4"/>
<circle cx="64.29" cy="77.86" r="2.3" fill="#3a88ae"/>
<circle cx="78.86" cy="127.74" r="2.3" fill="#5cae98"/>
<circle cx="182.42" cy="91.78" r="2.3" fill="#f7a74e"/>
<circle cx="224.3" cy="112.56" r="2.3" fill="#e8915a"/>
<circle cx="161.62" cy="100.5" r="2.3" fill="#5cae98"/>
<circle cx="298.08" cy="171.53" r="2.3" fill="#a6cfea"/>
<circle cx="113.78" cy="209.09" r="2.3" fill="#9a9a5e"/>
<circle cx="264.6" cy="214.91" r="2.3" fill="#9a9a5e"/>
<circle cx="288.4" cy="137.85" r="2.3" fill="#e8915a"/>
<circle cx="168.66" cy="236.47" r="2.3" fill="#e4dd9a"/>
<circle cx="167.19" cy="222.17" r="2.3" fill="#5fa4d3"/>
<circle cx="187.11" cy="124.66" r="2.3" fill="#5fa4d3"/>
<circle cx="281.14" cy="147.46" r="2.3" fill="#c9a3c4"/>
<circle cx="190.04" cy="82.66" r="2.3" fill="#c9a3c4"/>
<circle cx="149.94" cy="170.06" r="2.3" fill="#a6cfea"/>
<circle cx="215.47" cy="164.83" r="2.3" fill="#9a9a5e"/>
<circle cx="197.04" cy="271.09" r="2.3" fill="#a3532e"/>
<circle cx="293.17" cy="157.83" r="2.3" fill="#e8915a"/>
<circle cx="249.33" cy="118.62" r="2.3" fill="#5cae98"/>
<circle cx="44.35" cy="147.91" r="2.3" fill="#5fa4d3"/>
<circle cx="55.53" cy="135.79" r="2.3" fill="#9a9a5e"/>
<circle cx="175.77" cy="226.09" r="2.3" fill="#9a9a5e"/>
<circle cx="179.69" cy="155.59" r="2.3" fill="#a6cfea"/>
<circle cx="62.19" cy="75.72" r="2.3" fill="#5fa4d3"/>
<circle cx="89.87" cy="116.38" r="2.3" fill="#e8915a"/>
<circle cx="196" cy="218.51" r="2.3" fill="#5fa4d3"/>
<circle cx="289.25" cy="182.55" r="2.3" fill="#a6cfea"/>
<circle cx="309.41" cy="164.19" r="2.3" fill="#e8915a"/>
<circle cx="255.72" cy="245.6" r="2.3" fill="#5cae98"/>
<circle cx="257.65" cy="132.96" r="2.3" fill="#efd77a"/>
<circle cx="159.09" cy="231.49" r="2.3" fill="#a6cfea"/>
<circle cx="124.56" cy="75.37" r="2.3" fill="#a6cfea"/>
<circle cx="64.79" cy="172.29" r="2.3" fill="#e8915a"/>
<circle cx="200.4" cy="244.4" r="2.3" fill="#e8915a"/>
<circle cx="105.06" cy="182.44" r="2.3" fill="#c9a3c4"/>
<circle cx="144.42" cy="144.65" r="2.3" fill="#f5ae6e"/>
<circle cx="80.12" cy="177.45" r="2.3" fill="#5fa4d3"/>
<circle cx="240.66" cy="234.77" r="2.3" fill="#a08a97"/>
<circle cx="221.72" cy="274.08" r="2.3" fill="#5fa4d3"/>
<circle cx="158.07" cy="245.73" r="2.3" fill="#5cae98"/>
<circle cx="17.99" cy="93.83" r="2.3" fill="#c9a3c4"/>
<circle cx="274.97" cy="130.69" r="2.3" fill="#c9a3c4"/>
<circle cx="88.85" cy="67.3" r="2.3" fill="#a3532e"/>
<circle cx="131.67" cy="97.09" r="2.3" fill="#c9a3c4"/>
<circle cx="164.45" cy="279.86" r="2.3" fill="#e4dd9a"/>
<circle cx="169.3" cy="215.58" r="2.3" fill="#3a88ae"/>
<circle cx="17.4" cy="80.91" r="2.3" fill="#49a949"/>
<circle cx="148.19" cy="60.82" r="2.3" fill="#c9a3c4"/>
<circle cx="119.94" cy="139.88" r="2.3" fill="#c9a3c4"/>
<circle cx="38.26" cy="138.65" r="2.3" fill="#c68f4a"/>
<circle cx="242.02" cy="86.21" r="2.3" fill="#5fa4d3"/>
<circle cx="239.96" cy="96.8" r="2.3" fill="#5cae98"/>
<circle cx="106.04" cy="92.19" r="2.3" fill="#f5901e"/>
<circle cx="130.57" cy="112.35" r="2.3" fill="#df3040"/>
<circle cx="166.51" cy="97.28" r="2.3" fill="#c9a3c4"/>
<circle cx="205.13" cy="171.6" r="2.3" fill="#a08a97"/>
<circle cx="208.93" cy="230.47" r="2.3" fill="#5cae98"/>
<circle cx="230.27" cy="132.93" r="2.3" fill="#3a88c6"/>
<circle cx="257.7" cy="185.84" r="2.3" fill="#9a9a5e"/>
<circle cx="183.52" cy="163.23" r="2.3" fill="#5fa4d3"/>
<circle cx="227.35" cy="132.16" r="2.3" fill="#efd77a"/>
<circle cx="147.41" cy="78.69" r="2.3" fill="#9a9a5e"/>
<circle cx="15.47" cy="130.59" r="2.3" fill="#c9a3c4"/>
<circle cx="241.08" cy="268.77" r="2.3" fill="#c9a3c4"/>
<circle cx="253.38" cy="186.99" r="2.3" fill="#9a9a5e"/>
<circle cx="173.53" cy="174.01" r="2.3" fill="#5fa4d3"/>
<circle cx="213.71" cy="99.14" r="2.3" fill="#e8915a"/>
<circle cx="222.51" cy="167.39" r="2.3" fill="#efd77a"/>
<circle cx="268.75" cy="130.08" r="2.3" fill="#3a88ae"/>
<circle cx="155.23" cy="196.04" r="2.3" fill="#c9a3c4"/>
<circle cx="131.35" cy="212.12" r="2.3" fill="#5fa4d3"/>
<circle cx="160.05" cy="90.62" r="2.3" fill="#5fa4d3"/>
<circle cx="161.22" cy="208.1" r="2.3" fill="#e8915a"/>
<circle cx="90.63" cy="133.22" r="2.3" fill="#a08a97"/>
<circle cx="185.94" cy="90.97" r="2.3" fill="#c9a3c4"/>
<circle cx="170.54" cy="66.84" r="2.3" fill="#9a9a5e"/>
<circle cx="67.92" cy="73.68" r="2.3" fill="#c9a3c4"/>
<circle cx="79.24" cy="173.03" r="2.3" fill="#c9a3c4"/>
<circle cx="235.88" cy="204.65" r="2.3" fill="#e8915a"/>
<circle cx="301.39" cy="205.12" r="2.3" fill="#e8915a"/>
<circle cx="245.95" cy="270.83" r="2.3" fill="#3a88c6"/>
<circle cx="189.83" cy="203.85" r="2.3" fill="#5cae98"/>
<circle cx="105.34" cy="158.04" r="2.3" fill="#efd77a"/>
<circle cx="167.15" cy="248.96" r="2.3" fill="#e4dd9a"/>
<circle cx="203.95" cy="210.46" r="2.3" fill="#3b9f3b"/>
<circle cx="208.15" cy="125.95" r="2.3" fill="#e8915a"/>
<circle cx="261.53" cy="174.17" r="2.3" fill="#5fa4d3"/>
<circle cx="167.43" cy="152.06" r="2.3" fill="#5fa4d3"/>
<circle cx="189.6" cy="259.22" r="2.3" fill="#5fa4d3"/>
<circle cx="29.25" cy="168.37" r="2.3" fill="#a6cfea"/>
<circle cx="188.73" cy="103.94" r="2.3" fill="#a6cfea"/>
<circle cx="57.57" cy="87.33" r="2.3" fill="#e8915a"/>
<circle cx="188.71" cy="229.67" r="2.3" fill="#e8915a"/>
<circle cx="114.04" cy="69.91" r="2.3" fill="#a6cfea"/>
<circle cx="216.49" cy="260.47" r="2.3" fill="#f5901e"/>
<circle cx="145.75" cy="177.64" r="2.3" fill="#9a9a5e"/>
<circle cx="163.11" cy="206.6" r="2.3" fill="#3a88ae"/>
<circle cx="231.2" cy="194.51" r="2.3" fill="#c9a3c4"/>
<circle cx="130.96" cy="109.3" r="2.3" fill="#f57f1c"/>
<circle cx="249.5" cy="76.41" r="2.3" fill="#e4dd9a"/>
<circle cx="238.7" cy="195.88" r="2.3" fill="#e8915a"/>
<circle cx="257.94" cy="82.83" r="2.3" fill="#a6cfea"/>
<circle cx="160.36" cy="177.17" r="2.3" fill="#e4dd9a"/>
<circle cx="127.7" cy="115.35" r="2.3" fill="#5fa4d3"/>
<circle cx="221.31" cy="243" r="2.3" fill="#e8915a"/>
<circle cx="303.87" cy="174.95" r="2.3" fill="#efd77a"/>
<circle cx="109.26" cy="71.34" r="2.3" fill="#e8915a"/>
<circle cx="155.55" cy="164.62" r="2.3" fill="#c9a3c4"/>
<circle cx="182.72" cy="156.45" r="2.3" fill="#e4dd9a"/>
<circle cx="61.25" cy="145.64" r="2.3" fill="#5fa4d3"/>
<circle cx="69.16" cy="147.85" r="2.3" fill="#a6cfea"/>
<circle cx="190.09" cy="150.26" r="2.3" fill="#c9a3c4"/>
<circle cx="134.9" cy="224.96" r="2.3" fill="#5fa4d3"/>
<circle cx="257.7" cy="130.12" r="2.3" fill="#5fa4d3"/>
<circle cx="92.3" cy="150.3" r="2.3" fill="#c9a3c4"/>
<circle cx="187.21" cy="141.66" r="2.3" fill="#e4dd9a"/>
<circle cx="149.99" cy="264.6" r="2.3" fill="#3a88c6"/>
<circle cx="176.4" cy="81.72" r="2.3" fill="#a6cfea"/>
<circle cx="65.83" cy="68.21" r="2.3" fill="#5cae98"/>
<circle cx="228.5" cy="247.54" r="2.3" fill="#5cae98"/>
<circle cx="78.43" cy="92.71" r="2.3" fill="#efd77a"/>
<circle cx="107.26" cy="97.22" r="2.3" fill="#a6cfea"/>
<circle cx="219.27" cy="69.03" r="2.3" fill="#e8915a"/>
<circle cx="280.26" cy="145.01" r="2.3" fill="#a6cfea"/>
<circle cx="121.83" cy="117.21" r="2.3" fill="#9a9a5e"/>
<circle cx="242.93" cy="188.05" r="2.3" fill="#5fa4d3"/>
<circle cx="134.15" cy="144.88" r="2.3" fill="#c9a3c4"/>
<circle cx="175.44" cy="77.86" r="2.3" fill="#5cae98"/>
<circle cx="99.28" cy="158.52" r="2.3" fill="#c9a3c4"/>
<circle cx="244.18" cy="120.16" r="2.3" fill="#9a9a5e"/>
<circle cx="127.8" cy="173.68" r="2.3" fill="#eda0a0"/>
<circle cx="307.51" cy="191.25" r="2.3" fill="#ee5f6e"/>
<circle cx="99.32" cy="62.68" r="2.3" fill="#5fa4d3"/>
<circle cx="145.34" cy="212.65" r="2.3" fill="#efd77a"/>
<circle cx="244.67" cy="150.23" r="2.3" fill="#efd77a"/>
<circle cx="152.97" cy="190.02" r="2.3" fill="#e8915a"/>
<circle cx="126.53" cy="179.02" r="2.3" fill="#5fa4d3"/>
<circle cx="88.38" cy="190.56" r="2.3" fill="#c9a3c4"/>
<circle cx="238.71" cy="162.46" r="2.3" fill="#9a9a5e"/>
<circle cx="192.9" cy="193.27" r="2.3" fill="#efd77a"/>
<circle cx="205.68" cy="99.8" r="2.3" fill="#c9a3c4"/>
<circle cx="166.59" cy="219.6" r="2.3" fill="#c9a3c4"/>
<circle cx="288.55" cy="172.35" r="2.3" fill="#e8915a"/>
<circle cx="92.68" cy="108.95" r="2.3" fill="#a6cfea"/>
<circle cx="147.54" cy="227.41" r="2.3" fill="#e4dd9a"/>
<circle cx="85.25" cy="172" r="2.3" fill="#9a9a5e"/>
<circle cx="274.87" cy="184.37" r="2.3" fill="#5fa4d3"/>
<circle cx="169.57" cy="86.18" r="2.3" fill="#c9a3c4"/>
<circle cx="218.71" cy="178.2" r="2.3" fill="#5cae98"/>
<circle cx="173.58" cy="256.9" r="2.3" fill="#efd77a"/>
<circle cx="89.53" cy="88.69" r="2.3" fill="#a6cfea"/>
<circle cx="268.7" cy="173.95" r="2.3" fill="#c9a3c4"/>
<circle cx="99.05" cy="114.4" r="2.3" fill="#5cae98"/>
<circle cx="221.52" cy="97.15" r="2.3" fill="#c68f4a"/>
<circle cx="76.07" cy="166.59" r="2.3" fill="#e8915a"/>
<circle cx="189.87" cy="252.57" r="2.3" fill="#e8915a"/>
<circle cx="235.01" cy="278.22" r="2.3" fill="#9a9a5e"/>
<circle cx="177.59" cy="138.67" r="2.3" fill="#a6cfea"/>
<circle cx="227.33" cy="225.72" r="2.3" fill="#f5901e"/>
<circle cx="116.2" cy="64.7" r="2.3" fill="#c9a3c4"/>
<circle cx="164.02" cy="266.47" r="2.3" fill="#e8915a"/>
<circle cx="268.19" cy="148.54" r="2.3" fill="#c9a3c4"/>
<circle cx="211.02" cy="96.73" r="2.3" fill="#f57f1c"/>
<circle cx="275.8" cy="175.35" r="2.3" fill="#5fa4d3"/>
<circle cx="240.66" cy="208.37" r="2.3" fill="#e4dd9a"/>
<circle cx="122.53" cy="133.34" r="2.3" fill="#a08a97"/>
<circle cx="110.06" cy="56.12" r="2.3" fill="#a6cfea"/>
<circle cx="274.62" cy="133.33" r="2.3" fill="#9a9a5e"/>
<circle cx="264.73" cy="170.62" r="2.3" fill="#a6cfea"/>
<circle cx="121.28" cy="97.46" r="2.3" fill="#5fa4d3"/>
<circle cx="58.85" cy="92.18" r="2.3" fill="#5fa4d3"/>
<circle cx="111.19" cy="154.95" r="2.3" fill="#9a9a5e"/>
<circle cx="29.75" cy="73.63" r="2.3" fill="#e4dd9a"/>
<circle cx="253.15" cy="126.84" r="2.3" fill="#c9a3c4"/>
<circle cx="127.22" cy="206.91" r="2.3" fill="#e8915a"/>
<circle cx="151.11" cy="175.84" r="2.3" fill="#e8915a"/>
<circle cx="231.51" cy="101.2" r="2.3" fill="#3a88c6"/>
<circle cx="100.66" cy="140.47" r="2.3" fill="#5fa4d3"/>
<circle cx="40.16" cy="142.98" r="2.3" fill="#e8915a"/>
<circle cx="270.42" cy="152.1" r="2.3" fill="#c9a3c4"/>
<circle cx="162.96" cy="285.19" r="2.3" fill="#9a9a5e"/>
<circle cx="211.95" cy="255.59" r="2.3" fill="#c9a3c4"/>
<circle cx="98.21" cy="186.36" r="2.3" fill="#f5901e"/>
<circle cx="167.51" cy="271.91" r="2.3" fill="#c9a3c4"/>
<circle cx="87.5" cy="121.05" r="2.3" fill="#c9a3c4"/>
<circle cx="259.16" cy="127.85" r="2.3" fill="#efd77a"/>
<circle cx="65.21" cy="95.89" r="2.3" fill="#c9a3c4"/>
<circle cx="49.84" cy="126.03" r="2.3" fill="#a6cfea"/>
<circle cx="304.24" cy="183.87" r="2.3" fill="#5cae98"/>
<circle cx="98.4" cy="73.16" r="2.3" fill="#c9a3c4"/>
<circle cx="87.48" cy="136.58" r="2.3" fill="#3a88ae"/>
<circle cx="238.81" cy="256.34" r="2.3" fill="#c9a3c4"/>
<circle cx="105.17" cy="82.31" r="2.3" fill="#e8915a"/>
<circle cx="160.83" cy="58.98" r="2.3" fill="#c9a3c4"/>
<circle cx="253.07" cy="86.13" r="2.3" fill="#9a9a5e"/>
<circle cx="76.23" cy="141.92" r="2.3" fill="#a6cfea"/>
<circle cx="13.83" cy="121.34" r="2.3" fill="#efd77a"/>
<circle cx="167.77" cy="69.05" r="2.3" fill="#c9a3c4"/>
<circle cx="235.73" cy="101.2" r="2.3" fill="#e8915a"/>
<circle cx="235.27" cy="129.15" r="2.3" fill="#c68f4a"/>
<circle cx="183.12" cy="223.74" r="2.3" fill="#e4dd9a"/>
<circle cx="234.8" cy="189.24" r="2.3" fill="#c9a3c4"/>
<circle cx="172.13" cy="139.11" r="2.3" fill="#c9a3c4"/>
<circle cx="237.18" cy="84.94" r="2.3" fill="#5fa4d3"/>
<circle cx="144.37" cy="87.5" r="2.3" fill="#c9a3c4"/>
<circle cx="184.73" cy="126.83" r="2.3" fill="#c9a3c4"/>
<circle cx="299.74" cy="181.3" r="2.3" fill="#5fa4d3"/>
<circle cx="188.69" cy="217.04" r="2.3" fill="#c9a3c4"/>
<circle cx="146.9" cy="198.43" r="2.3" fill="#c9a3c4"/>
<circle cx="187.9" cy="96.58" r="2.3" fill="#a6cfea"/>
<circle cx="160.65" cy="75.55" r="2.3" fill="#a3532e"/>
<circle cx="130.33" cy="190.38" r="2.3" fill="#c9a3c4"/>
<circle cx="296.53" cy="182.83" r="2.3" fill="#9a9a5e"/>
<circle cx="173.97" cy="93.92" r="2.3" fill="#5fa4d3"/>
<circle cx="242.55" cy="105.98" r="2.3" fill="#e4dd9a"/>
<circle cx="25.42" cy="92.75" r="2.3" fill="#5fa4d3"/>
<circle cx="205.96" cy="132.1" r="2.3" fill="#5fa4d3"/>
<circle cx="109.53" cy="193.76" r="2.3" fill="#f5ae6e"/>
<circle cx="114.42" cy="122.53" r="2.3" fill="#5fa4d3"/>
<circle cx="246.05" cy="280.56" r="2.3" fill="#c9a3c4"/>
<circle cx="174.37" cy="171.44" r="2.3" fill="#5fa4d3"/>
<circle cx="260.91" cy="137.23" r="2.3" fill="#5fa4d3"/>
<circle cx="77.34" cy="145.6" r="2.3" fill="#c9a3c4"/>
<circle cx="255.09" cy="173.55" r="2.3" fill="#e4dd9a"/>
<circle cx="219.09" cy="275.1" r="2.3" fill="#b08fd0"/>
<circle cx="280.57" cy="198.16" r="2.3" fill="#3a88ae"/>
<circle cx="238.81" cy="274.54" r="2.3" fill="#a6cfea"/>
<circle cx="110.32" cy="79.02" r="2.3" fill="#c9a3c4"/>
<circle cx="130.56" cy="94.42" r="2.3" fill="#9a9a5e"/>
<circle cx="121.98" cy="61.28" r="2.3" fill="#5fa4d3"/>
<circle cx="293.62" cy="211.29" r="2.3" fill="#a08a97"/>
<circle cx="112.44" cy="108.3" r="2.3" fill="#5fa4d3"/>
<circle cx="152.61" cy="244.71" r="2.3" fill="#5fa4d3"/>
<circle cx="47.57" cy="96.81" r="2.3" fill="#5fa4d3"/>
<circle cx="185.18" cy="195.27" r="2.3" fill="#e8915a"/>
<circle cx="153.01" cy="139.61" r="2.3" fill="#c9a3c4"/>
<circle cx="228.27" cy="91.05" r="2.3" fill="#5fa4d3"/>
<circle cx="258.83" cy="85.26" r="2.3" fill="#e8915a"/>
<circle cx="142.17" cy="115.83" r="2.3" fill="#c9a3c4"/>
<circle cx="152.14" cy="78.7" r="2.3" fill="#5fa4d3"/>
<circle cx="148.01" cy="100.71" r="2.3" fill="#c9a3c4"/>
<circle cx="176.81" cy="165.26" r="2.3" fill="#5fa4d3"/>
<circle cx="123.72" cy="219.71" r="2.3" fill="#e8915a"/>
<circle cx="252.88" cy="159.67" r="2.3" fill="#3b9f3b"/>
<circle cx="110.02" cy="116.31" r="2.3" fill="#e4dd9a"/>
<circle cx="186.47" cy="200.22" r="2.3" fill="#5fa4d3"/>
<circle cx="242.57" cy="109.95" r="2.3" fill="#9a9a5e"/>
<circle cx="21.32" cy="131.25" r="2.3" fill="#c9a3c4"/>
<circle cx="102" cy="163.3" r="2.3" fill="#c9a3c4"/>
<circle cx="236.92" cy="252.83" r="2.3" fill="#a6cfea"/>
<circle cx="164.55" cy="272.61" r="2.3" fill="#a6cfea"/>
<circle cx="73.47" cy="106.83" r="2.3" fill="#5cae98"/>
<circle cx="175.74" cy="183.49" r="2.3" fill="#f5901e"/>
<circle cx="143.67" cy="194.07" r="2.3" fill="#e8915a"/>
<circle cx="128.02" cy="141.64" r="2.3" fill="#5cae98"/>
<circle cx="139.53" cy="114.07" r="2.3" fill="#a6cfea"/>
<circle cx="228.62" cy="270.1" r="2.3" fill="#c9a3c4"/>
<circle cx="104.46" cy="191.23" r="2.3" fill="#a6cfea"/>
<circle cx="218.71" cy="165.25" r="2.3" fill="#9a9a5e"/>
<circle cx="66.41" cy="103.97" r="2.3" fill="#c9a3c4"/>
<circle cx="29.16" cy="83.76" r="2.3" fill="#a6cfea"/>
<circle cx="168.9" cy="286.6" r="2.3" fill="#f5901e"/>
<circle cx="304.75" cy="213.3" r="2.3" fill="#5fa4d3"/>
<circle cx="92.26" cy="160.09" r="2.3" fill="#c9a3c4"/>
<circle cx="74.98" cy="148.78" r="2.3" fill="#f5901e"/>
<circle cx="82.44" cy="137.81" r="2.3" fill="#5fa4d3"/>
<circle cx="245.09" cy="160" r="2.3" fill="#e8915a"/>
<circle cx="206.94" cy="187.69" r="2.3" fill="#e8915a"/>
<circle cx="152.53" cy="86.29" r="2.3" fill="#e8915a"/>
<circle cx="259.89" cy="109.7" r="2.3" fill="#e8915a"/>
<circle cx="160.06" cy="227.79" r="2.3" fill="#c9a3c4"/>
<circle cx="62.66" cy="111.06" r="2.3" fill="#9a9a5e"/>
<circle cx="110.65" cy="136.07" r="2.3" fill="#c9a3c4"/>
<circle cx="140.41" cy="96.93" r="2.3" fill="#a3532e"/>
<circle cx="162.97" cy="224.68" r="2.3" fill="#9a9a5e"/>
<circle cx="161.08" cy="121.26" r="2.3" fill="#5fa4d3"/>
<circle cx="160.8" cy="250.39" r="2.3" fill="#e8915a"/>
<circle cx="109.24" cy="159.6" r="2.3" fill="#c9a3c4"/>
<circle cx="199.23" cy="126.15" r="2.3" fill="#c9a3c4"/>
<circle cx="268.96" cy="169.33" r="2.3" fill="#5cae98"/>
<circle cx="214.55" cy="93.52" r="2.3" fill="#c9a3c4"/>
<circle cx="57.63" cy="161.96" r="2.3" fill="#9a9a5e"/>
<circle cx="208.81" cy="76.2" r="2.3" fill="#c9a3c4"/>
<circle cx="94.74" cy="56.44" r="2.3" fill="#a6cfea"/>
<circle cx="72.38" cy="85.88" r="2.3" fill="#e8915a"/>
<circle cx="143.4" cy="170.98" r="2.3" fill="#e8915a"/>
<circle cx="185.15" cy="155.87" r="2.3" fill="#a6cfea"/>
<circle cx="38.28" cy="85.98" r="2.3" fill="#a6cfea"/>
<circle cx="153.94" cy="114.57" r="2.3" fill="#a6cfea"/>
<circle cx="168.64" cy="229.31" r="2.3" fill="#e8915a"/>
<circle cx="171.23" cy="225.67" r="2.3" fill="#5cae98"/>
<circle cx="44.63" cy="174.8" r="2.3" fill="#5fa4d3"/>
<circle cx="109.67" cy="228.24" r="2.3" fill="#e8915a"/>
<circle cx="207.93" cy="267.78" r="2.3" fill="#e8915a"/>
<circle cx="22.18" cy="102.55" r="2.3" fill="#c9a3c4"/>
<circle cx="96.36" cy="171.79" r="2.3" fill="#9a9a5e"/>
<circle cx="39.48" cy="132.53" r="2.3" fill="#c9a3c4"/>
<circle cx="169.68" cy="250.94" r="2.3" fill="#c9a3c4"/>
<circle cx="230.15" cy="115.06" r="2.3" fill="#e4dd9a"/>
<circle cx="219.23" cy="228.74" r="2.3" fill="#a3532e"/>
<circle cx="212.04" cy="200.13" r="2.3" fill="#e8915a"/>
<circle cx="156.44" cy="140.74" r="2.3" fill="#49a949"/>
<circle cx="236.09" cy="257.34" r="2.3" fill="#e8915a"/>
<circle cx="93.43" cy="86.16" r="2.3" fill="#e8915a"/>
<circle cx="230.3" cy="257.26" r="2.3" fill="#c9a3c4"/>
<circle cx="88.7" cy="159.26" r="2.3" fill="#e8915a"/>
<circle cx="24.38" cy="128.84" r="2.3" fill="#c9a3c4"/>
<circle cx="117.45" cy="185.48" r="2.3" fill="#c9a3c4"/>
<circle cx="193.88" cy="164.59" r="2.3" fill="#f5ae6e"/>
<circle cx="113" cy="162.48" r="2.3" fill="#a6cfea"/>
<circle cx="154.77" cy="109.62" r="2.3" fill="#c9a3c4"/>
<circle cx="206.29" cy="211.55" r="2.3" fill="#e4dd9a"/>
<circle cx="176.57" cy="113.55" r="2.3" fill="#9a9a5e"/>
<circle cx="107.86" cy="181.76" r="2.3" fill="#a6cfea"/>
<circle cx="139.5" cy="204.24" r="2.3" fill="#c9a3c4"/>
<circle cx="207.5" cy="111.48" r="2.3" fill="#5cae98"/>
<circle cx="44.57" cy="120.96" r="2.3" fill="#e8915a"/>
<circle cx="74.87" cy="98.78" r="2.3" fill="#5cae98"/>
<circle cx="105.53" cy="132.54" r="2.3" fill="#c9a3c4"/>
<circle cx="216.96" cy="132.51" r="2.3" fill="#5fa4d3"/>
<circle cx="161.47" cy="66.78" r="2.3" fill="#a6cfea"/>
<circle cx="235.53" cy="243.25" r="2.3" fill="#3b9f3b"/>
<circle cx="34.48" cy="82.91" r="2.3" fill="#a08a97"/>
<circle cx="134.27" cy="205.75" r="2.3" fill="#e8915a"/>
<circle cx="171.28" cy="281.09" r="2.3" fill="#c9a3c4"/>
<circle cx="141.4" cy="120.84" r="2.3" fill="#c9a3c4"/>
<circle cx="33.13" cy="139.52" r="2.3" fill="#c9a3c4"/>
<circle cx="209.69" cy="152.2" r="2.3" fill="#5fa4d3"/>
<circle cx="103.79" cy="115.94" r="2.3" fill="#c9a3c4"/>
<circle cx="191.87" cy="78.95" r="2.3" fill="#a6cfea"/>
<circle cx="32.65" cy="81.13" r="2.3" fill="#9a9a5e"/>
<circle cx="192.17" cy="212.31" r="2.3" fill="#5fa4d3"/>
<circle cx="114.91" cy="113.32" r="2.3" fill="#c9a3c4"/>
<circle cx="185.35" cy="251.47" r="2.3" fill="#e8915a"/>
<circle cx="213.72" cy="136.35" r="2.3" fill="#5cae98"/>
<circle cx="39.46" cy="98.77" r="2.3" fill="#a6cfea"/>
<circle cx="213.26" cy="88.27" r="2.3" fill="#5cae98"/>
<circle cx="105.13" cy="186.77" r="2.3" fill="#c9a3c4"/>
<circle cx="235.91" cy="75.21" r="2.3" fill="#9a9a5e"/>
<circle cx="260.77" cy="141.6" r="2.3" fill="#f5901e"/>
<circle cx="177.6" cy="270.48" r="2.3" fill="#c9a3c4"/>
<circle cx="111.79" cy="84.2" r="2.3" fill="#9a9a5e"/>
<circle cx="231.94" cy="161.02" r="2.3" fill="#5fa4d3"/>
<circle cx="65.82" cy="108.87" r="2.3" fill="#c9a3c4"/>
<circle cx="239.04" cy="259.55" r="2.3" fill="#a6cfea"/>
<circle cx="255.96" cy="117.34" r="2.3" fill="#efd77a"/>
<circle cx="197.13" cy="98.19" r="2.3" fill="#efd77a"/>
<circle cx="121.18" cy="182.22" r="2.3" fill="#5fa4d3"/>
<circle cx="121.52" cy="78.28" r="2.3" fill="#3a88ae"/>
<circle cx="231.21" cy="200.69" r="2.3" fill="#f5901e"/>
<circle cx="51.55" cy="131.46" r="2.3" fill="#e8915a"/>
<circle cx="175.68" cy="141.43" r="2.3" fill="#c9a3c4"/>
<circle cx="212.3" cy="76.82" r="2.3" fill="#5fa4d3"/>
<circle cx="193.8" cy="158.2" r="2.3" fill="#5fa4d3"/>
<circle cx="29.9" cy="127.69" r="2.3" fill="#9a9a5e"/>
<circle cx="128.77" cy="89.52" r="2.3" fill="#e8915a"/>
<circle cx="115.86" cy="53.44" r="2.3" fill="#c9a3c4"/>
<circle cx="248.35" cy="160.04" r="2.3" fill="#8a58b6"/>
<circle cx="100.07" cy="177.85" r="2.3" fill="#c9a3c4"/>
<circle cx="50.92" cy="116.15" r="2.3" fill="#3a88c6"/>
<circle cx="228.33" cy="151.69" r="2.3" fill="#5fa4d3"/>
<circle cx="276.8" cy="218.36" r="2.3" fill="#e8915a"/>
<circle cx="228.02" cy="234.84" r="2.3" fill="#a3532e"/>
<circle cx="254.51" cy="192.65" r="2.3" fill="#f5901e"/>
<circle cx="162.13" cy="234.88" r="2.3" fill="#f5901e"/>
<circle cx="91.77" cy="72.38" r="2.3" fill="#e8915a"/>
<circle cx="188.86" cy="281.42" r="2.3" fill="#5cae98"/>
<circle cx="52.2" cy="162.54" r="2.3" fill="#a6cfea"/>
<circle cx="222.14" cy="281.77" r="2.3" fill="#5fa4d3"/>
<circle cx="121.29" cy="171.88" r="2.3" fill="#f5ae6e"/>
<circle cx="237.54" cy="282.06" r="2.3" fill="#3a88c6"/>
<circle cx="207" cy="169.41" r="2.3" fill="#5fa4d3"/>
<circle cx="126.29" cy="166.2" r="2.3" fill="#a3532e"/>
<circle cx="105.81" cy="103.22" r="2.3" fill="#9a9a5e"/>
<circle cx="176.33" cy="203.44" r="2.3" fill="#a3532e"/>
<circle cx="236.57" cy="238.36" r="2.3" fill="#f5901e"/>
<circle cx="196.61" cy="188.93" r="2.3" fill="#eda0a0"/>
<circle cx="63.51" cy="129.74" r="2.3" fill="#a08a97"/>
<circle cx="150.46" cy="179.95" r="2.3" fill="#5cae98"/>
<circle cx="297.78" cy="166" r="2.3" fill="#a6cfea"/>
<circle cx="138.42" cy="87.92" r="2.3" fill="#9a9a5e"/>
<circle cx="281.9" cy="190.31" r="2.3" fill="#5fa4d3"/>
<circle cx="145.88" cy="252.3" r="2.3" fill="#5fa4d3"/>
<circle cx="30.71" cy="161.85" r="2.3" fill="#f5901e"/>
<circle cx="55.67" cy="170.05" r="2.3" fill="#e4dd9a"/>
<circle cx="218.41" cy="244.58" r="2.3" fill="#c9a3c4"/>
<circle cx="166.56" cy="209.17" r="2.3" fill="#e8915a"/>
<circle cx="155.2" cy="263.74" r="2.3" fill="#9a9a5e"/>
<circle cx="164.34" cy="186.07" r="2.3" fill="#a6cfea"/>
<circle cx="35.52" cy="89.51" r="2.3" fill="#e8915a"/>
<circle cx="189.69" cy="198.99" r="2.3" fill="#a6cfea"/>
<circle cx="50.13" cy="92.39" r="2.3" fill="#a6cfea"/>
<circle cx="188.46" cy="115.67" r="2.3" fill="#a6cfea"/>
<circle cx="243.44" cy="176.4" r="2.3" fill="#5fa4d3"/>
<circle cx="127.17" cy="222.91" r="2.3" fill="#e8915a"/>
<circle cx="53.59" cy="83.99" r="2.3" fill="#5fa4d3"/>
<circle cx="67.52" cy="132.08" r="2.3" fill="#efd77a"/>
<circle cx="13.14" cy="131.83" r="2.3" fill="#efd77a"/>
<circle cx="206.88" cy="122.56" r="2.3" fill="#c9a3c4"/>
<circle cx="141.6" cy="109.65" r="2.3" fill="#c9a3c4"/>
<circle cx="156.13" cy="117.33" r="2.3" fill="#c9a3c4"/>
<circle cx="141.21" cy="270.44" r="2.3" fill="#9a9a5e"/>
<circle cx="94.51" cy="200.67" r="2.3" fill="#c9a3c4"/>
<circle cx="235.6" cy="227.78" r="2.3" fill="#e8915a"/>
<circle cx="217.22" cy="113.21" r="2.3" fill="#a6cfea"/>
<circle cx="264.21" cy="173.54" r="2.3" fill="#9a9a5e"/>
<circle cx="212.19" cy="204.49" r="2.3" fill="#c9a3c4"/>
<circle cx="240.51" cy="167.42" r="2.3" fill="#9a9a5e"/>
<circle cx="231.23" cy="180.27" r="2.3" fill="#c9a3c4"/>
<circle cx="59.12" cy="70.92" r="2.3" fill="#5fa4d3"/>
<circle cx="180.13" cy="62.34" r="2.3" fill="#9a9a5e"/>
<circle cx="92.72" cy="163.24" r="2.3" fill="#a6cfea"/>
<circle cx="161.91" cy="109.74" r="2.3" fill="#5fa4d3"/>
<circle cx="222.6" cy="68.94" r="2.3" fill="#ee5f6e"/>
<circle cx="104.72" cy="106.3" r="2.3" fill="#c9a3c4"/>
<circle cx="193.28" cy="101.97" r="2.3" fill="#5fa4d3"/>
<circle cx="127.07" cy="236.08" r="2.3" fill="#e8915a"/>
<circle cx="128.53" cy="220.66" r="2.3" fill="#e8915a"/>
<circle cx="262.8" cy="274.04" r="2.3" fill="#efd77a"/>
<circle cx="80.89" cy="68.29" r="2.3" fill="#9a9a5e"/>
<circle cx="152.78" cy="197.4" r="2.3" fill="#5fa4d3"/>
<circle cx="224.78" cy="135.89" r="2.3" fill="#e4dd9a"/>
<circle cx="94.6" cy="190.62" r="2.3" fill="#5fa4d3"/>
<circle cx="47" cy="169.09" r="2.3" fill="#f5ae6e"/>
<circle cx="142.75" cy="105.12" r="2.3" fill="#5fa4d3"/>
<circle cx="116.77" cy="86.64" r="2.3" fill="#a6cfea"/>
<circle cx="143.34" cy="158.43" r="2.3" fill="#c9a3c4"/>
<circle cx="131.85" cy="230.15" r="2.3" fill="#efd77a"/>
<circle cx="254.07" cy="250.39" r="2.3" fill="#c9a3c4"/>
<circle cx="224.7" cy="151.98" r="2.3" fill="#e8915a"/>
<circle cx="253.36" cy="137.15" r="2.3" fill="#c9a3c4"/>
<circle cx="156.77" cy="240.61" r="2.3" fill="#5cae98"/>
<circle cx="2.49" cy="112.19" r="2.3" fill="#ec6a40"/>
<circle cx="160.93" cy="240.96" r="2.3" fill="#c9a3c4"/>
<circle cx="201.22" cy="178.85" r="2.3" fill="#c9a3c4"/>
<circle cx="131.06" cy="209.05" r="2.3" fill="#c9a3c4"/>
<circle cx="213.18" cy="157.3" r="2.3" fill="#5fa4d3"/>
<circle cx="246.73" cy="259.35" r="2.3" fill="#e8915a"/>
<circle cx="126.67" cy="144.17" r="2.3" fill="#ec6a40"/>
<circle cx="161.41" cy="112.11" r="2.3" fill="#5cae98"/>
<circle cx="171.02" cy="148.67" r="2.3" fill="#c9a3c4"/>
<circle cx="191.88" cy="61.86" r="2.3" fill="#c9a3c4"/>
<circle cx="41.54" cy="144.95" r="2.3" fill="#a6cfea"/>
<circle cx="173.62" cy="156.17" r="2.3" fill="#c9a3c4"/>
<circle cx="223.87" cy="191.77" r="2.3" fill="#e4dd9a"/>
<circle cx="115.03" cy="227.01" r="2.3" fill="#5fa4d3"/>
<circle cx="136.42" cy="214.99" r="2.3" fill="#e8915a"/>
<circle cx="199.63" cy="164.2" r="2.3" fill="#5fa4d3"/>
<circle cx="314.56" cy="188.05" r="2.3" fill="#9a9a5e"/>
<circle cx="101.58" cy="207.34" r="2.3" fill="#f5901e"/>
<circle cx="223.88" cy="270.61" r="2.3" fill="#c9a3c4"/>
<circle cx="119.81" cy="190.56" r="2.3" fill="#e4dd9a"/>
<circle cx="224.31" cy="196.44" r="2.3" fill="#5cae98"/>
<circle cx="33.47" cy="163.26" r="2.3" fill="#a3532e"/>
<circle cx="155.45" cy="230.75" r="2.3" fill="#c9a3c4"/>
<circle cx="231.82" cy="121.42" r="2.3" fill="#a6cfea"/>
<circle cx="274.16" cy="141.47" r="2.3" fill="#5fa4d3"/>
<circle cx="129.29" cy="56.14" r="2.3" fill="#c9a3c4"/>
<circle cx="133.07" cy="62.4" r="2.3" fill="#c9a3c4"/>
<circle cx="249.21" cy="197.23" r="2.3" fill="#c9a3c4"/>
<circle cx="178.4" cy="147.5" r="2.3" fill="#e8915a"/>
<circle cx="227.88" cy="259.16" r="2.3" fill="#9a9a5e"/>
<circle cx="21.22" cy="141.73" r="2.3" fill="#f5ae6e"/>
<circle cx="35.96" cy="151.44" r="2.3" fill="#e8915a"/>
<circle cx="272.69" cy="139.46" r="2.3" fill="#a6cfea"/>
<circle cx="161.97" cy="84.95" r="2.3" fill="#e8915a"/>
<circle cx="181.54" cy="240.07" r="2.3" fill="#f5901e"/>
<circle cx="37.06" cy="103.97" r="2.3" fill="#e4dd9a"/>
<circle cx="256.91" cy="190.56" r="2.3" fill="#5fa4d3"/>
<circle cx="192.97" cy="276.81" r="2.3" fill="#e8915a"/>
<circle cx="28.47" cy="138.79" r="2.3" fill="#f5ae6e"/>
<circle cx="178.43" cy="123.4" r="2.3" fill="#a5d88a"/>
<circle cx="163.93" cy="94.48" r="2.3" fill="#c9a3c4"/>
<circle cx="312.03" cy="195.81" r="2.3" fill="#a6cfea"/>
<circle cx="209.17" cy="99.09" r="2.3" fill="#c9a3c4"/>
<circle cx="97.22" cy="83.54" r="2.3" fill="#3a88ae"/>
<circle cx="249.04" cy="219.19" r="2.3" fill="#e8915a"/>
<circle cx="251.24" cy="82.82" r="2.3" fill="#efd77a"/>
<circle cx="108.09" cy="61.03" r="2.3" fill="#a6cfea"/>
<circle cx="140.46" cy="191.56" r="2.3" fill="#5fa4d3"/>
<circle cx="241.98" cy="257.52" r="2.3" fill="#f5901e"/>
<circle cx="122.19" cy="114.39" r="2.3" fill="#5fa4d3"/>
<circle cx="273.99" cy="220.78" r="2.3" fill="#efd77a"/>
<circle cx="168.28" cy="139.92" r="2.3" fill="#5cae98"/>
<circle cx="179.69" cy="186.4" r="2.3" fill="#a3532e"/>
<circle cx="196.23" cy="156.74" r="2.3" fill="#c9a3c4"/>
<circle cx="310.96" cy="172.9" r="2.3" fill="#3a88ae"/>
<circle cx="161.28" cy="69.27" r="2.3" fill="#a6cfea"/>
<circle cx="281.38" cy="130.23" r="2.3" fill="#e8915a"/>
<circle cx="229.7" cy="277.38" r="2.3" fill="#c9a3c4"/>
<circle cx="244.57" cy="184.79" r="2.3" fill="#5fa4d3"/>
<circle cx="189.04" cy="89.23" r="2.3" fill="#3a88ae"/>
<circle cx="224.56" cy="84.26" r="2.3" fill="#c9a3c4"/>
<circle cx="37.93" cy="109.75" r="2.3" fill="#c9a3c4"/>
<circle cx="89.3" cy="101.65" r="2.3" fill="#9a9a5e"/>
<circle cx="95.55" cy="109.79" r="2.3" fill="#a6cfea"/>
<circle cx="216.11" cy="264.32" r="2.3" fill="#e8915a"/>
<circle cx="195.57" cy="119.97" r="2.3" fill="#f5901e"/>
<circle cx="160.97" cy="126.52" r="2.3" fill="#e8915a"/>
<circle cx="296.46" cy="154.54" r="2.3" fill="#a08a97"/>
<circle cx="92.61" cy="105.37" r="2.3" fill="#f5ae6e"/>
<circle cx="233.31" cy="261.3" r="2.3" fill="#9a9a5e"/>
<circle cx="272.31" cy="154.32" r="2.3" fill="#c9a3c4"/>
<circle cx="254.29" cy="134.09" r="2.3" fill="#c9a3c4"/>
<circle cx="154.48" cy="81.53" r="2.3" fill="#3a88ae"/>
<circle cx="100.13" cy="123.58" r="2.3" fill="#5fa4d3"/>
<circle cx="133.59" cy="85.79" r="2.3" fill="#c9a3c4"/>
<circle cx="160.82" cy="269.6" r="2.3" fill="#e8915a"/>
<circle cx="246.25" cy="194.73" r="2.3" fill="#9a9a5e"/>
<circle cx="60.73" cy="140.26" r="2.3" fill="#c9a3c4"/>
<circle cx="150.98" cy="142.6" r="2.3" fill="#efd77a"/>
<circle cx="246.23" cy="233.65" r="2.3" fill="#a3532e"/>
<circle cx="181.51" cy="170.74" r="2.3" fill="#c9a3c4"/>
<circle cx="232.65" cy="214.89" r="2.3" fill="#c9a3c4"/>
<circle cx="86.73" cy="112.04" r="2.3" fill="#9a9a5e"/>
<circle cx="159.96" cy="95.79" r="2.3" fill="#c9a3c4"/>
<circle cx="211.38" cy="262.31" r="2.3" fill="#c9a3c4"/>
<circle cx="131.39" cy="124.94" r="2.3" fill="#9a9a5e"/>
<circle cx="170.36" cy="209.99" r="2.3" fill="#3a88ae"/>
<circle cx="111.95" cy="144.28" r="2.3" fill="#e8915a"/>
<circle cx="8.75" cy="153.38" r="2.3" fill="#e8915a"/>
<circle cx="38.03" cy="116.81" r="2.3" fill="#c9a3c4"/>
<circle cx="234.54" cy="106.29" r="2.3" fill="#5fa4d3"/>
<circle cx="84.37" cy="101.53" r="2.3" fill="#5fa4d3"/>
<circle cx="215.86" cy="224.8" r="2.3" fill="#e8915a"/>
<circle cx="137.56" cy="270.85" r="2.3" fill="#c9a3c4"/>
<circle cx="256.06" cy="211.22" r="2.3" fill="#9a9a5e"/>
<circle cx="31.6" cy="107.67" r="2.3" fill="#3b9f3b"/>
<circle cx="133.29" cy="203.18" r="2.3" fill="#a6cfea"/>
<circle cx="194.73" cy="109.41" r="2.3" fill="#a08a97"/>
<circle cx="223.66" cy="88.82" r="2.3" fill="#5fa4d3"/>
<circle cx="186.04" cy="149.01" r="2.3" fill="#5cae98"/>
<circle cx="14.95" cy="150.47" r="2.3" fill="#c9a3c4"/>
<circle cx="131.23" cy="82.8" r="2.3" fill="#5fa4d3"/>
<circle cx="155.32" cy="150.78" r="2.3" fill="#5fa4d3"/>
<circle cx="157.1" cy="110.42" r="2.3" fill="#9a9a5e"/>
<circle cx="142.98" cy="262.17" r="2.3" fill="#68bd58"/>
<circle cx="30.63" cy="141.98" r="2.3" fill="#c9a3c4"/>
<circle cx="227.24" cy="144.06" r="2.3" fill="#9a9a5e"/>
<circle cx="277.94" cy="185.12" r="2.3" fill="#e8915a"/>
<circle cx="164.92" cy="233.34" r="2.3" fill="#5fa4d3"/>
<circle cx="135.1" cy="98.69" r="2.3" fill="#9a9a5e"/>
<circle cx="63.07" cy="71.22" r="2.3" fill="#5cae98"/>
<circle cx="43.24" cy="131.09" r="2.3" fill="#e8915a"/>
<circle cx="201.94" cy="70.61" r="2.3" fill="#f7a74e"/>
<circle cx="181.9" cy="119.16" r="2.3" fill="#e8915a"/>
<circle cx="211.19" cy="276.78" r="2.3" fill="#c9a3c4"/>
<circle cx="192.85" cy="138.52" r="2.3" fill="#c9a3c4"/>
<circle cx="155.23" cy="182.28" r="2.3" fill="#5fa4d3"/>
<circle cx="36.54" cy="79.54" r="2.3" fill="#9a9a5e"/>
<circle cx="112.5" cy="171.45" r="2.3" fill="#a6cfea"/>
<circle cx="250.13" cy="200.76" r="2.3" fill="#eda0a0"/>
<circle cx="255.4" cy="224.23" r="2.3" fill="#e4dd9a"/>
<circle cx="99.91" cy="202.2" r="2.3" fill="#e8915a"/>
<circle cx="201.14" cy="100.25" r="2.3" fill="#9a9a5e"/>
<circle cx="102.68" cy="104.57" r="2.3" fill="#a6cfea"/>
<circle cx="85.85" cy="151.65" r="2.3" fill="#c9a3c4"/>
<circle cx="250.31" cy="232.96" r="2.3" fill="#9a9a5e"/>
<circle cx="220.02" cy="181.32" r="2.3" fill="#e8915a"/>
<circle cx="214.95" cy="280.05" r="2.3" fill="#9a9a5e"/>
<circle cx="191.66" cy="230.9" r="2.3" fill="#a08a97"/>
<circle cx="228.27" cy="147.39" r="2.3" fill="#69399a"/>
<circle cx="165.16" cy="107.41" r="2.3" fill="#3a88c6"/>
<circle cx="201.07" cy="205.57" r="2.3" fill="#5fa4d3"/>
<circle cx="128.83" cy="149.74" r="2.3" fill="#a6cfea"/>
<circle cx="206.95" cy="143.55" r="2.3" fill="#f5901e"/>
<circle cx="245.12" cy="196.93" r="2.3" fill="#5cae98"/>
<circle cx="194.81" cy="99.95" r="2.3" fill="#5fa4d3"/>
<circle cx="184.59" cy="262.53" r="2.3" fill="#c9a3c4"/>
<circle cx="205.96" cy="277.04" r="2.3" fill="#9a9a5e"/>
<circle cx="110.18" cy="204.44" r="2.3" fill="#c9a3c4"/>
<circle cx="243.88" cy="209.79" r="2.3" fill="#c9a3c4"/>
<circle cx="217.83" cy="102.5" r="2.3" fill="#5fa4d3"/>
<circle cx="241.19" cy="203.72" r="2.3" fill="#f5ae6e"/>
<circle cx="218.88" cy="284.83" r="2.3" fill="#3a88ae"/>
<circle cx="198.35" cy="250.85" r="2.3" fill="#c9a3c4"/>
<circle cx="131.38" cy="232.54" r="2.3" fill="#f5901e"/>
<circle cx="98.85" cy="119.41" r="2.3" fill="#f57f1c"/>
<circle cx="300.23" cy="132.89" r="2.3" fill="#c9a3c4"/>
<circle cx="295.58" cy="164.67" r="2.3" fill="#9a9a5e"/>
<circle cx="284.45" cy="157.28" r="2.3" fill="#e8915a"/>
<circle cx="288.4" cy="206.71" r="2.3" fill="#9a9a5e"/>
<circle cx="194.83" cy="131.19" r="2.3" fill="#a6cfea"/>
<circle cx="185.72" cy="85.82" r="2.3" fill="#5cae98"/>
<circle cx="282.31" cy="193.29" r="2.3" fill="#e8915a"/>
<circle cx="101.85" cy="198.48" r="2.3" fill="#5fa4d3"/>
<circle cx="147.1" cy="85.68" r="2.3" fill="#5fa4d3"/>
<circle cx="201.84" cy="134.18" r="2.3" fill="#9a9a5e"/>
<circle cx="202.28" cy="195.42" r="2.3" fill="#c9a3c4"/>
<circle cx="211.63" cy="290.89" r="2.3" fill="#a6cfea"/>
<circle cx="178.99" cy="242.83" r="2.3" fill="#c9a3c4"/>
<circle cx="320.73" cy="174.97" r="2.3" fill="#5fa4d3"/>
<circle cx="123.18" cy="206.83" r="2.3" fill="#c9a3c4"/>
<circle cx="138.26" cy="225.65" r="2.3" fill="#5cae98"/>
<circle cx="233.01" cy="256.86" r="2.3" fill="#f7a74e"/>
<circle cx="128.42" cy="85.97" r="2.3" fill="#a6cfea"/>
<circle cx="129.28" cy="215.75" r="2.3" fill="#c9a3c4"/>
<circle cx="182.14" cy="199.14" r="2.3" fill="#c9a3c4"/>
<circle cx="179.4" cy="210.07" r="2.3" fill="#5cae98"/>
<circle cx="175.5" cy="200.12" r="2.3" fill="#e8915a"/>
<circle cx="216.34" cy="205.78" r="2.3" fill="#a3532e"/>
<circle cx="168.46" cy="71.93" r="2.3" fill="#5fa4d3"/>
<circle cx="249.02" cy="92.59" r="2.3" fill="#5fa4d3"/>
<circle cx="190.27" cy="157.77" r="2.3" fill="#c9a3c4"/>
<circle cx="135.54" cy="245.54" r="2.3" fill="#a6cfea"/>
<circle cx="94.61" cy="83.82" r="2.3" fill="#5cae98"/>
<circle cx="202.56" cy="147.42" r="2.3" fill="#efd77a"/>
<circle cx="28.63" cy="146.09" r="2.3" fill="#5fa4d3"/>
<circle cx="139.75" cy="175.49" r="2.3" fill="#e8915a"/>
<circle cx="277.48" cy="188.6" r="2.3" fill="#a6cfea"/>
<circle cx="190.55" cy="120" r="2.3" fill="#e8915a"/>
<circle cx="232.92" cy="82.28" r="2.3" fill="#9a9a5e"/>
<circle cx="140.8" cy="130.52" r="2.3" fill="#c9a3c4"/>
<circle cx="166.23" cy="125.41" r="2.3" fill="#c9a3c4"/>
<circle cx="145.04" cy="203.11" r="2.3" fill="#a08a97"/>
<circle cx="115.87" cy="149.18" r="2.3" fill="#f5ae6e"/>
<circle cx="147.08" cy="245.09" r="2.3" fill="#9a9a5e"/>
<circle cx="274.42" cy="203.11" r="2.3" fill="#efd77a"/>
<circle cx="303.7" cy="198.37" r="2.3" fill="#e8915a"/>
<circle cx="225.03" cy="267.89" r="2.3" fill="#e8915a"/>
<circle cx="147.99" cy="256.38" r="2.3" fill="#9a9a5e"/>
<circle cx="118.75" cy="127.75" r="2.3" fill="#e8915a"/>
<circle cx="168.83" cy="114.17" r="2.3" fill="#e8915a"/>
<circle cx="312.53" cy="169.56" r="2.3" fill="#c9a3c4"/>
<circle cx="308.28" cy="144.49" r="2.3" fill="#e8915a"/>
<circle cx="103.54" cy="89.51" r="2.3" fill="#e8915a"/>
<circle cx="146.55" cy="219.48" r="2.3" fill="#c9a3c4"/>
<circle cx="208.15" cy="71.76" r="2.3" fill="#a08a97"/>
<circle cx="82.46" cy="113.63" r="2.3" fill="#c9a3c4"/>
<circle cx="105.7" cy="167.63" r="2.3" fill="#9a9a5e"/>
<circle cx="298.67" cy="162" r="2.3" fill="#c9a3c4"/>
<circle cx="200.33" cy="190.44" r="2.3" fill="#9a9a5e"/>
<circle cx="296.35" cy="180" r="2.3" fill="#c9a3c4"/>
<circle cx="73.67" cy="142.95" r="2.3" fill="#c9a3c4"/>
<circle cx="129.87" cy="144.08" r="2.3" fill="#c9a3c4"/>
<circle cx="207.47" cy="256.37" r="2.3" fill="#c9a3c4"/>
<circle cx="155.38" cy="169.01" r="2.3" fill="#9a9a5e"/>
<circle cx="220.57" cy="78.69" r="2.3" fill="#5fa4d3"/>
<circle cx="220.82" cy="94.75" r="2.3" fill="#9a9a5e"/>
<circle cx="169.37" cy="185.1" r="2.3" fill="#5fa4d3"/>
<circle cx="227.2" cy="105.22" r="2.3" fill="#e8915a"/>
<circle cx="254.3" cy="181.23" r="2.3" fill="#e8915a"/>
<circle cx="198.11" cy="245.29" r="2.3" fill="#e4dd9a"/>
<circle cx="55.91" cy="132.95" r="2.3" fill="#f5ae6e"/>
<circle cx="137.35" cy="177.84" r="2.3" fill="#c9a3c4"/>
<circle cx="74.28" cy="116.34" r="2.3" fill="#e4dd9a"/>
<circle cx="68.18" cy="161.94" r="2.3" fill="#f5901e"/>
<circle cx="223.35" cy="162.06" r="2.3" fill="#9a9a5e"/>
<circle cx="180.99" cy="275.36" r="2.3" fill="#e8915a"/>
<circle cx="162.18" cy="81.12" r="2.3" fill="#a6cfea"/>
<circle cx="261.21" cy="176.88" r="2.3" fill="#c9a3c4"/>
<circle cx="216.18" cy="137.66" r="2.3" fill="#c9a3c4"/>
<circle cx="268.96" cy="139.82" r="2.3" fill="#5fa4d3"/>
<circle cx="168.79" cy="182.47" r="2.3" fill="#e8915a"/>
<circle cx="56.33" cy="70.79" r="2.3" fill="#e8915a"/>
<circle cx="111.24" cy="175.84" r="2.3" fill="#c9a3c4"/>
<circle cx="161.31" cy="179.7" r="2.3" fill="#f5ae6e"/>
<circle cx="179.53" cy="256.52" r="2.3" fill="#c9a3c4"/>
<circle cx="140.5" cy="207.79" r="2.3" fill="#c9a3c4"/>
<circle cx="202.11" cy="108.88" r="2.3" fill="#c9a3c4"/>
<circle cx="179.04" cy="87.6" r="2.3" fill="#9a9a5e"/>
<circle cx="214.08" cy="90.54" r="2.3" fill="#3b9f3b"/>
<circle cx="243.18" cy="70.62" r="2.3" fill="#c9a3c4"/>
<circle cx="289.97" cy="187.36" r="2.3" fill="#5fa4d3"/>
<circle cx="147.64" cy="127.66" r="2.3" fill="#efd77a"/>
<circle cx="129.26" cy="259.62" r="2.3" fill="#f5901e"/>
<circle cx="190.8" cy="262.02" r="2.3" fill="#9a9a5e"/>
<circle cx="310.14" cy="178.14" r="2.3" fill="#5fa4d3"/>
<circle cx="114.74" cy="119.83" r="2.3" fill="#c9a3c4"/>
<circle cx="231.69" cy="217.39" r="2.3" fill="#e4dd9a"/>
<circle cx="244.78" cy="74.65" r="2.3" fill="#9a9a5e"/>
<circle cx="240.82" cy="217.27" r="2.3" fill="#e8915a"/>
<circle cx="53.91" cy="145.31" r="2.3" fill="#c9a3c4"/>
<circle cx="22.78" cy="134.55" r="2.3" fill="#c9a3c4"/>
<circle cx="208.05" cy="80.76" r="2.3" fill="#5fa4d3"/>
<circle cx="92.21" cy="165.93" r="2.3" fill="#3b9f3b"/>
<circle cx="245.42" cy="211.93" r="2.3" fill="#5fa4d3"/>
<circle cx="264.53" cy="152.81" r="2.3" fill="#f5901e"/>
<circle cx="111" cy="29.8" r="2.3" fill="#e8905a"/>
<circle cx="280" cy="107" r="2.3" fill="#e8905a"/>
<circle cx="331.8" cy="191.1" r="2.3" fill="#5ba6d8"/>
<circle cx="326" cy="191.8" r="2.3" fill="#5ba6d8"/>
<circle cx="238.9" cy="302.5" r="2.3" fill="#5ba6d8"/>
<circle cx="183.8" cy="336.8" r="2.3" fill="#e8905a"/>
<circle cx="202.5" cy="371.4" r="2.3" fill="#d2a5c7"/>
<circle cx="112.6" cy="264" r="2.3" fill="#5ba6d8"/>
<circle cx="172.8" cy="290.4" r="2.3" fill="#9a9a5e"/>
<circle cx="4" cy="111" r="2.3" fill="#a6cfea"/>
</g>
<text x="36.8" y="213.8" font-size="7.2" text-anchor="middle" fill="#222" textLength="22" lengthAdjust="spacingAndGlyphs">Phylum</text>
<circle cx="5" cy="221.3" r="3" fill="#c9a3c4"/>
<text x="11.5" y="223.6" font-size="6.6" fill="#222" font-style="italic">Proteobacteria</text>
<circle cx="5" cy="228.95" r="3" fill="#5fa4d3"/>
<text x="11.5" y="231.25" font-size="6.6" fill="#222" font-style="italic">Actinobacteria</text>
<circle cx="5" cy="236.6" r="3" fill="#ee5f6e"/>
<text x="11.5" y="238.9" font-size="6.6" fill="#222" font-style="italic">Elusimicrobia</text>
<circle cx="5" cy="244.25" r="3" fill="#9a9a5e"/>
<text x="11.5" y="246.55" font-size="6.6" fill="#222" font-style="italic">Chloroflexi</text>
<circle cx="5" cy="251.9" r="3" fill="#efd77a"/>
<text x="11.5" y="254.2" font-size="6.6" fill="#222" font-style="italic">WPS–2</text>
<circle cx="5" cy="259.55" r="3" fill="#3b9f3b"/>
<text x="11.5" y="261.85" font-size="6.6" fill="#222" font-style="italic">Chlorobi</text>
<circle cx="5" cy="267.2" r="3" fill="#e8915a"/>
<text x="11.5" y="269.5" font-size="6.6" fill="#222" font-style="italic">Planctomycetes</text>
<circle cx="5" cy="274.85" r="3" fill="#5cae98"/>
<text x="11.5" y="277.15" font-size="6.6" fill="#222" font-style="italic">Bacteroidetes</text>
<circle cx="5" cy="282.5" r="3" fill="#e4dd9a"/>
<text x="11.5" y="284.8" font-size="6.6" fill="#222" font-style="italic">Verrucomicrobia</text>
<circle cx="5" cy="290.15" r="3" fill="#a3532e"/>
<text x="11.5" y="292.45" font-size="6.6" fill="#222" font-style="italic">WS3</text>
<circle cx="5" cy="297.8" r="3" fill="#a6cfea"/>
<text x="11.5" y="300.1" font-size="6.6" fill="#222" font-style="italic">Acidobacteria</text>
<circle cx="5" cy="305.45" r="3" fill="#f5901e"/>
<text x="11.5" y="307.75" font-size="6.6" fill="#222" font-style="italic">Gemmatimonadetes</text>
<circle cx="5" cy="313.1" r="3" fill="#f57f1c"/>
<text x="11.5" y="315.4" font-size="6.6" fill="#222" font-style="italic">Nitrospirae</text>
<circle cx="5" cy="320.75" r="3" fill="#3a88c6"/>
<text x="11.5" y="323.05" font-size="6.6" fill="#222" font-style="italic">AD3</text>
<circle cx="5" cy="328.4" r="3" fill="#3a88ae"/>
<text x="11.5" y="330.7" font-size="6.6" fill="#222" font-style="italic">Armatimonadetes</text>
<circle cx="5" cy="336.05" r="3" fill="#a08a97"/>
<text x="11.5" y="338.35" font-size="6.6" fill="#222" font-style="italic">Unknown</text>
<circle cx="5" cy="343.7" r="3" fill="#f5ae6e"/>
<text x="11.5" y="346" font-size="6.6" fill="#222" font-style="italic">Firmicutes</text>
<circle cx="5" cy="351.35" r="3" fill="#eda0a0"/>
<text x="11.5" y="353.65" font-size="6.6" fill="#222" font-style="italic">Cyanobacteria</text>
<circle cx="5" cy="359" r="3" fill="#8a58b6"/>
<text x="11.5" y="361.3" font-size="6.6" fill="#222" font-style="italic">TM6</text>
<circle cx="5" cy="366.65" r="3" fill="#68bd58"/>
<text x="11.5" y="368.95" font-size="6.6" fill="#222" font-style="italic">BRC1</text>
<circle cx="90.8" cy="305.45" r="3" fill="#a5d88a"/>
<text x="97.2" y="307.75" font-size="6.6" fill="#222" font-style="italic">BHI80–139</text>
<circle cx="90.8" cy="313.1" r="3" fill="#69399a"/>
<text x="97.2" y="315.4" font-size="6.6" fill="#222" font-style="italic">TM7</text>
<circle cx="90.8" cy="320.75" r="3" fill="#ec6a40"/>
<text x="97.2" y="323.05" font-size="6.6" fill="#222" font-style="italic">Fibrobacteres</text>
<circle cx="90.8" cy="328.4" r="3" fill="#49a949"/>
<text x="97.2" y="330.7" font-size="6.6" fill="#222" font-style="italic">Chlamydiae</text>
<circle cx="90.8" cy="336.05" r="3" fill="#b08fd0"/>
<text x="97.2" y="338.35" font-size="6.6" fill="#222" font-style="italic">Thermi</text>
<circle cx="90.8" cy="343.7" r="3" fill="#df2020"/>
<text x="97.2" y="346" font-size="6.6" fill="#222" font-style="italic">FCPU426</text>
<circle cx="90.8" cy="351.35" r="3" fill="#df3040"/>
<text x="97.2" y="353.65" font-size="6.6" fill="#222" font-style="italic">FBP</text>
<circle cx="90.8" cy="359" r="3" fill="#f7a74e"/>
<text x="97.2" y="361.3" font-size="6.6" fill="#222" font-style="italic">GAL15</text>
<circle cx="90.8" cy="366.65" r="3" fill="#c68f4a"/>
<text x="97.2" y="368.95" font-size="6.6" fill="#222" font-style="italic">WS2</text>
<text x="310" y="336.8" font-size="7.6" text-anchor="middle" fill="#222" textLength="17.5" lengthAdjust="spacingAndGlyphs">Edge</text>
<text x="296.4" y="350" font-size="7.2" fill="#222" textLength="26.3" lengthAdjust="spacingAndGlyphs">Positive</text>
<text x="296.4" y="365.7" font-size="7.2" fill="#222" textLength="30.3" lengthAdjust="spacingAndGlyphs">Negative</text>
<line x1="276.4" y1="354.3" x2="287.7" y2="354.3" stroke="#f8cdb0" stroke-width="1.2"/>
<line x1="276.4" y1="363.0" x2="287.7" y2="363.0" stroke="#c8d9e4" stroke-width="1.2"/>
<text x="-0.6" y="10.75" font-size="14" fill="#000" font-weight="bold">a</text>
<text x="40" y="17" font-size="10.25" fill="#1a1a1a" textLength="152" lengthAdjust="spacingAndGlyphs">Co-occurence network (all OTUs)</text>
<text x="224.6" y="16.8" font-size="10.11" fill="#1a1a1a" textLength="116.28" lengthAdjust="spacingAndGlyphs">Edge weights (all OTUs)</text>
<circle cx="298.9" cy="69.3" r="31.3" fill="#efc010"/>
<path d="M298.9 69.3L298.9 38A31.3 31.3 0 0 1 320.89 47.03Z" fill="#f6e3a6"/>
<text x="309.2" y="50.6" font-size="6.08" text-anchor="middle" fill="#222" textLength="18.58" lengthAdjust="spacingAndGlyphs">12.4%</text>
<text x="294.5" y="88.4" font-size="6.08" text-anchor="middle" fill="#222" textLength="18.58" lengthAdjust="spacingAndGlyphs">87.6%</text>
<text x="310.7" y="34.6" font-size="7" fill="#222" textLength="30.2" lengthAdjust="spacingAndGlyphs">Negative</text>
<text x="287.5" y="112.5" font-size="7" fill="#222" textLength="25.94" lengthAdjust="spacingAndGlyphs">Positive</text>
<text x="351.6" y="9.75" font-size="14" fill="#000" font-weight="bold">b</text>
<text x="383.8" y="12.6" font-size="10.25" fill="#1a1a1a" textLength="399.2" lengthAdjust="spacingAndGlyphs">Node degree, betweenness, and closeness centrality of the network (all OTUs) for phyla</text>
<rect x="413.6" y="23" width="79.8" height="159.3" fill="none" stroke="#4d4d4d" stroke-width="0.9"/>
<line x1="411.4" y1="26.3" x2="413.6" y2="26.3" stroke="#4d4d4d" stroke-width="0.7" />
<text x="410.4" y="28.2" font-size="5.41" text-anchor="end" fill="#333333" textLength="21.5" lengthAdjust="spacingAndGlyphs">Chlorobi</text>
<line x1="450.8" y1="26.3" x2="490.4" y2="26.3" stroke="#ee9a60" stroke-width="1" />
<line x1="450.8" y1="25.2" x2="450.8" y2="27.4" stroke="#ee9a60" stroke-width="0.8" />
<line x1="490.4" y1="25.2" x2="490.4" y2="27.4" stroke="#ee9a60" stroke-width="0.8" />
<circle cx="467.7" cy="26.3" r="2.25" fill="#e5782f"/>
<line x1="411.4" y1="31.79" x2="413.6" y2="31.79" stroke="#4d4d4d" stroke-width="0.7" />
<text x="410.4" y="33.69" font-size="5.41" text-anchor="end" fill="#333333" textLength="35.08" lengthAdjust="spacingAndGlyphs">Fibrobacteres</text>
<line x1="452.2" y1="31.79" x2="469.8" y2="31.79" stroke="#ee9a60" stroke-width="1" />
<line x1="452.2" y1="30.69" x2="452.2" y2="32.89" stroke="#ee9a60" stroke-width="0.8" />
<line x1="469.8" y1="30.69" x2="469.8" y2="32.89" stroke="#ee9a60" stroke-width="0.8" />
<circle cx="461.7" cy="31.79" r="2.25" fill="#e5782f"/>
<line x1="411.4" y1="37.29" x2="413.6" y2="37.29" stroke="#4d4d4d" stroke-width="0.7" />
<text x="410.4" y="39.19" font-size="5.41" text-anchor="end" fill="#333333" textLength="11.75" lengthAdjust="spacingAndGlyphs">WS3</text>
<line x1="450.5" y1="37.29" x2="461.3" y2="37.29" stroke="#ee9a60" stroke-width="1" />
<line x1="450.5" y1="36.19" x2="450.5" y2="38.39" stroke="#ee9a60" stroke-width="0.8" />
<line x1="461.3" y1="36.19" x2="461.3" y2="38.39" stroke="#ee9a60" stroke-width="0.8" />
<circle cx="456.1" cy="37.29" r="2.25" fill="#e5782f"/>
<line x1="411.4" y1="42.78" x2="413.6" y2="42.78" stroke="#4d4d4d" stroke-width="0.7" />
<text x="410.4" y="44.68" font-size="5.41" text-anchor="end" fill="#333333" textLength="13.86" lengthAdjust="spacingAndGlyphs">BRC1</text>
<line x1="445.2" y1="42.78" x2="464.8" y2="42.78" stroke="#ee9a60" stroke-width="1" />
<line x1="445.2" y1="41.68" x2="445.2" y2="43.88" stroke="#ee9a60" stroke-width="0.8" />
<line x1="464.8" y1="41.68" x2="464.8" y2="43.88" stroke="#ee9a60" stroke-width="0.8" />
<circle cx="455.4" cy="42.78" r="2.25" fill="#e5782f"/>
<line x1="411.4" y1="48.27" x2="413.6" y2="48.27" stroke="#4d4d4d" stroke-width="0.7" />
<text x="410.4" y="50.17" font-size="5.41" text-anchor="end" fill="#333333" textLength="18.23" lengthAdjust="spacingAndGlyphs">Thermi</text>
<line x1="432.2" y1="48.27" x2="470.7" y2="48.27" stroke="#ee9a60" stroke-width="1" />
<line x1="432.2" y1="47.17" x2="432.2" y2="49.37" stroke="#ee9a60" stroke-width="0.8" />
<line x1="470.7" y1="47.17" x2="470.7" y2="49.37" stroke="#ee9a60" stroke-width="0.8" />
<circle cx="451.5" cy="48.27" r="2.25" fill="#e5782f"/>
<line x1="411.4" y1="53.76" x2="413.6" y2="53.76" stroke="#4d4d4d" stroke-width="0.7" />
<text x="410.4" y="55.66" font-size="5.41" text-anchor="end" fill="#333333" textLength="34.69" lengthAdjust="spacingAndGlyphs">Elusimicrobia</text>
<line x1="441.6" y1="53.76" x2="456.4" y2="53.76" stroke="#ee9a60" stroke-width="1" />
<line x1="441.6" y1="52.66" x2="441.6" y2="54.86" stroke="#ee9a60" stroke-width="0.8" />
<line x1="456.4" y1="52.66" x2="456.4" y2="54.86" stroke="#ee9a60" stroke-width="0.8" />
<circle cx="450.8" cy="53.76" r="2.25" fill="#e5782f"/>
<line x1="411.4" y1="59.26" x2="413.6" y2="59.26" stroke="#4d4d4d" stroke-width="0.7" />
<text x="410.4" y="61.16" font-size="5.41" text-anchor="end" fill="#333333" textLength="10.97" lengthAdjust="spacingAndGlyphs">TM6</text>
<line x1="441.2" y1="59.26" x2="460.6" y2="59.26" stroke="#ee9a60" stroke-width="1" />
<line x1="441.2" y1="58.16" x2="441.2" y2="60.36" stroke="#ee9a60" stroke-width="0.8" />
<line x1="460.6" y1="58.16" x2="460.6" y2="60.36" stroke="#ee9a60" stroke-width="0.8" />
<circle cx="450.1" cy="59.26" r="2.25" fill="#e5782f"/>
<line x1="411.4" y1="64.75" x2="413.6" y2="64.75" stroke="#4d4d4d" stroke-width="0.7" />
<text x="410.4" y="66.65" font-size="5.41" text-anchor="end" fill="#333333" textLength="41.29" lengthAdjust="spacingAndGlyphs">Planctomycetes</text>
<circle cx="450.1" cy="64.75" r="2.25" fill="#e5782f"/>
<line x1="411.4" y1="70.24" x2="413.6" y2="70.24" stroke="#4d4d4d" stroke-width="0.7" />
<text x="410.4" y="72.14" font-size="5.41" text-anchor="end" fill="#333333" textLength="11.75" lengthAdjust="spacingAndGlyphs">WS2</text>
<line x1="447.3" y1="70.24" x2="452.9" y2="70.24" stroke="#ee9a60" stroke-width="1" />
<line x1="447.3" y1="69.14" x2="447.3" y2="71.34" stroke="#ee9a60" stroke-width="0.8" />
<line x1="452.9" y1="69.14" x2="452.9" y2="71.34" stroke="#ee9a60" stroke-width="0.8" />
<circle cx="449.8" cy="70.24" r="2.25" fill="#e5782f"/>
<line x1="411.4" y1="75.74" x2="413.6" y2="75.74" stroke="#4d4d4d" stroke-width="0.7" />
<text x="410.4" y="77.64" font-size="5.41" text-anchor="end" fill="#333333" textLength="27.66" lengthAdjust="spacingAndGlyphs">Chloroflexi</text>
<circle cx="449.6" cy="75.74" r="2.25" fill="#e5782f"/>
<line x1="411.4" y1="81.23" x2="413.6" y2="81.23" stroke="#4d4d4d" stroke-width="0.7" />
<text x="410.4" y="83.13" font-size="5.41" text-anchor="end" fill="#333333" textLength="46.52" lengthAdjust="spacingAndGlyphs">Armatimonadetes</text>
<line x1="443.3" y1="81.23" x2="453.9" y2="81.23" stroke="#ee9a60" stroke-width="1" />
<line x1="443.3" y1="80.13" x2="443.3" y2="82.33" stroke="#ee9a60" stroke-width="0.8" />
<line x1="453.9" y1="80.13" x2="453.9" y2="82.33" stroke="#ee9a60" stroke-width="0.8" />
<circle cx="448.2" cy="81.23" r="2.25" fill="#e5782f"/>
<line x1="411.4" y1="86.72" x2="413.6" y2="86.72" stroke="#4d4d4d" stroke-width="0.7" />
<text x="410.4" y="88.62" font-size="5.41" text-anchor="end" fill="#333333" textLength="17.1" lengthAdjust="spacingAndGlyphs">GAL15</text>
<line x1="443.3" y1="86.72" x2="452.9" y2="86.72" stroke="#ee9a60" stroke-width="1" />
<line x1="443.3" y1="85.62" x2="443.3" y2="87.82" stroke="#ee9a60" stroke-width="0.8" />
<line x1="452.9" y1="85.62" x2="452.9" y2="87.82" stroke="#ee9a60" stroke-width="0.8" />
<circle cx="448" cy="86.72" r="2.25" fill="#e5782f"/>
<line x1="411.4" y1="92.21" x2="413.6" y2="92.21" stroke="#4d4d4d" stroke-width="0.7" />
<text x="410.4" y="94.11" font-size="5.41" text-anchor="end" fill="#333333" textLength="42.38" lengthAdjust="spacingAndGlyphs">Verrucomicrobia</text>
<line x1="444.2" y1="92.21" x2="450.1" y2="92.21" stroke="#ee9a60" stroke-width="1" />
<line x1="444.2" y1="91.11" x2="444.2" y2="93.31" stroke="#ee9a60" stroke-width="0.8" />
<line x1="450.1" y1="91.11" x2="450.1" y2="93.31" stroke="#ee9a60" stroke-width="0.8" />
<circle cx="446.8" cy="92.21" r="2.25" fill="#e5782f"/>
<line x1="411.4" y1="97.71" x2="413.6" y2="97.71" stroke="#4d4d4d" stroke-width="0.7" />
<text x="410.4" y="99.61" font-size="5.41" text-anchor="end" fill="#333333" textLength="35.95" lengthAdjust="spacingAndGlyphs">Bacteroidetes</text>
<line x1="443.7" y1="97.71" x2="449.1" y2="97.71" stroke="#ee9a60" stroke-width="1" />
<line x1="443.7" y1="96.61" x2="443.7" y2="98.81" stroke="#ee9a60" stroke-width="0.8" />
<line x1="449.1" y1="96.61" x2="449.1" y2="98.81" stroke="#ee9a60" stroke-width="0.8" />
<circle cx="446.3" cy="97.71" r="2.25" fill="#e5782f"/>
<line x1="411.4" y1="103.2" x2="413.6" y2="103.2" stroke="#4d4d4d" stroke-width="0.7" />
<text x="410.4" y="105.1" font-size="5.41" text-anchor="end" fill="#333333" textLength="35.61" lengthAdjust="spacingAndGlyphs">Acidobacteria</text>
<circle cx="445.9" cy="103.2" r="2.25" fill="#e5782f"/>
<line x1="411.4" y1="108.69" x2="413.6" y2="108.69" stroke="#4d4d4d" stroke-width="0.7" />
<text x="410.4" y="110.59" font-size="5.41" text-anchor="end" fill="#333333" textLength="28.56" lengthAdjust="spacingAndGlyphs">Nitrospirae</text>
<line x1="439" y1="108.69" x2="452.1" y2="108.69" stroke="#ee9a60" stroke-width="1" />
<line x1="439" y1="107.59" x2="439" y2="109.79" stroke="#ee9a60" stroke-width="0.8" />
<line x1="452.1" y1="107.59" x2="452.1" y2="109.79" stroke="#ee9a60" stroke-width="0.8" />
<circle cx="445.1" cy="108.69" r="2.25" fill="#e5782f"/>
<line x1="411.4" y1="114.19" x2="413.6" y2="114.19" stroke="#4d4d4d" stroke-width="0.7" />
<text x="410.4" y="116.09" font-size="5.41" text-anchor="end" fill="#333333" textLength="38.02" lengthAdjust="spacingAndGlyphs">Proteobacteria</text>
<circle cx="445.1" cy="114.19" r="2.25" fill="#e5782f"/>
<line x1="411.4" y1="119.68" x2="413.6" y2="119.68" stroke="#4d4d4d" stroke-width="0.7" />
<text x="410.4" y="121.58" font-size="5.41" text-anchor="end" fill="#333333" textLength="9.69" lengthAdjust="spacingAndGlyphs">FBP</text>
<line x1="424.1" y1="119.68" x2="456.5" y2="119.68" stroke="#ee9a60" stroke-width="1" />
<line x1="424.1" y1="118.58" x2="424.1" y2="120.78" stroke="#ee9a60" stroke-width="0.8" />
<line x1="456.5" y1="118.58" x2="456.5" y2="120.78" stroke="#ee9a60" stroke-width="0.8" />
<circle cx="444.8" cy="119.68" r="2.25" fill="#e5782f"/>
<line x1="411.4" y1="125.17" x2="413.6" y2="125.17" stroke="#4d4d4d" stroke-width="0.7" />
<text x="410.4" y="127.07" font-size="5.41" text-anchor="end" fill="#333333" textLength="37.64" lengthAdjust="spacingAndGlyphs">Actinobacteria</text>
<circle cx="444.6" cy="125.17" r="2.25" fill="#e5782f"/>
<line x1="411.4" y1="130.66" x2="413.6" y2="130.66" stroke="#4d4d4d" stroke-width="0.7" />
<text x="410.4" y="132.56" font-size="5.41" text-anchor="end" fill="#333333" textLength="53.21" lengthAdjust="spacingAndGlyphs">Gemmatimonadetes</text>
<line x1="440.2" y1="130.66" x2="448.6" y2="130.66" stroke="#ee9a60" stroke-width="1" />
<line x1="440.2" y1="129.56" x2="440.2" y2="131.76" stroke="#ee9a60" stroke-width="0.8" />
<line x1="448.6" y1="129.56" x2="448.6" y2="131.76" stroke="#ee9a60" stroke-width="0.8" />
<circle cx="444.2" cy="130.66" r="2.25" fill="#e5782f"/>
<line x1="411.4" y1="136.16" x2="413.6" y2="136.16" stroke="#4d4d4d" stroke-width="0.7" />
<text x="410.4" y="138.06" font-size="5.41" text-anchor="end" fill="#333333" textLength="30.83" lengthAdjust="spacingAndGlyphs">Chlamydiae</text>
<line x1="430.2" y1="136.16" x2="455.3" y2="136.16" stroke="#ee9a60" stroke-width="1" />
<line x1="430.2" y1="135.06" x2="430.2" y2="137.26" stroke="#ee9a60" stroke-width="0.8" />
<line x1="455.3" y1="135.06" x2="455.3" y2="137.26" stroke="#ee9a60" stroke-width="0.8" />
<circle cx="443" cy="136.16" r="2.25" fill="#e5782f"/>
<line x1="411.4" y1="141.65" x2="413.6" y2="141.65" stroke="#4d4d4d" stroke-width="0.7" />
<text x="410.4" y="143.55" font-size="5.41" text-anchor="end" fill="#333333" textLength="10.87" lengthAdjust="spacingAndGlyphs">AD3</text>
<line x1="430.2" y1="141.65" x2="454.8" y2="141.65" stroke="#ee9a60" stroke-width="1" />
<line x1="430.2" y1="140.55" x2="430.2" y2="142.75" stroke="#ee9a60" stroke-width="0.8" />
<line x1="454.8" y1="140.55" x2="454.8" y2="142.75" stroke="#ee9a60" stroke-width="0.8" />
<circle cx="442" cy="141.65" r="2.25" fill="#e5782f"/>
<line x1="411.4" y1="147.14" x2="413.6" y2="147.14" stroke="#4d4d4d" stroke-width="0.7" />
<text x="410.4" y="149.04" font-size="5.41" text-anchor="end" fill="#333333" textLength="37.73" lengthAdjust="spacingAndGlyphs">Cyanobacteria</text>
<line x1="431.1" y1="147.14" x2="448.6" y2="147.14" stroke="#ee9a60" stroke-width="1" />
<line x1="431.1" y1="146.04" x2="431.1" y2="148.24" stroke="#ee9a60" stroke-width="0.8" />
<line x1="448.6" y1="146.04" x2="448.6" y2="148.24" stroke="#ee9a60" stroke-width="0.8" />
<circle cx="440.4" cy="147.14" r="2.25" fill="#e5782f"/>
<line x1="411.4" y1="152.64" x2="413.6" y2="152.64" stroke="#4d4d4d" stroke-width="0.7" />
<text x="410.4" y="154.54" font-size="5.41" text-anchor="end" fill="#333333" textLength="24.14" lengthAdjust="spacingAndGlyphs">Unknown</text>
<line x1="432" y1="152.64" x2="448.6" y2="152.64" stroke="#ee9a60" stroke-width="1" />
<line x1="432" y1="151.54" x2="432" y2="153.74" stroke="#ee9a60" stroke-width="0.8" />
<line x1="448.6" y1="151.54" x2="448.6" y2="153.74" stroke="#ee9a60" stroke-width="0.8" />
<circle cx="439.9" cy="152.64" r="2.25" fill="#e5782f"/>
<line x1="411.4" y1="158.13" x2="413.6" y2="158.13" stroke="#4d4d4d" stroke-width="0.7" />
<text x="410.4" y="160.03" font-size="5.41" text-anchor="end" fill="#333333" textLength="10.97" lengthAdjust="spacingAndGlyphs">TM7</text>
<line x1="425.8" y1="158.13" x2="441.6" y2="158.13" stroke="#ee9a60" stroke-width="1" />
<line x1="425.8" y1="157.03" x2="425.8" y2="159.23" stroke="#ee9a60" stroke-width="0.8" />
<line x1="441.6" y1="157.03" x2="441.6" y2="159.23" stroke="#ee9a60" stroke-width="0.8" />
<circle cx="434.1" cy="158.13" r="2.25" fill="#e5782f"/>
<line x1="411.4" y1="163.62" x2="413.6" y2="163.62" stroke="#4d4d4d" stroke-width="0.7" />
<text x="410.4" y="165.52" font-size="5.41" text-anchor="end" fill="#333333" textLength="26.72" lengthAdjust="spacingAndGlyphs">Firmicutes</text>
<line x1="429" y1="163.62" x2="438.5" y2="163.62" stroke="#ee9a60" stroke-width="1" />
<line x1="429" y1="162.52" x2="429" y2="164.72" stroke="#ee9a60" stroke-width="0.8" />
<line x1="438.5" y1="162.52" x2="438.5" y2="164.72" stroke="#ee9a60" stroke-width="0.8" />
<circle cx="433.7" cy="163.62" r="2.25" fill="#e5782f"/>
<line x1="411.4" y1="169.11" x2="413.6" y2="169.11" stroke="#4d4d4d" stroke-width="0.7" />
<text x="410.4" y="171.01" font-size="5.41" text-anchor="end" fill="#333333" textLength="16.76" lengthAdjust="spacingAndGlyphs">WPS-2</text>
<line x1="428.5" y1="169.11" x2="439" y2="169.11" stroke="#ee9a60" stroke-width="1" />
<line x1="428.5" y1="168.01" x2="428.5" y2="170.21" stroke="#ee9a60" stroke-width="0.8" />
<line x1="439" y1="168.01" x2="439" y2="170.21" stroke="#ee9a60" stroke-width="0.8" />
<circle cx="433.7" cy="169.11" r="2.25" fill="#e5782f"/>
<line x1="411.4" y1="174.61" x2="413.6" y2="174.61" stroke="#4d4d4d" stroke-width="0.7" />
<text x="410.4" y="176.51" font-size="5.41" text-anchor="end" fill="#333333" textLength="27.43" lengthAdjust="spacingAndGlyphs">BHI80-139</text>
<circle cx="432.3" cy="174.61" r="2.25" fill="#e5782f"/>
<line x1="411.4" y1="180.1" x2="413.6" y2="180.1" stroke="#4d4d4d" stroke-width="0.7" />
<text x="410.4" y="182" font-size="5.41" text-anchor="end" fill="#333333" textLength="23.49" lengthAdjust="spacingAndGlyphs">FCPU426</text>
<circle cx="417.4" cy="180.1" r="2.25" fill="#e5782f"/>
<line x1="423.2" y1="182.3" x2="423.2" y2="184.5" stroke="#4d4d4d" stroke-width="0.7" />
<text x="423.2" y="190.3" font-size="5.41" text-anchor="middle" fill="#333333" textLength="6.62" lengthAdjust="spacingAndGlyphs">40</text>
<line x1="441.6" y1="182.3" x2="441.6" y2="184.5" stroke="#4d4d4d" stroke-width="0.7" />
<text x="441.6" y="190.3" font-size="5.41" text-anchor="middle" fill="#333333" textLength="6.62" lengthAdjust="spacingAndGlyphs">50</text>
<line x1="460" y1="182.3" x2="460" y2="184.5" stroke="#4d4d4d" stroke-width="0.7" />
<text x="460" y="190.3" font-size="5.41" text-anchor="middle" fill="#333333" textLength="6.62" lengthAdjust="spacingAndGlyphs">60</text>
<line x1="478.4" y1="182.3" x2="478.4" y2="184.5" stroke="#4d4d4d" stroke-width="0.7" />
<text x="478.4" y="190.3" font-size="5.41" text-anchor="middle" fill="#333333" textLength="6.62" lengthAdjust="spacingAndGlyphs">70</text>
<text x="453" y="197.8" font-size="8.01" text-anchor="middle" fill="#222" textLength="28.03" lengthAdjust="spacingAndGlyphs">Degree</text>
<rect x="560.9" y="22.3" width="78.8" height="156.9" fill="none" stroke="#4d4d4d" stroke-width="0.9"/>
<line x1="558.7" y1="25.2" x2="560.9" y2="25.2" stroke="#4d4d4d" stroke-width="0.7" />
<text x="557.7" y="27.1" font-size="5.41" text-anchor="end" fill="#333333" textLength="27.43" lengthAdjust="spacingAndGlyphs">BHI80-139</text>
<circle cx="627.8" cy="25.2" r="2.25" fill="#5fc2a2"/>
<line x1="558.7" y1="30.61" x2="560.9" y2="30.61" stroke="#4d4d4d" stroke-width="0.7" />
<text x="557.7" y="32.51" font-size="5.41" text-anchor="end" fill="#333333" textLength="17.1" lengthAdjust="spacingAndGlyphs">GAL15</text>
<line x1="605.2" y1="30.61" x2="620.7" y2="30.61" stroke="#88d2ba" stroke-width="1" />
<line x1="605.2" y1="29.51" x2="605.2" y2="31.71" stroke="#88d2ba" stroke-width="0.8" />
<line x1="620.7" y1="29.51" x2="620.7" y2="31.71" stroke="#88d2ba" stroke-width="0.8" />
<circle cx="612.9" cy="30.61" r="2.25" fill="#5fc2a2"/>
<line x1="558.7" y1="36.01" x2="560.9" y2="36.01" stroke="#4d4d4d" stroke-width="0.7" />
<text x="557.7" y="37.91" font-size="5.41" text-anchor="end" fill="#333333" textLength="18.23" lengthAdjust="spacingAndGlyphs">Thermi</text>
<line x1="592.3" y1="36.01" x2="636.5" y2="36.01" stroke="#88d2ba" stroke-width="1" />
<line x1="592.3" y1="34.91" x2="592.3" y2="37.11" stroke="#88d2ba" stroke-width="0.8" />
<line x1="636.5" y1="34.91" x2="636.5" y2="37.11" stroke="#88d2ba" stroke-width="0.8" />
<circle cx="609.6" cy="36.01" r="2.25" fill="#5fc2a2"/>
<line x1="558.7" y1="41.42" x2="560.9" y2="41.42" stroke="#4d4d4d" stroke-width="0.7" />
<text x="557.7" y="43.32" font-size="5.41" text-anchor="end" fill="#333333" textLength="53.21" lengthAdjust="spacingAndGlyphs">Gemmatimonadetes</text>
<line x1="602.1" y1="41.42" x2="616.9" y2="41.42" stroke="#88d2ba" stroke-width="1" />
<line x1="602.1" y1="40.32" x2="602.1" y2="42.52" stroke="#88d2ba" stroke-width="0.8" />
<line x1="616.9" y1="40.32" x2="616.9" y2="42.52" stroke="#88d2ba" stroke-width="0.8" />
<circle cx="608.9" cy="41.42" r="2.25" fill="#5fc2a2"/>
<line x1="558.7" y1="46.83" x2="560.9" y2="46.83" stroke="#4d4d4d" stroke-width="0.7" />
<text x="557.7" y="48.73" font-size="5.41" text-anchor="end" fill="#333333" textLength="35.95" lengthAdjust="spacingAndGlyphs">Bacteroidetes</text>
<line x1="599.3" y1="46.83" x2="612.6" y2="46.83" stroke="#88d2ba" stroke-width="1" />
<line x1="599.3" y1="45.73" x2="599.3" y2="47.93" stroke="#88d2ba" stroke-width="0.8" />
<line x1="612.6" y1="45.73" x2="612.6" y2="47.93" stroke="#88d2ba" stroke-width="0.8" />
<circle cx="605.3" cy="46.83" r="2.25" fill="#5fc2a2"/>
<line x1="558.7" y1="52.24" x2="560.9" y2="52.24" stroke="#4d4d4d" stroke-width="0.7" />
<text x="557.7" y="54.14" font-size="5.41" text-anchor="end" fill="#333333" textLength="46.52" lengthAdjust="spacingAndGlyphs">Armatimonadetes</text>
<line x1="591.8" y1="52.24" x2="620.7" y2="52.24" stroke="#88d2ba" stroke-width="1" />
<line x1="591.8" y1="51.14" x2="591.8" y2="53.34" stroke="#88d2ba" stroke-width="0.8" />
<line x1="620.7" y1="51.14" x2="620.7" y2="53.34" stroke="#88d2ba" stroke-width="0.8" />
<circle cx="604.2" cy="52.24" r="2.25" fill="#5fc2a2"/>
<line x1="558.7" y1="57.64" x2="560.9" y2="57.64" stroke="#4d4d4d" stroke-width="0.7" />
<text x="557.7" y="59.54" font-size="5.41" text-anchor="end" fill="#333333" textLength="13.86" lengthAdjust="spacingAndGlyphs">BRC1</text>
<line x1="588" y1="57.64" x2="627" y2="57.64" stroke="#88d2ba" stroke-width="1" />
<line x1="588" y1="56.54" x2="588" y2="58.74" stroke="#88d2ba" stroke-width="0.8" />
<line x1="627" y1="56.54" x2="627" y2="58.74" stroke="#88d2ba" stroke-width="0.8" />
<circle cx="604.2" cy="57.64" r="2.25" fill="#5fc2a2"/>
<line x1="558.7" y1="63.05" x2="560.9" y2="63.05" stroke="#4d4d4d" stroke-width="0.7" />
<text x="557.7" y="64.95" font-size="5.41" text-anchor="end" fill="#333333" textLength="27.66" lengthAdjust="spacingAndGlyphs">Chloroflexi</text>
<line x1="601.5" y1="63.05" x2="606" y2="63.05" stroke="#88d2ba" stroke-width="1" />
<line x1="601.5" y1="61.95" x2="601.5" y2="64.15" stroke="#88d2ba" stroke-width="0.8" />
<line x1="606" y1="61.95" x2="606" y2="64.15" stroke="#88d2ba" stroke-width="0.8" />
<circle cx="603.8" cy="63.05" r="2.25" fill="#5fc2a2"/>
<line x1="558.7" y1="68.46" x2="560.9" y2="68.46" stroke="#4d4d4d" stroke-width="0.7" />
<text x="557.7" y="70.36" font-size="5.41" text-anchor="end" fill="#333333" textLength="10.87" lengthAdjust="spacingAndGlyphs">AD3</text>
<line x1="590.2" y1="68.46" x2="617.8" y2="68.46" stroke="#88d2ba" stroke-width="1" />
<line x1="590.2" y1="67.36" x2="590.2" y2="69.56" stroke="#88d2ba" stroke-width="0.8" />
<line x1="617.8" y1="67.36" x2="617.8" y2="69.56" stroke="#88d2ba" stroke-width="0.8" />
<circle cx="603.1" cy="68.46" r="2.25" fill="#5fc2a2"/>
<line x1="558.7" y1="73.86" x2="560.9" y2="73.86" stroke="#4d4d4d" stroke-width="0.7" />
<text x="557.7" y="75.76" font-size="5.41" text-anchor="end" fill="#333333" textLength="41.29" lengthAdjust="spacingAndGlyphs">Planctomycetes</text>
<circle cx="602.8" cy="73.86" r="2.25" fill="#5fc2a2"/>
<line x1="558.7" y1="79.27" x2="560.9" y2="79.27" stroke="#4d4d4d" stroke-width="0.7" />
<text x="557.7" y="81.17" font-size="5.41" text-anchor="end" fill="#333333" textLength="42.38" lengthAdjust="spacingAndGlyphs">Verrucomicrobia</text>
<line x1="596.8" y1="79.27" x2="609.6" y2="79.27" stroke="#88d2ba" stroke-width="1" />
<line x1="596.8" y1="78.17" x2="596.8" y2="80.37" stroke="#88d2ba" stroke-width="0.8" />
<line x1="609.6" y1="78.17" x2="609.6" y2="80.37" stroke="#88d2ba" stroke-width="0.8" />
<circle cx="602.8" cy="79.27" r="2.25" fill="#5fc2a2"/>
<line x1="558.7" y1="84.68" x2="560.9" y2="84.68" stroke="#4d4d4d" stroke-width="0.7" />
<text x="557.7" y="86.58" font-size="5.41" text-anchor="end" fill="#333333" textLength="35.61" lengthAdjust="spacingAndGlyphs">Acidobacteria</text>
<line x1="597.2" y1="84.68" x2="605.9" y2="84.68" stroke="#88d2ba" stroke-width="1" />
<line x1="597.2" y1="83.58" x2="597.2" y2="85.78" stroke="#88d2ba" stroke-width="0.8" />
<line x1="605.9" y1="83.58" x2="605.9" y2="85.78" stroke="#88d2ba" stroke-width="0.8" />
<circle cx="601.1" cy="84.68" r="2.25" fill="#5fc2a2"/>
<line x1="558.7" y1="90.09" x2="560.9" y2="90.09" stroke="#4d4d4d" stroke-width="0.7" />
<text x="557.7" y="91.99" font-size="5.41" text-anchor="end" fill="#333333" textLength="11.75" lengthAdjust="spacingAndGlyphs">WS3</text>
<line x1="595" y1="90.09" x2="606.7" y2="90.09" stroke="#88d2ba" stroke-width="1" />
<line x1="595" y1="88.99" x2="595" y2="91.19" stroke="#88d2ba" stroke-width="0.8" />
<line x1="606.7" y1="88.99" x2="606.7" y2="91.19" stroke="#88d2ba" stroke-width="0.8" />
<circle cx="600.3" cy="90.09" r="2.25" fill="#5fc2a2"/>
<line x1="558.7" y1="95.49" x2="560.9" y2="95.49" stroke="#4d4d4d" stroke-width="0.7" />
<text x="557.7" y="97.39" font-size="5.41" text-anchor="end" fill="#333333" textLength="16.76" lengthAdjust="spacingAndGlyphs">WPS-2</text>
<line x1="584.1" y1="95.49" x2="621.6" y2="95.49" stroke="#88d2ba" stroke-width="1" />
<line x1="584.1" y1="94.39" x2="584.1" y2="96.59" stroke="#88d2ba" stroke-width="0.8" />
<line x1="621.6" y1="94.39" x2="621.6" y2="96.59" stroke="#88d2ba" stroke-width="0.8" />
<circle cx="599.4" cy="95.49" r="2.25" fill="#5fc2a2"/>
<line x1="558.7" y1="100.9" x2="560.9" y2="100.9" stroke="#4d4d4d" stroke-width="0.7" />
<text x="557.7" y="102.8" font-size="5.41" text-anchor="end" fill="#333333" textLength="37.64" lengthAdjust="spacingAndGlyphs">Actinobacteria</text>
<circle cx="598.6" cy="100.9" r="2.25" fill="#5fc2a2"/>
<line x1="558.7" y1="106.31" x2="560.9" y2="106.31" stroke="#4d4d4d" stroke-width="0.7" />
<text x="557.7" y="108.21" font-size="5.41" text-anchor="end" fill="#333333" textLength="34.69" lengthAdjust="spacingAndGlyphs">Elusimicrobia</text>
<line x1="585" y1="106.31" x2="612.7" y2="106.31" stroke="#88d2ba" stroke-width="1" />
<line x1="585" y1="105.21" x2="585" y2="107.41" stroke="#88d2ba" stroke-width="0.8" />
<line x1="612.7" y1="105.21" x2="612.7" y2="107.41" stroke="#88d2ba" stroke-width="0.8" />
<circle cx="597.7" cy="106.31" r="2.25" fill="#5fc2a2"/>
<line x1="558.7" y1="111.71" x2="560.9" y2="111.71" stroke="#4d4d4d" stroke-width="0.7" />
<text x="557.7" y="113.61" font-size="5.41" text-anchor="end" fill="#333333" textLength="28.56" lengthAdjust="spacingAndGlyphs">Nitrospirae</text>
<line x1="589.4" y1="111.71" x2="606.4" y2="111.71" stroke="#88d2ba" stroke-width="1" />
<line x1="589.4" y1="110.61" x2="589.4" y2="112.81" stroke="#88d2ba" stroke-width="0.8" />
<line x1="606.4" y1="110.61" x2="606.4" y2="112.81" stroke="#88d2ba" stroke-width="0.8" />
<circle cx="597.3" cy="111.71" r="2.25" fill="#5fc2a2"/>
<line x1="558.7" y1="117.12" x2="560.9" y2="117.12" stroke="#4d4d4d" stroke-width="0.7" />
<text x="557.7" y="119.02" font-size="5.41" text-anchor="end" fill="#333333" textLength="38.02" lengthAdjust="spacingAndGlyphs">Proteobacteria</text>
<circle cx="596.1" cy="117.12" r="2.25" fill="#5fc2a2"/>
<line x1="558.7" y1="122.53" x2="560.9" y2="122.53" stroke="#4d4d4d" stroke-width="0.7" />
<text x="557.7" y="124.43" font-size="5.41" text-anchor="end" fill="#333333" textLength="24.14" lengthAdjust="spacingAndGlyphs">Unknown</text>
<line x1="584.2" y1="122.53" x2="605.7" y2="122.53" stroke="#88d2ba" stroke-width="1" />
<line x1="584.2" y1="121.43" x2="584.2" y2="123.63" stroke="#88d2ba" stroke-width="0.8" />
<line x1="605.7" y1="121.43" x2="605.7" y2="123.63" stroke="#88d2ba" stroke-width="0.8" />
<circle cx="594.7" cy="122.53" r="2.25" fill="#5fc2a2"/>
<line x1="558.7" y1="127.94" x2="560.9" y2="127.94" stroke="#4d4d4d" stroke-width="0.7" />
<text x="557.7" y="129.84" font-size="5.41" text-anchor="end" fill="#333333" textLength="21.5" lengthAdjust="spacingAndGlyphs">Chlorobi</text>
<line x1="577.2" y1="127.94" x2="614" y2="127.94" stroke="#88d2ba" stroke-width="1" />
<line x1="577.2" y1="126.84" x2="577.2" y2="129.04" stroke="#88d2ba" stroke-width="0.8" />
<line x1="614" y1="126.84" x2="614" y2="129.04" stroke="#88d2ba" stroke-width="0.8" />
<circle cx="592" cy="127.94" r="2.25" fill="#5fc2a2"/>
<line x1="558.7" y1="133.34" x2="560.9" y2="133.34" stroke="#4d4d4d" stroke-width="0.7" />
<text x="557.7" y="135.24" font-size="5.41" text-anchor="end" fill="#333333" textLength="26.72" lengthAdjust="spacingAndGlyphs">Firmicutes</text>
<line x1="585" y1="133.34" x2="597" y2="133.34" stroke="#88d2ba" stroke-width="1" />
<line x1="585" y1="132.24" x2="585" y2="134.44" stroke="#88d2ba" stroke-width="0.8" />
<line x1="597" y1="132.24" x2="597" y2="134.44" stroke="#88d2ba" stroke-width="0.8" />
<circle cx="590.8" cy="133.34" r="2.25" fill="#5fc2a2"/>
<line x1="558.7" y1="138.75" x2="560.9" y2="138.75" stroke="#4d4d4d" stroke-width="0.7" />
<text x="557.7" y="140.65" font-size="5.41" text-anchor="end" fill="#333333" textLength="23.49" lengthAdjust="spacingAndGlyphs">FCPU426</text>
<circle cx="588.9" cy="138.75" r="2.25" fill="#5fc2a2"/>
<line x1="558.7" y1="144.16" x2="560.9" y2="144.16" stroke="#4d4d4d" stroke-width="0.7" />
<text x="557.7" y="146.06" font-size="5.41" text-anchor="end" fill="#333333" textLength="35.08" lengthAdjust="spacingAndGlyphs">Fibrobacteres</text>
<line x1="571" y1="144.16" x2="604.8" y2="144.16" stroke="#88d2ba" stroke-width="1" />
<line x1="571" y1="143.06" x2="571" y2="145.26" stroke="#88d2ba" stroke-width="0.8" />
<line x1="604.8" y1="143.06" x2="604.8" y2="145.26" stroke="#88d2ba" stroke-width="0.8" />
<circle cx="587.7" cy="144.16" r="2.25" fill="#5fc2a2"/>
<line x1="558.7" y1="149.56" x2="560.9" y2="149.56" stroke="#4d4d4d" stroke-width="0.7" />
<text x="557.7" y="151.46" font-size="5.41" text-anchor="end" fill="#333333" textLength="11.75" lengthAdjust="spacingAndGlyphs">WS2</text>
<circle cx="586.8" cy="149.56" r="2.25" fill="#5fc2a2"/>
<line x1="558.7" y1="154.97" x2="560.9" y2="154.97" stroke="#4d4d4d" stroke-width="0.7" />
<text x="557.7" y="156.87" font-size="5.41" text-anchor="end" fill="#333333" textLength="9.69" lengthAdjust="spacingAndGlyphs">FBP</text>
<line x1="573.3" y1="154.97" x2="600" y2="154.97" stroke="#88d2ba" stroke-width="1" />
<line x1="573.3" y1="153.87" x2="573.3" y2="156.07" stroke="#88d2ba" stroke-width="0.8" />
<line x1="600" y1="153.87" x2="600" y2="156.07" stroke="#88d2ba" stroke-width="0.8" />
<circle cx="586.4" cy="154.97" r="2.25" fill="#5fc2a2"/>
<line x1="558.7" y1="160.38" x2="560.9" y2="160.38" stroke="#4d4d4d" stroke-width="0.7" />
<text x="557.7" y="162.28" font-size="5.41" text-anchor="end" fill="#333333" textLength="37.73" lengthAdjust="spacingAndGlyphs">Cyanobacteria</text>
<line x1="578" y1="160.38" x2="595.9" y2="160.38" stroke="#88d2ba" stroke-width="1" />
<line x1="578" y1="159.28" x2="578" y2="161.48" stroke="#88d2ba" stroke-width="0.8" />
<line x1="595.9" y1="159.28" x2="595.9" y2="161.48" stroke="#88d2ba" stroke-width="0.8" />
<circle cx="586.3" cy="160.38" r="2.25" fill="#5fc2a2"/>
<line x1="558.7" y1="165.79" x2="560.9" y2="165.79" stroke="#4d4d4d" stroke-width="0.7" />
<text x="557.7" y="167.69" font-size="5.41" text-anchor="end" fill="#333333" textLength="10.97" lengthAdjust="spacingAndGlyphs">TM6</text>
<line x1="570.7" y1="165.79" x2="597" y2="165.79" stroke="#88d2ba" stroke-width="1" />
<line x1="570.7" y1="164.69" x2="570.7" y2="166.89" stroke="#88d2ba" stroke-width="0.8" />
<line x1="597" y1="164.69" x2="597" y2="166.89" stroke="#88d2ba" stroke-width="0.8" />
<circle cx="581.9" cy="165.79" r="2.25" fill="#5fc2a2"/>
<line x1="558.7" y1="171.19" x2="560.9" y2="171.19" stroke="#4d4d4d" stroke-width="0.7" />
<text x="557.7" y="173.09" font-size="5.41" text-anchor="end" fill="#333333" textLength="10.97" lengthAdjust="spacingAndGlyphs">TM7</text>
<line x1="564" y1="171.19" x2="600" y2="171.19" stroke="#88d2ba" stroke-width="1" />
<line x1="564" y1="170.09" x2="564" y2="172.29" stroke="#88d2ba" stroke-width="0.8" />
<line x1="600" y1="170.09" x2="600" y2="172.29" stroke="#88d2ba" stroke-width="0.8" />
<circle cx="577.5" cy="171.19" r="2.25" fill="#5fc2a2"/>
<line x1="558.7" y1="176.6" x2="560.9" y2="176.6" stroke="#4d4d4d" stroke-width="0.7" />
<text x="557.7" y="178.5" font-size="5.41" text-anchor="end" fill="#333333" textLength="30.83" lengthAdjust="spacingAndGlyphs">Chlamydiae</text>
<line x1="568.9" y1="176.6" x2="581.2" y2="176.6" stroke="#88d2ba" stroke-width="1" />
<line x1="568.9" y1="175.5" x2="568.9" y2="177.7" stroke="#88d2ba" stroke-width="0.8" />
<line x1="581.2" y1="175.5" x2="581.2" y2="177.7" stroke="#88d2ba" stroke-width="0.8" />
<circle cx="574.5" cy="176.6" r="2.25" fill="#5fc2a2"/>
<line x1="563.5" y1="179.2" x2="563.5" y2="181.4" stroke="#4d4d4d" stroke-width="0.7" />
<text x="563.5" y="187.2" font-size="5.41" text-anchor="middle" fill="#333333" textLength="3.31" lengthAdjust="spacingAndGlyphs">0</text>
<line x1="588.2" y1="179.2" x2="588.2" y2="181.4" stroke="#4d4d4d" stroke-width="0.7" />
<text x="588.2" y="187.2" font-size="5.41" text-anchor="middle" fill="#333333" textLength="13.23" lengthAdjust="spacingAndGlyphs">2000</text>
<line x1="613.4" y1="179.2" x2="613.4" y2="181.4" stroke="#4d4d4d" stroke-width="0.7" />
<text x="613.4" y="187.2" font-size="5.41" text-anchor="middle" fill="#333333" textLength="13.23" lengthAdjust="spacingAndGlyphs">4000</text>
<line x1="638.5" y1="179.2" x2="638.5" y2="181.4" stroke="#4d4d4d" stroke-width="0.7" />
<text x="638.5" y="187.2" font-size="5.41" text-anchor="middle" fill="#333333" textLength="13.23" lengthAdjust="spacingAndGlyphs">6000</text>
<text x="601.3" y="195.6" font-size="8.01" text-anchor="middle" fill="#222" textLength="51.33" lengthAdjust="spacingAndGlyphs">Betweenness</text>
<rect x="709.6" y="22.5" width="80" height="158.8" fill="none" stroke="#4d4d4d" stroke-width="0.9"/>
<line x1="707.4" y1="25.7" x2="709.6" y2="25.7" stroke="#4d4d4d" stroke-width="0.7" />
<text x="706.4" y="27.6" font-size="5.41" text-anchor="end" fill="#333333" textLength="27.43" lengthAdjust="spacingAndGlyphs">BHI80-139</text>
<circle cx="785.4" cy="25.7" r="2.25" fill="#c08bd9"/>
<line x1="707.4" y1="31.17" x2="709.6" y2="31.17" stroke="#4d4d4d" stroke-width="0.7" />
<text x="706.4" y="33.07" font-size="5.41" text-anchor="end" fill="#333333" textLength="11.75" lengthAdjust="spacingAndGlyphs">WS3</text>
<circle cx="782" cy="31.17" r="2.25" fill="#c08bd9"/>
<line x1="707.4" y1="36.64" x2="709.6" y2="36.64" stroke="#4d4d4d" stroke-width="0.7" />
<text x="706.4" y="38.54" font-size="5.41" text-anchor="end" fill="#333333" textLength="35.08" lengthAdjust="spacingAndGlyphs">Fibrobacteres</text>
<line x1="767.3" y1="36.64" x2="784" y2="36.64" stroke="#cfa6e2" stroke-width="1" />
<line x1="767.3" y1="35.54" x2="767.3" y2="37.74" stroke="#cfa6e2" stroke-width="0.8" />
<line x1="784" y1="35.54" x2="784" y2="37.74" stroke="#cfa6e2" stroke-width="0.8" />
<circle cx="775.6" cy="36.64" r="2.25" fill="#c08bd9"/>
<line x1="707.4" y1="42.1" x2="709.6" y2="42.1" stroke="#4d4d4d" stroke-width="0.7" />
<text x="706.4" y="44" font-size="5.41" text-anchor="end" fill="#333333" textLength="21.5" lengthAdjust="spacingAndGlyphs">Chlorobi</text>
<line x1="760.3" y1="42.1" x2="781.6" y2="42.1" stroke="#cfa6e2" stroke-width="1" />
<line x1="760.3" y1="41" x2="760.3" y2="43.2" stroke="#cfa6e2" stroke-width="0.8" />
<line x1="781.6" y1="41" x2="781.6" y2="43.2" stroke="#cfa6e2" stroke-width="0.8" />
<circle cx="772.5" cy="42.1" r="2.25" fill="#c08bd9"/>
<line x1="707.4" y1="47.57" x2="709.6" y2="47.57" stroke="#4d4d4d" stroke-width="0.7" />
<text x="706.4" y="49.47" font-size="5.41" text-anchor="end" fill="#333333" textLength="28.56" lengthAdjust="spacingAndGlyphs">Nitrospirae</text>
<line x1="762.2" y1="47.57" x2="774.9" y2="47.57" stroke="#cfa6e2" stroke-width="1" />
<line x1="762.2" y1="46.47" x2="762.2" y2="48.67" stroke="#cfa6e2" stroke-width="0.8" />
<line x1="774.9" y1="46.47" x2="774.9" y2="48.67" stroke="#cfa6e2" stroke-width="0.8" />
<circle cx="769.3" cy="47.57" r="2.25" fill="#c08bd9"/>
<line x1="707.4" y1="53.04" x2="709.6" y2="53.04" stroke="#4d4d4d" stroke-width="0.7" />
<text x="706.4" y="54.94" font-size="5.41" text-anchor="end" fill="#333333" textLength="35.95" lengthAdjust="spacingAndGlyphs">Bacteroidetes</text>
<line x1="766.9" y1="53.04" x2="770.4" y2="53.04" stroke="#cfa6e2" stroke-width="1" />
<line x1="766.9" y1="51.94" x2="766.9" y2="54.14" stroke="#cfa6e2" stroke-width="0.8" />
<line x1="770.4" y1="51.94" x2="770.4" y2="54.14" stroke="#cfa6e2" stroke-width="0.8" />
<circle cx="768.6" cy="53.04" r="2.25" fill="#c08bd9"/>
<line x1="707.4" y1="58.51" x2="709.6" y2="58.51" stroke="#4d4d4d" stroke-width="0.7" />
<text x="706.4" y="60.41" font-size="5.41" text-anchor="end" fill="#333333" textLength="13.86" lengthAdjust="spacingAndGlyphs">BRC1</text>
<line x1="753.5" y1="58.51" x2="783.7" y2="58.51" stroke="#cfa6e2" stroke-width="1" />
<line x1="753.5" y1="57.41" x2="753.5" y2="59.61" stroke="#cfa6e2" stroke-width="0.8" />
<line x1="783.7" y1="57.41" x2="783.7" y2="59.61" stroke="#cfa6e2" stroke-width="0.8" />
<circle cx="768.6" cy="58.51" r="2.25" fill="#c08bd9"/>
<line x1="707.4" y1="63.98" x2="709.6" y2="63.98" stroke="#4d4d4d" stroke-width="0.7" />
<text x="706.4" y="65.88" font-size="5.41" text-anchor="end" fill="#333333" textLength="42.38" lengthAdjust="spacingAndGlyphs">Verrucomicrobia</text>
<line x1="761.2" y1="63.98" x2="769.7" y2="63.98" stroke="#cfa6e2" stroke-width="1" />
<line x1="761.2" y1="62.88" x2="761.2" y2="65.08" stroke="#cfa6e2" stroke-width="0.8" />
<line x1="769.7" y1="62.88" x2="769.7" y2="65.08" stroke="#cfa6e2" stroke-width="0.8" />
<circle cx="765" cy="63.98" r="2.25" fill="#c08bd9"/>
<line x1="707.4" y1="69.44" x2="709.6" y2="69.44" stroke="#4d4d4d" stroke-width="0.7" />
<text x="706.4" y="71.34" font-size="5.41" text-anchor="end" fill="#333333" textLength="27.66" lengthAdjust="spacingAndGlyphs">Chloroflexi</text>
<circle cx="764.8" cy="69.44" r="2.25" fill="#c08bd9"/>
<line x1="707.4" y1="74.91" x2="709.6" y2="74.91" stroke="#4d4d4d" stroke-width="0.7" />
<text x="706.4" y="76.81" font-size="5.41" text-anchor="end" fill="#333333" textLength="41.29" lengthAdjust="spacingAndGlyphs">Planctomycetes</text>
<circle cx="763.8" cy="74.91" r="2.25" fill="#c08bd9"/>
<line x1="707.4" y1="80.38" x2="709.6" y2="80.38" stroke="#4d4d4d" stroke-width="0.7" />
<text x="706.4" y="82.28" font-size="5.41" text-anchor="end" fill="#333333" textLength="11.75" lengthAdjust="spacingAndGlyphs">WS2</text>
<circle cx="763.8" cy="80.38" r="2.25" fill="#c08bd9"/>
<line x1="707.4" y1="85.85" x2="709.6" y2="85.85" stroke="#4d4d4d" stroke-width="0.7" />
<text x="706.4" y="87.75" font-size="5.41" text-anchor="end" fill="#333333" textLength="53.21" lengthAdjust="spacingAndGlyphs">Gemmatimonadetes</text>
<line x1="759.8" y1="85.85" x2="767.6" y2="85.85" stroke="#cfa6e2" stroke-width="1" />
<line x1="759.8" y1="84.75" x2="759.8" y2="86.95" stroke="#cfa6e2" stroke-width="0.8" />
<line x1="767.6" y1="84.75" x2="767.6" y2="86.95" stroke="#cfa6e2" stroke-width="0.8" />
<circle cx="763.8" cy="85.85" r="2.25" fill="#c08bd9"/>
<line x1="707.4" y1="91.31" x2="709.6" y2="91.31" stroke="#4d4d4d" stroke-width="0.7" />
<text x="706.4" y="93.21" font-size="5.41" text-anchor="end" fill="#333333" textLength="34.69" lengthAdjust="spacingAndGlyphs">Elusimicrobia</text>
<line x1="751.4" y1="91.31" x2="776.7" y2="91.31" stroke="#cfa6e2" stroke-width="1" />
<line x1="751.4" y1="90.21" x2="751.4" y2="92.41" stroke="#cfa6e2" stroke-width="0.8" />
<line x1="776.7" y1="90.21" x2="776.7" y2="92.41" stroke="#cfa6e2" stroke-width="0.8" />
<circle cx="763.8" cy="91.31" r="2.25" fill="#c08bd9"/>
<line x1="707.4" y1="96.78" x2="709.6" y2="96.78" stroke="#4d4d4d" stroke-width="0.7" />
<text x="706.4" y="98.68" font-size="5.41" text-anchor="end" fill="#333333" textLength="37.64" lengthAdjust="spacingAndGlyphs">Actinobacteria</text>
<circle cx="760.8" cy="96.78" r="2.25" fill="#c08bd9"/>
<line x1="707.4" y1="102.25" x2="709.6" y2="102.25" stroke="#4d4d4d" stroke-width="0.7" />
<text x="706.4" y="104.15" font-size="5.41" text-anchor="end" fill="#333333" textLength="46.52" lengthAdjust="spacingAndGlyphs">Armatimonadetes</text>
<line x1="755.3" y1="102.25" x2="766.2" y2="102.25" stroke="#cfa6e2" stroke-width="1" />
<line x1="755.3" y1="101.15" x2="755.3" y2="103.35" stroke="#cfa6e2" stroke-width="0.8" />
<line x1="766.2" y1="101.15" x2="766.2" y2="103.35" stroke="#cfa6e2" stroke-width="0.8" />
<circle cx="760.8" cy="102.25" r="2.25" fill="#c08bd9"/>
<line x1="707.4" y1="107.72" x2="709.6" y2="107.72" stroke="#4d4d4d" stroke-width="0.7" />
<text x="706.4" y="109.62" font-size="5.41" text-anchor="end" fill="#333333" textLength="35.61" lengthAdjust="spacingAndGlyphs">Acidobacteria</text>
<circle cx="760.6" cy="107.72" r="2.25" fill="#c08bd9"/>
<line x1="707.4" y1="113.19" x2="709.6" y2="113.19" stroke="#4d4d4d" stroke-width="0.7" />
<text x="706.4" y="115.09" font-size="5.41" text-anchor="end" fill="#333333" textLength="38.02" lengthAdjust="spacingAndGlyphs">Proteobacteria</text>
<circle cx="760.6" cy="113.19" r="2.25" fill="#c08bd9"/>
<line x1="707.4" y1="118.65" x2="709.6" y2="118.65" stroke="#4d4d4d" stroke-width="0.7" />
<text x="706.4" y="120.55" font-size="5.41" text-anchor="end" fill="#333333" textLength="18.23" lengthAdjust="spacingAndGlyphs">Thermi</text>
<line x1="750.1" y1="118.65" x2="764.4" y2="118.65" stroke="#cfa6e2" stroke-width="1" />
<line x1="750.1" y1="117.55" x2="750.1" y2="119.75" stroke="#cfa6e2" stroke-width="0.8" />
<line x1="764.4" y1="117.55" x2="764.4" y2="119.75" stroke="#cfa6e2" stroke-width="0.8" />
<circle cx="756.9" cy="118.65" r="2.25" fill="#c08bd9"/>
<line x1="707.4" y1="124.12" x2="709.6" y2="124.12" stroke="#4d4d4d" stroke-width="0.7" />
<text x="706.4" y="126.02" font-size="5.41" text-anchor="end" fill="#333333" textLength="26.72" lengthAdjust="spacingAndGlyphs">Firmicutes</text>
<line x1="752.2" y1="124.12" x2="761.8" y2="124.12" stroke="#cfa6e2" stroke-width="1" />
<line x1="752.2" y1="123.02" x2="752.2" y2="125.22" stroke="#cfa6e2" stroke-width="0.8" />
<line x1="761.8" y1="123.02" x2="761.8" y2="125.22" stroke="#cfa6e2" stroke-width="0.8" />
<circle cx="756.9" cy="124.12" r="2.25" fill="#c08bd9"/>
<line x1="707.4" y1="129.59" x2="709.6" y2="129.59" stroke="#4d4d4d" stroke-width="0.7" />
<text x="706.4" y="131.49" font-size="5.41" text-anchor="end" fill="#333333" textLength="9.69" lengthAdjust="spacingAndGlyphs">FBP</text>
<line x1="739.5" y1="129.59" x2="756.6" y2="129.59" stroke="#cfa6e2" stroke-width="1" />
<line x1="739.5" y1="128.49" x2="739.5" y2="130.69" stroke="#cfa6e2" stroke-width="0.8" />
<line x1="756.6" y1="128.49" x2="756.6" y2="130.69" stroke="#cfa6e2" stroke-width="0.8" />
<circle cx="748.2" cy="129.59" r="2.25" fill="#c08bd9"/>
<line x1="707.4" y1="135.06" x2="709.6" y2="135.06" stroke="#4d4d4d" stroke-width="0.7" />
<text x="706.4" y="136.96" font-size="5.41" text-anchor="end" fill="#333333" textLength="10.97" lengthAdjust="spacingAndGlyphs">TM6</text>
<line x1="735.2" y1="135.06" x2="761.8" y2="135.06" stroke="#cfa6e2" stroke-width="1" />
<line x1="735.2" y1="133.96" x2="735.2" y2="136.16" stroke="#cfa6e2" stroke-width="0.8" />
<line x1="761.8" y1="133.96" x2="761.8" y2="136.16" stroke="#cfa6e2" stroke-width="0.8" />
<circle cx="748.2" cy="135.06" r="2.25" fill="#c08bd9"/>
<line x1="707.4" y1="140.53" x2="709.6" y2="140.53" stroke="#4d4d4d" stroke-width="0.7" />
<text x="706.4" y="142.43" font-size="5.41" text-anchor="end" fill="#333333" textLength="37.73" lengthAdjust="spacingAndGlyphs">Cyanobacteria</text>
<line x1="737.1" y1="140.53" x2="756.9" y2="140.53" stroke="#cfa6e2" stroke-width="1" />
<line x1="737.1" y1="139.43" x2="737.1" y2="141.62" stroke="#cfa6e2" stroke-width="0.8" />
<line x1="756.9" y1="139.43" x2="756.9" y2="141.62" stroke="#cfa6e2" stroke-width="0.8" />
<circle cx="747.9" cy="140.53" r="2.25" fill="#c08bd9"/>
<line x1="707.4" y1="145.99" x2="709.6" y2="145.99" stroke="#4d4d4d" stroke-width="0.7" />
<text x="706.4" y="147.89" font-size="5.41" text-anchor="end" fill="#333333" textLength="24.14" lengthAdjust="spacingAndGlyphs">Unknown</text>
<line x1="738" y1="145.99" x2="757.4" y2="145.99" stroke="#cfa6e2" stroke-width="1" />
<line x1="738" y1="144.89" x2="738" y2="147.09" stroke="#cfa6e2" stroke-width="0.8" />
<line x1="757.4" y1="144.89" x2="757.4" y2="147.09" stroke="#cfa6e2" stroke-width="0.8" />
<circle cx="747.3" cy="145.99" r="2.25" fill="#c08bd9"/>
<line x1="707.4" y1="151.46" x2="709.6" y2="151.46" stroke="#4d4d4d" stroke-width="0.7" />
<text x="706.4" y="153.36" font-size="5.41" text-anchor="end" fill="#333333" textLength="30.83" lengthAdjust="spacingAndGlyphs">Chlamydiae</text>
<line x1="732.2" y1="151.46" x2="758.8" y2="151.46" stroke="#cfa6e2" stroke-width="1" />
<line x1="732.2" y1="150.36" x2="732.2" y2="152.56" stroke="#cfa6e2" stroke-width="0.8" />
<line x1="758.8" y1="150.36" x2="758.8" y2="152.56" stroke="#cfa6e2" stroke-width="0.8" />
<circle cx="745.3" cy="151.46" r="2.25" fill="#c08bd9"/>
<line x1="707.4" y1="156.93" x2="709.6" y2="156.93" stroke="#4d4d4d" stroke-width="0.7" />
<text x="706.4" y="158.83" font-size="5.41" text-anchor="end" fill="#333333" textLength="10.87" lengthAdjust="spacingAndGlyphs">AD3</text>
<line x1="735.2" y1="156.93" x2="756.6" y2="156.93" stroke="#cfa6e2" stroke-width="1" />
<line x1="735.2" y1="155.83" x2="735.2" y2="158.03" stroke="#cfa6e2" stroke-width="0.8" />
<line x1="756.6" y1="155.83" x2="756.6" y2="158.03" stroke="#cfa6e2" stroke-width="0.8" />
<circle cx="745.3" cy="156.93" r="2.25" fill="#c08bd9"/>
<line x1="707.4" y1="162.4" x2="709.6" y2="162.4" stroke="#4d4d4d" stroke-width="0.7" />
<text x="706.4" y="164.3" font-size="5.41" text-anchor="end" fill="#333333" textLength="17.1" lengthAdjust="spacingAndGlyphs">GAL15</text>
<line x1="727.5" y1="162.4" x2="756.6" y2="162.4" stroke="#cfa6e2" stroke-width="1" />
<line x1="727.5" y1="161.3" x2="727.5" y2="163.5" stroke="#cfa6e2" stroke-width="0.8" />
<line x1="756.6" y1="161.3" x2="756.6" y2="163.5" stroke="#cfa6e2" stroke-width="0.8" />
<circle cx="742.1" cy="162.4" r="2.25" fill="#c08bd9"/>
<line x1="707.4" y1="167.86" x2="709.6" y2="167.86" stroke="#4d4d4d" stroke-width="0.7" />
<text x="706.4" y="169.76" font-size="5.41" text-anchor="end" fill="#333333" textLength="10.97" lengthAdjust="spacingAndGlyphs">TM7</text>
<line x1="712.5" y1="167.86" x2="766.5" y2="167.86" stroke="#cfa6e2" stroke-width="1" />
<line x1="712.5" y1="166.76" x2="712.5" y2="168.96" stroke="#cfa6e2" stroke-width="0.8" />
<line x1="766.5" y1="166.76" x2="766.5" y2="168.96" stroke="#cfa6e2" stroke-width="0.8" />
<circle cx="737.4" cy="167.86" r="2.25" fill="#c08bd9"/>
<line x1="707.4" y1="173.33" x2="709.6" y2="173.33" stroke="#4d4d4d" stroke-width="0.7" />
<text x="706.4" y="175.23" font-size="5.41" text-anchor="end" fill="#333333" textLength="16.76" lengthAdjust="spacingAndGlyphs">WPS-2</text>
<line x1="725.3" y1="173.33" x2="734.8" y2="173.33" stroke="#cfa6e2" stroke-width="1" />
<line x1="725.3" y1="172.23" x2="725.3" y2="174.43" stroke="#cfa6e2" stroke-width="0.8" />
<line x1="734.8" y1="172.23" x2="734.8" y2="174.43" stroke="#cfa6e2" stroke-width="0.8" />
<circle cx="730.1" cy="173.33" r="2.25" fill="#c08bd9"/>
<line x1="707.4" y1="178.8" x2="709.6" y2="178.8" stroke="#4d4d4d" stroke-width="0.7" />
<text x="706.4" y="180.7" font-size="5.41" text-anchor="end" fill="#333333" textLength="23.49" lengthAdjust="spacingAndGlyphs">FCPU426</text>
<circle cx="723.2" cy="178.8" r="2.25" fill="#c08bd9"/>
<line x1="720.6" y1="181.3" x2="720.6" y2="183.5" stroke="#4d4d4d" stroke-width="0.7" />
<text x="720.6" y="189.3" font-size="5.41" text-anchor="middle" fill="#333333" textLength="3.31" lengthAdjust="spacingAndGlyphs">7</text>
<line x1="745.6" y1="181.3" x2="745.6" y2="183.5" stroke="#4d4d4d" stroke-width="0.7" />
<text x="745.6" y="189.3" font-size="5.41" text-anchor="middle" fill="#333333" textLength="3.31" lengthAdjust="spacingAndGlyphs">8</text>
<line x1="771" y1="181.3" x2="771" y2="183.5" stroke="#4d4d4d" stroke-width="0.7" />
<text x="771" y="189.3" font-size="5.41" text-anchor="middle" fill="#333333" textLength="3.31" lengthAdjust="spacingAndGlyphs">9</text>
<text x="745.8" y="197.2" font-size="8.01" text-anchor="middle" fill="#222" textLength="38.62" lengthAdjust="spacingAndGlyphs">Closeness</text>
<text x="782.7" y="194.8" font-size="5.41" text-anchor="middle" fill="#333333" textLength="14.17" lengthAdjust="spacingAndGlyphs">1e−7</text>
<text x="359.6" y="101" font-size="8.22" text-anchor="middle" fill="#222" textLength="29.34" lengthAdjust="spacingAndGlyphs" transform="rotate(-90 359.6 101)">Phylum</text>
<text x="359.6" y="209.3" font-size="14" fill="#000" font-weight="bold">c</text>
<text x="400.7" y="215.5" font-size="10.25" fill="#1a1a1a" textLength="386" lengthAdjust="spacingAndGlyphs">Node degree, betweenness, and closeness centrality of the network for each ecotype</text>
<rect x="403.7" y="225.4" width="96.5" height="127.1" fill="none" stroke="#4d4d4d" stroke-width="0.9"/>
<line x1="401.5" y1="352.5" x2="403.7" y2="352.5" stroke="#4d4d4d" stroke-width="0.7" /><text x="399.3" y="354.5" font-size="5.51" text-anchor="end" fill="#333333" textLength="3.37" lengthAdjust="spacingAndGlyphs">0</text><line x1="401.5" y1="338" x2="403.7" y2="338" stroke="#4d4d4d" stroke-width="0.7" /><text x="399.3" y="340" font-size="5.51" text-anchor="end" fill="#333333" textLength="6.74" lengthAdjust="spacingAndGlyphs">25</text><line x1="401.5" y1="323.5" x2="403.7" y2="323.5" stroke="#4d4d4d" stroke-width="0.7" /><text x="399.3" y="325.5" font-size="5.51" text-anchor="end" fill="#333333" textLength="6.74" lengthAdjust="spacingAndGlyphs">50</text><line x1="401.5" y1="309" x2="403.7" y2="309" stroke="#4d4d4d" stroke-width="0.7" /><text x="399.3" y="311" font-size="5.51" text-anchor="end" fill="#333333" textLength="6.74" lengthAdjust="spacingAndGlyphs">75</text><line x1="401.5" y1="294.5" x2="403.7" y2="294.5" stroke="#4d4d4d" stroke-width="0.7" /><text x="399.3" y="296.5" font-size="5.51" text-anchor="end" fill="#333333" textLength="10.12" lengthAdjust="spacingAndGlyphs">100</text><line x1="401.5" y1="280" x2="403.7" y2="280" stroke="#4d4d4d" stroke-width="0.7" /><text x="399.3" y="282" font-size="5.51" text-anchor="end" fill="#333333" textLength="10.12" lengthAdjust="spacingAndGlyphs">125</text><line x1="401.5" y1="265.5" x2="403.7" y2="265.5" stroke="#4d4d4d" stroke-width="0.7" /><text x="399.3" y="267.5" font-size="5.51" text-anchor="end" fill="#333333" textLength="10.12" lengthAdjust="spacingAndGlyphs">150</text><line x1="401.5" y1="251" x2="403.7" y2="251" stroke="#4d4d4d" stroke-width="0.7" /><text x="399.3" y="253" font-size="5.51" text-anchor="end" fill="#333333" textLength="10.12" lengthAdjust="spacingAndGlyphs">175</text><line x1="401.5" y1="236.5" x2="403.7" y2="236.5" stroke="#4d4d4d" stroke-width="0.7" /><text x="399.3" y="238.5" font-size="5.51" text-anchor="end" fill="#333333" textLength="10.12" lengthAdjust="spacingAndGlyphs">200</text>
<line x1="415.5" y1="318.98" x2="415.5" y2="303.2" stroke="#424242" stroke-width="1" /><line x1="415.5" y1="329.13" x2="415.5" y2="340.03" stroke="#424242" stroke-width="1" /><line x1="410.07" y1="303.2" x2="420.93" y2="303.2" stroke="#424242" stroke-width="1" /><line x1="410.07" y1="340.03" x2="420.93" y2="340.03" stroke="#424242" stroke-width="1" /><rect x="405.8" y="318.98" width="19.4" height="10.15" fill="#5a9fd4" stroke="#424242" stroke-width="1"/><line x1="405.8" y1="324.08" x2="425.2" y2="324.08" stroke="#424242" stroke-width="1" /><path d="M415.5 290.18L416.8 292.18L415.5 294.18L414.2 292.18Z" fill="#3a3a3a"/><path d="M415.5 345.86L416.8 347.86L415.5 349.86L414.2 347.86Z" fill="#3a3a3a"/>
<line x1="439.5" y1="317.12" x2="439.5" y2="306.1" stroke="#424242" stroke-width="1" /><line x1="439.5" y1="324.49" x2="439.5" y2="335.1" stroke="#424242" stroke-width="1" /><line x1="434.07" y1="306.1" x2="444.93" y2="306.1" stroke="#424242" stroke-width="1" /><line x1="434.07" y1="335.1" x2="444.93" y2="335.1" stroke="#424242" stroke-width="1" /><rect x="429.8" y="317.12" width="19.4" height="7.37" fill="#d4a82a" stroke="#424242" stroke-width="1"/><line x1="429.8" y1="321.76" x2="449.2" y2="321.76" stroke="#424242" stroke-width="1" /><path d="M439.5 290.18L440.8 292.18L439.5 294.18L438.2 292.18Z" fill="#3a3a3a"/><path d="M439.5 296.56L440.8 298.56L439.5 300.56L438.2 298.56Z" fill="#3a3a3a"/><path d="M439.5 298.3L440.8 300.3L439.5 302.3L438.2 300.3Z" fill="#3a3a3a"/><path d="M439.5 300.62L440.8 302.62L439.5 304.62L438.2 302.62Z" fill="#3a3a3a"/><path d="M439.5 301.78L440.8 303.78L439.5 305.78L438.2 303.78Z" fill="#3a3a3a"/>
<line x1="464.2" y1="316.54" x2="464.2" y2="303.2" stroke="#424242" stroke-width="1" /><line x1="464.2" y1="326.11" x2="464.2" y2="338" stroke="#424242" stroke-width="1" /><line x1="458.77" y1="303.2" x2="469.63" y2="303.2" stroke="#424242" stroke-width="1" /><line x1="458.77" y1="338" x2="469.63" y2="338" stroke="#424242" stroke-width="1" /><rect x="454.5" y="316.54" width="19.4" height="9.57" fill="#ee7d72" stroke="#424242" stroke-width="1"/><line x1="454.5" y1="321.18" x2="473.9" y2="321.18" stroke="#424242" stroke-width="1" /><path d="M464.2 290.18L465.5 292.18L464.2 294.18L462.9 292.18Z" fill="#3a3a3a"/><path d="M464.2 298.88L465.5 300.88L464.2 302.88L462.9 300.88Z" fill="#3a3a3a"/>
<line x1="488.2" y1="316.54" x2="488.2" y2="302.62" stroke="#424242" stroke-width="1" /><line x1="488.2" y1="326.4" x2="488.2" y2="341.48" stroke="#424242" stroke-width="1" /><line x1="482.77" y1="302.62" x2="493.63" y2="302.62" stroke="#424242" stroke-width="1" /><line x1="482.77" y1="341.48" x2="493.63" y2="341.48" stroke="#424242" stroke-width="1" /><rect x="478.5" y="316.54" width="19.4" height="9.86" fill="#4bb49a" stroke="#424242" stroke-width="1"/><line x1="478.5" y1="321.47" x2="497.9" y2="321.47" stroke="#424242" stroke-width="1" /><path d="M488.2 345.86L489.5 347.86L488.2 349.86L486.9 347.86Z" fill="#3a3a3a"/>
<path d="M415.5 251.9V250.1H488.2V251.9" fill="none" stroke="#3a3a3a" stroke-width="0.9"/><text x="451.85" y="249.4" font-size="8.06" text-anchor="middle" fill="#333" textLength="8.1" lengthAdjust="spacingAndGlyphs">***</text><path d="M439.5 259.3V257.5H488.2V259.3" fill="none" stroke="#3a3a3a" stroke-width="0.9"/><text x="463.85" y="255.9" font-size="6.24" text-anchor="middle" fill="#333" textLength="6.93" lengthAdjust="spacingAndGlyphs">ns</text><path d="M415.5 266.5V264.7H464.2V266.5" fill="none" stroke="#3a3a3a" stroke-width="0.9"/><text x="439.85" y="264" font-size="8.06" text-anchor="middle" fill="#333" textLength="10.8" lengthAdjust="spacingAndGlyphs">****</text><path d="M464.2 273.5V271.7H488.2V273.5" fill="none" stroke="#3a3a3a" stroke-width="0.9"/><text x="476.2" y="270.1" font-size="6.24" text-anchor="middle" fill="#333" textLength="6.93" lengthAdjust="spacingAndGlyphs">ns</text><path d="M439.5 280.9V279.1H464.2V280.9" fill="none" stroke="#3a3a3a" stroke-width="0.9"/><text x="451.85" y="277.5" font-size="6.24" text-anchor="middle" fill="#333" textLength="6.93" lengthAdjust="spacingAndGlyphs">ns</text><path d="M415.5 288.3V286.5H439.5V288.3" fill="none" stroke="#3a3a3a" stroke-width="0.9"/><text x="427.5" y="285.8" font-size="8.06" text-anchor="middle" fill="#333" textLength="10.8" lengthAdjust="spacingAndGlyphs">****</text>
<text x="408.7" y="237.2" font-size="5.97" fill="#333" textLength="78.96" lengthAdjust="spacingAndGlyphs">Kruskal-Wallis P = 6.35e-07</text>
<line x1="415.5" y1="352.5" x2="415.5" y2="354.7" stroke="#4d4d4d" stroke-width="0.7" /><text x="426.7" y="359.6" font-size="6.97" text-anchor="end" fill="#222" textLength="49.5" lengthAdjust="spacingAndGlyphs" transform="rotate(-45 426.7 359.6)">Abundant taxa</text><line x1="439.5" y1="352.5" x2="439.5" y2="354.7" stroke="#4d4d4d" stroke-width="0.7" /><text x="450.7" y="359.6" font-size="6.97" text-anchor="end" fill="#222" textLength="32.28" lengthAdjust="spacingAndGlyphs" transform="rotate(-45 450.7 359.6)">Rare taxa</text><line x1="464.2" y1="352.5" x2="464.2" y2="354.7" stroke="#4d4d4d" stroke-width="0.7" /><text x="475.4" y="359.6" font-size="6.97" text-anchor="end" fill="#222" textLength="37.87" lengthAdjust="spacingAndGlyphs" transform="rotate(-45 475.4 359.6)">Generalists</text><line x1="488.2" y1="352.5" x2="488.2" y2="354.7" stroke="#4d4d4d" stroke-width="0.7" /><text x="499.4" y="359.6" font-size="6.97" text-anchor="end" fill="#222" textLength="35.61" lengthAdjust="spacingAndGlyphs" transform="rotate(-45 499.4 359.6)">Specialists</text>
<text x="382.2" y="288" font-size="8.01" text-anchor="middle" fill="#222" textLength="28.03" lengthAdjust="spacingAndGlyphs" transform="rotate(-90 382.2 288)">Degree</text>
<rect x="551.5" y="225.4" width="96.1" height="126.7" fill="none" stroke="#4d4d4d" stroke-width="0.9"/>
<line x1="549.3" y1="346.1" x2="551.5" y2="346.1" stroke="#4d4d4d" stroke-width="0.7" /><text x="547.1" y="348.1" font-size="5.51" text-anchor="end" fill="#333333" textLength="3.37" lengthAdjust="spacingAndGlyphs">0</text><line x1="549.3" y1="331" x2="551.5" y2="331" stroke="#4d4d4d" stroke-width="0.7" /><text x="547.1" y="333" font-size="5.51" text-anchor="end" fill="#333333" textLength="13.49" lengthAdjust="spacingAndGlyphs">5000</text><line x1="549.3" y1="315.9" x2="551.5" y2="315.9" stroke="#4d4d4d" stroke-width="0.7" /><text x="547.1" y="317.9" font-size="5.51" text-anchor="end" fill="#333333" textLength="16.86" lengthAdjust="spacingAndGlyphs">10000</text><line x1="549.3" y1="300.8" x2="551.5" y2="300.8" stroke="#4d4d4d" stroke-width="0.7" /><text x="547.1" y="302.8" font-size="5.51" text-anchor="end" fill="#333333" textLength="16.86" lengthAdjust="spacingAndGlyphs">15000</text><line x1="549.3" y1="285.7" x2="551.5" y2="285.7" stroke="#4d4d4d" stroke-width="0.7" /><text x="547.1" y="287.7" font-size="5.51" text-anchor="end" fill="#333333" textLength="16.86" lengthAdjust="spacingAndGlyphs">20000</text><line x1="549.3" y1="270.6" x2="551.5" y2="270.6" stroke="#4d4d4d" stroke-width="0.7" /><text x="547.1" y="272.6" font-size="5.51" text-anchor="end" fill="#333333" textLength="16.86" lengthAdjust="spacingAndGlyphs">25000</text><line x1="549.3" y1="255.5" x2="551.5" y2="255.5" stroke="#4d4d4d" stroke-width="0.7" /><text x="547.1" y="257.5" font-size="5.51" text-anchor="end" fill="#333333" textLength="16.86" lengthAdjust="spacingAndGlyphs">30000</text><line x1="549.3" y1="240.4" x2="551.5" y2="240.4" stroke="#4d4d4d" stroke-width="0.7" /><text x="547.1" y="242.4" font-size="5.51" text-anchor="end" fill="#333333" textLength="16.86" lengthAdjust="spacingAndGlyphs">35000</text><line x1="549.3" y1="225.3" x2="551.5" y2="225.3" stroke="#4d4d4d" stroke-width="0.7" /><text x="547.1" y="227.3" font-size="5.51" text-anchor="end" fill="#333333" textLength="16.86" lengthAdjust="spacingAndGlyphs">40000</text>
<line x1="563.5" y1="334.41" x2="563.5" y2="322.24" stroke="#424242" stroke-width="1" /><line x1="563.5" y1="343.68" x2="563.5" y2="346.1" stroke="#424242" stroke-width="1" /><line x1="558.07" y1="322.24" x2="568.93" y2="322.24" stroke="#424242" stroke-width="1" /><line x1="558.07" y1="346.1" x2="568.93" y2="346.1" stroke="#424242" stroke-width="1" /><rect x="553.8" y="334.41" width="19.4" height="9.27" fill="#5a9fd4" stroke="#424242" stroke-width="1"/><line x1="553.8" y1="340.06" x2="573.2" y2="340.06" stroke="#424242" stroke-width="1" /><path d="M563.5 296.99L564.8 298.99L563.5 300.99L562.2 298.99Z" fill="#3a3a3a"/><path d="M563.5 303.03L564.8 305.03L563.5 307.03L562.2 305.03Z" fill="#3a3a3a"/><path d="M563.5 309.97L564.8 311.97L563.5 313.97L562.2 311.97Z" fill="#3a3a3a"/><path d="M563.5 316.01L564.8 318.01L563.5 320.01L562.2 318.01Z" fill="#3a3a3a"/><path d="M563.5 317.98L564.8 319.98L563.5 321.98L562.2 319.98Z" fill="#3a3a3a"/><path d="M563.5 320L564.8 322L563.5 324L562.2 322Z" fill="#3a3a3a"/>
<line x1="587.5" y1="333.72" x2="587.5" y2="323" stroke="#424242" stroke-width="1" /><line x1="587.5" y1="341.27" x2="587.5" y2="346.1" stroke="#424242" stroke-width="1" /><line x1="582.07" y1="323" x2="592.93" y2="323" stroke="#424242" stroke-width="1" /><line x1="582.07" y1="346.1" x2="592.93" y2="346.1" stroke="#424242" stroke-width="1" /><rect x="577.8" y="333.72" width="19.4" height="7.55" fill="#d4a82a" stroke="#424242" stroke-width="1"/><line x1="577.8" y1="338.1" x2="597.2" y2="338.1" stroke="#424242" stroke-width="1" /><path d="M587.5 288.23L588.8 290.23L587.5 292.23L586.2 290.23Z" fill="#3a3a3a"/><path d="M587.5 290.34L588.8 292.34L587.5 294.34L586.2 292.34Z" fill="#3a3a3a"/><path d="M587.5 293.36L588.8 295.36L587.5 297.36L586.2 295.36Z" fill="#3a3a3a"/><path d="M587.5 298.8L588.8 300.8L587.5 302.8L586.2 300.8Z" fill="#3a3a3a"/><path d="M587.5 301.82L588.8 303.82L587.5 305.82L586.2 303.82Z" fill="#3a3a3a"/><path d="M587.5 307.86L588.8 309.86L587.5 311.86L586.2 309.86Z" fill="#3a3a3a"/><path d="M587.5 309.37L588.8 311.37L587.5 313.37L586.2 311.37Z" fill="#3a3a3a"/><path d="M587.5 310.88L588.8 312.88L587.5 314.88L586.2 312.88Z" fill="#3a3a3a"/><path d="M587.5 312.39L588.8 314.39L587.5 316.39L586.2 314.39Z" fill="#3a3a3a"/><path d="M587.5 313.9L588.8 315.9L587.5 317.9L586.2 315.9Z" fill="#3a3a3a"/><path d="M587.5 315.41L588.8 317.41L587.5 319.41L586.2 317.41Z" fill="#3a3a3a"/><path d="M587.5 316.92L588.8 318.92L587.5 320.92L586.2 318.92Z" fill="#3a3a3a"/><path d="M587.5 318.43L588.8 320.43L587.5 322.43L586.2 320.43Z" fill="#3a3a3a"/><path d="M587.5 319.94L588.8 321.94L587.5 323.94L586.2 321.94Z" fill="#3a3a3a"/>
<line x1="611.6" y1="333.11" x2="611.6" y2="318.32" stroke="#424242" stroke-width="1" /><line x1="611.6" y1="343.68" x2="611.6" y2="346.1" stroke="#424242" stroke-width="1" /><line x1="606.17" y1="318.32" x2="617.03" y2="318.32" stroke="#424242" stroke-width="1" /><line x1="606.17" y1="346.1" x2="617.03" y2="346.1" stroke="#424242" stroke-width="1" /><rect x="601.9" y="333.11" width="19.4" height="10.57" fill="#ee7d72" stroke="#424242" stroke-width="1"/><line x1="601.9" y1="339.15" x2="621.3" y2="339.15" stroke="#424242" stroke-width="1" /><path d="M611.6 296.99L612.9 298.99L611.6 300.99L610.3 298.99Z" fill="#3a3a3a"/><path d="M611.6 303.03L612.9 305.03L611.6 307.03L610.3 305.03Z" fill="#3a3a3a"/><path d="M611.6 307.86L612.9 309.86L611.6 311.86L610.3 309.86Z" fill="#3a3a3a"/><path d="M611.6 313.9L612.9 315.9L611.6 317.9L610.3 315.9Z" fill="#3a3a3a"/>
<line x1="635.6" y1="337.04" x2="635.6" y2="327.07" stroke="#424242" stroke-width="1" /><line x1="635.6" y1="343.68" x2="635.6" y2="346.1" stroke="#424242" stroke-width="1" /><line x1="630.17" y1="327.07" x2="641.03" y2="327.07" stroke="#424242" stroke-width="1" /><line x1="630.17" y1="346.1" x2="641.03" y2="346.1" stroke="#424242" stroke-width="1" /><rect x="625.9" y="337.04" width="19.4" height="6.64" fill="#4bb49a" stroke="#424242" stroke-width="1"/><line x1="625.9" y1="339.76" x2="645.3" y2="339.76" stroke="#424242" stroke-width="1" /><path d="M635.6 299.4L636.9 301.4L635.6 303.4L634.3 301.4Z" fill="#3a3a3a"/><path d="M635.6 301.82L636.9 303.82L635.6 305.82L634.3 303.82Z" fill="#3a3a3a"/><path d="M635.6 313.9L636.9 315.9L635.6 317.9L634.3 315.9Z" fill="#3a3a3a"/><path d="M635.6 320.85L636.9 322.85L635.6 324.85L634.3 322.85Z" fill="#3a3a3a"/><path d="M635.6 322.36L636.9 324.36L635.6 326.36L634.3 324.36Z" fill="#3a3a3a"/><path d="M635.6 323.87L636.9 325.87L635.6 327.87L634.3 325.87Z" fill="#3a3a3a"/>
<path d="M563.5 251.3V249.5H635.6V251.3" fill="none" stroke="#3a3a3a" stroke-width="0.9"/><text x="599.55" y="247.9" font-size="6.24" text-anchor="middle" fill="#333" textLength="6.93" lengthAdjust="spacingAndGlyphs">ns</text><path d="M587.5 258.8V257H635.6V258.8" fill="none" stroke="#3a3a3a" stroke-width="0.9"/><text x="611.55" y="256.3" font-size="8.06" text-anchor="middle" fill="#333" textLength="10.8" lengthAdjust="spacingAndGlyphs">****</text><path d="M563.5 265.8V264H611.6V265.8" fill="none" stroke="#3a3a3a" stroke-width="0.9"/><text x="587.55" y="262.4" font-size="6.24" text-anchor="middle" fill="#333" textLength="6.93" lengthAdjust="spacingAndGlyphs">ns</text><path d="M611.6 273.5V271.7H635.6V273.5" fill="none" stroke="#3a3a3a" stroke-width="0.9"/><text x="623.6" y="270.1" font-size="6.24" text-anchor="middle" fill="#333" textLength="6.93" lengthAdjust="spacingAndGlyphs">ns</text><path d="M587.5 280.8V279H611.6V280.8" fill="none" stroke="#3a3a3a" stroke-width="0.9"/><text x="599.55" y="277.4" font-size="6.24" text-anchor="middle" fill="#333" textLength="6.93" lengthAdjust="spacingAndGlyphs">ns</text><path d="M563.5 287.3V285.5H587.5V287.3" fill="none" stroke="#3a3a3a" stroke-width="0.9"/><text x="575.5" y="284.8" font-size="8.06" text-anchor="middle" fill="#333" textLength="10.8" lengthAdjust="spacingAndGlyphs">****</text>
<text x="556.7" y="237.6" font-size="5.97" fill="#333" textLength="78.96" lengthAdjust="spacingAndGlyphs">Kruskal-Wallis P = 2.58e-07</text>
<line x1="563.5" y1="352.1" x2="563.5" y2="354.3" stroke="#4d4d4d" stroke-width="0.7" /><text x="574.7" y="359.2" font-size="6.97" text-anchor="end" fill="#222" textLength="49.5" lengthAdjust="spacingAndGlyphs" transform="rotate(-45 574.7 359.2)">Abundant taxa</text><line x1="587.5" y1="352.1" x2="587.5" y2="354.3" stroke="#4d4d4d" stroke-width="0.7" /><text x="598.7" y="359.2" font-size="6.97" text-anchor="end" fill="#222" textLength="32.28" lengthAdjust="spacingAndGlyphs" transform="rotate(-45 598.7 359.2)">Rare taxa</text><line x1="611.6" y1="352.1" x2="611.6" y2="354.3" stroke="#4d4d4d" stroke-width="0.7" /><text x="622.8" y="359.2" font-size="6.97" text-anchor="end" fill="#222" textLength="37.87" lengthAdjust="spacingAndGlyphs" transform="rotate(-45 622.8 359.2)">Generalists</text><line x1="635.6" y1="352.1" x2="635.6" y2="354.3" stroke="#4d4d4d" stroke-width="0.7" /><text x="646.8" y="359.2" font-size="6.97" text-anchor="end" fill="#222" textLength="35.61" lengthAdjust="spacingAndGlyphs" transform="rotate(-45 646.8 359.2)">Specialists</text>
<text x="522" y="286" font-size="8.01" text-anchor="middle" fill="#222" textLength="51.33" lengthAdjust="spacingAndGlyphs" transform="rotate(-90 522 286)">Betweenness</text>
<rect x="696" y="226.8" width="95.4" height="125.5" fill="none" stroke="#4d4d4d" stroke-width="0.9"/>
<line x1="693.8" y1="352.5" x2="696" y2="352.5" stroke="#4d4d4d" stroke-width="0.7" /><text x="691.6" y="354.5" font-size="5.51" text-anchor="end" fill="#333333" textLength="8.43" lengthAdjust="spacingAndGlyphs">0.4</text><line x1="693.8" y1="331.6" x2="696" y2="331.6" stroke="#4d4d4d" stroke-width="0.7" /><text x="691.6" y="333.6" font-size="5.51" text-anchor="end" fill="#333333" textLength="8.43" lengthAdjust="spacingAndGlyphs">0.6</text><line x1="693.8" y1="310.7" x2="696" y2="310.7" stroke="#4d4d4d" stroke-width="0.7" /><text x="691.6" y="312.7" font-size="5.51" text-anchor="end" fill="#333333" textLength="8.43" lengthAdjust="spacingAndGlyphs">0.8</text><line x1="693.8" y1="289.8" x2="696" y2="289.8" stroke="#4d4d4d" stroke-width="0.7" /><text x="691.6" y="291.8" font-size="5.51" text-anchor="end" fill="#333333" textLength="8.43" lengthAdjust="spacingAndGlyphs">1.0</text><line x1="693.8" y1="268.9" x2="696" y2="268.9" stroke="#4d4d4d" stroke-width="0.7" /><text x="691.6" y="270.9" font-size="5.51" text-anchor="end" fill="#333333" textLength="8.43" lengthAdjust="spacingAndGlyphs">1.2</text><line x1="693.8" y1="248" x2="696" y2="248" stroke="#4d4d4d" stroke-width="0.7" /><text x="691.6" y="250" font-size="5.51" text-anchor="end" fill="#333333" textLength="8.43" lengthAdjust="spacingAndGlyphs">1.4</text><line x1="693.8" y1="227.1" x2="696" y2="227.1" stroke="#4d4d4d" stroke-width="0.7" /><text x="691.6" y="229.1" font-size="5.51" text-anchor="end" fill="#333333" textLength="8.43" lengthAdjust="spacingAndGlyphs">1.6</text>
<line x1="707.8" y1="298.47" x2="707.8" y2="291.05" stroke="#424242" stroke-width="1" /><line x1="707.8" y1="313" x2="707.8" y2="331.6" stroke="#424242" stroke-width="1" /><line x1="702.42" y1="291.05" x2="713.18" y2="291.05" stroke="#424242" stroke-width="1" /><line x1="702.42" y1="331.6" x2="713.18" y2="331.6" stroke="#424242" stroke-width="1" /><rect x="698.2" y="298.47" width="19.2" height="14.53" fill="#5a9fd4" stroke="#424242" stroke-width="1"/><line x1="698.2" y1="304.95" x2="717.4" y2="304.95" stroke="#424242" stroke-width="1" /><path d="M707.8 339.32L709.1 341.32L707.8 343.32L706.5 341.32Z" fill="#3a3a3a"/>
<line x1="731.7" y1="296.38" x2="731.7" y2="289.8" stroke="#424242" stroke-width="1" /><line x1="731.7" y1="305.79" x2="731.7" y2="319.79" stroke="#424242" stroke-width="1" /><line x1="726.32" y1="289.8" x2="737.08" y2="289.8" stroke="#424242" stroke-width="1" /><line x1="726.32" y1="319.79" x2="737.08" y2="319.79" stroke="#424242" stroke-width="1" /><rect x="722.1" y="296.38" width="19.2" height="9.4" fill="#d4a82a" stroke="#424242" stroke-width="1"/><line x1="722.1" y1="300.25" x2="741.3" y2="300.25" stroke="#424242" stroke-width="1" /><path d="M731.7 320.19L733 322.19L731.7 324.19L730.4 322.19Z" fill="#3a3a3a"/><path d="M731.7 321.24L733 323.24L731.7 325.24L730.4 323.24Z" fill="#3a3a3a"/><path d="M731.7 322.29L733 324.29L731.7 326.29L730.4 324.29Z" fill="#3a3a3a"/><path d="M731.7 323.33L733 325.33L731.7 327.33L730.4 325.33Z" fill="#3a3a3a"/><path d="M731.7 324.38L733 326.38L731.7 328.38L730.4 326.38Z" fill="#3a3a3a"/><path d="M731.7 325.42L733 327.42L731.7 329.42L730.4 327.42Z" fill="#3a3a3a"/><path d="M731.7 326.47L733 328.47L731.7 330.47L730.4 328.47Z" fill="#3a3a3a"/><path d="M731.7 327.51L733 329.51L731.7 331.51L730.4 329.51Z" fill="#3a3a3a"/>
<line x1="755.3" y1="296.28" x2="755.3" y2="289.49" stroke="#424242" stroke-width="1" /><line x1="755.3" y1="306.52" x2="755.3" y2="320.63" stroke="#424242" stroke-width="1" /><line x1="749.92" y1="289.49" x2="760.68" y2="289.49" stroke="#424242" stroke-width="1" /><line x1="749.92" y1="320.63" x2="760.68" y2="320.63" stroke="#424242" stroke-width="1" /><rect x="745.7" y="296.28" width="19.2" height="10.24" fill="#ee7d72" stroke="#424242" stroke-width="1"/><line x1="745.7" y1="300.25" x2="764.9" y2="300.25" stroke="#424242" stroke-width="1" /><path d="M755.3 321.24L756.6 323.24L755.3 325.24L754 323.24Z" fill="#3a3a3a"/><path d="M755.3 322.29L756.6 324.29L755.3 326.29L754 324.29Z" fill="#3a3a3a"/><path d="M755.3 323.33L756.6 325.33L755.3 327.33L754 325.33Z" fill="#3a3a3a"/><path d="M755.3 325.42L756.6 327.42L755.3 329.42L754 327.42Z" fill="#3a3a3a"/><path d="M755.3 327.51L756.6 329.51L755.3 331.51L754 329.51Z" fill="#3a3a3a"/><path d="M755.3 329.6L756.6 331.6L755.3 333.6L754 331.6Z" fill="#3a3a3a"/>
<line x1="779.2" y1="299.73" x2="779.2" y2="291.58" stroke="#424242" stroke-width="1" /><line x1="779.2" y1="311.75" x2="779.2" y2="329.2" stroke="#424242" stroke-width="1" /><line x1="773.82" y1="291.58" x2="784.58" y2="291.58" stroke="#424242" stroke-width="1" /><line x1="773.82" y1="329.2" x2="784.58" y2="329.2" stroke="#424242" stroke-width="1" /><rect x="769.6" y="299.73" width="19.2" height="12.02" fill="#4bb49a" stroke="#424242" stroke-width="1"/><line x1="769.6" y1="304.43" x2="788.8" y2="304.43" stroke="#424242" stroke-width="1" /><path d="M779.2 339.32L780.5 341.32L779.2 343.32L777.9 341.32Z" fill="#3a3a3a"/>
<path d="M707.8 252.8V251H779.2V252.8" fill="none" stroke="#3a3a3a" stroke-width="0.9"/><text x="743.5" y="249.4" font-size="6.24" text-anchor="middle" fill="#333" textLength="6.93" lengthAdjust="spacingAndGlyphs">ns</text><path d="M731.7 259.4V257.6H779.2V259.4" fill="none" stroke="#3a3a3a" stroke-width="0.9"/><text x="755.45" y="256.9" font-size="8.06" text-anchor="middle" fill="#333" textLength="10.8" lengthAdjust="spacingAndGlyphs">****</text><path d="M707.8 266.4V264.6H755.3V266.4" fill="none" stroke="#3a3a3a" stroke-width="0.9"/><text x="731.55" y="263.9" font-size="8.06" text-anchor="middle" fill="#333" textLength="10.8" lengthAdjust="spacingAndGlyphs">****</text><path d="M755.3 273.3V271.5H779.2V273.3" fill="none" stroke="#3a3a3a" stroke-width="0.9"/><text x="767.25" y="270.8" font-size="8.06" text-anchor="middle" fill="#333" textLength="10.8" lengthAdjust="spacingAndGlyphs">****</text><path d="M731.7 280.3V278.5H755.3V280.3" fill="none" stroke="#3a3a3a" stroke-width="0.9"/><text x="743.5" y="276.9" font-size="6.24" text-anchor="middle" fill="#333" textLength="6.93" lengthAdjust="spacingAndGlyphs">ns</text><path d="M707.8 287.3V285.5H731.7V287.3" fill="none" stroke="#3a3a3a" stroke-width="0.9"/><text x="719.75" y="284.8" font-size="8.06" text-anchor="middle" fill="#333" textLength="10.8" lengthAdjust="spacingAndGlyphs">****</text>
<text x="700.9" y="239" font-size="5.97" fill="#333" textLength="78.96" lengthAdjust="spacingAndGlyphs">Kruskal-Wallis P = 6.19e-12</text>
<text x="696.5" y="224.8" font-size="5.51" fill="#333333" textLength="14.45" lengthAdjust="spacingAndGlyphs">1e−6</text>
<line x1="707.8" y1="352.3" x2="707.8" y2="354.5" stroke="#4d4d4d" stroke-width="0.7" /><text x="719" y="359.4" font-size="6.97" text-anchor="end" fill="#222" textLength="49.5" lengthAdjust="spacingAndGlyphs" transform="rotate(-45 719 359.4)">Abundant taxa</text><line x1="731.7" y1="352.3" x2="731.7" y2="354.5" stroke="#4d4d4d" stroke-width="0.7" /><text x="742.9" y="359.4" font-size="6.97" text-anchor="end" fill="#222" textLength="32.28" lengthAdjust="spacingAndGlyphs" transform="rotate(-45 742.9 359.4)">Rare taxa</text><line x1="755.3" y1="352.3" x2="755.3" y2="354.5" stroke="#4d4d4d" stroke-width="0.7" /><text x="766.5" y="359.4" font-size="6.97" text-anchor="end" fill="#222" textLength="37.87" lengthAdjust="spacingAndGlyphs" transform="rotate(-45 766.5 359.4)">Generalists</text><line x1="779.2" y1="352.3" x2="779.2" y2="354.5" stroke="#4d4d4d" stroke-width="0.7" /><text x="790.4" y="359.4" font-size="6.97" text-anchor="end" fill="#222" textLength="35.61" lengthAdjust="spacingAndGlyphs" transform="rotate(-45 790.4 359.4)">Specialists</text>
<text x="673" y="289" font-size="8.01" text-anchor="middle" fill="#222" textLength="38.62" lengthAdjust="spacingAndGlyphs" transform="rotate(-90 673 289)">Closeness</text>
<text x="9.4" y="403.75" font-size="14" fill="#000" font-weight="bold">d</text>
<text x="43.2" y="409.7" font-size="10.25" fill="#1a1a1a" textLength="220.4" lengthAdjust="spacingAndGlyphs">Edge weights of the network for each ecosystem</text>
<circle cx="55" cy="463" r="30.4" fill="#1f8ff2"/><path d="M55 463L55 432.6A30.4 30.4 0 0 1 78.3 482.52Z" fill="#7bb9f6"/>
<text x="57.05" y="428" font-size="9.15" text-anchor="middle" fill="#1a1a1a" textLength="36.05" lengthAdjust="spacingAndGlyphs">Wetland</text>
<text x="76.6" y="439.9" font-size="5.36" fill="#222" textLength="23.11" lengthAdjust="spacingAndGlyphs">Negative</text>
<text x="21" y="495.2" font-size="5.36" fill="#222" textLength="19.85" lengthAdjust="spacingAndGlyphs">Positive</text>
<text x="69.5" y="458.6" font-size="5.51" text-anchor="middle" fill="#1a1a1a" textLength="16.84" lengthAdjust="spacingAndGlyphs">36.1%</text>
<text x="43.2" y="474.6" font-size="5.51" text-anchor="middle" fill="#1a1a1a" textLength="16.84" lengthAdjust="spacingAndGlyphs">63.9%</text>
<circle cx="145.2" cy="461.6" r="30.2" fill="#49ae95"/><path d="M145.2 461.6L145.2 431.4A30.2 30.2 0 0 1 172.61 474.29Z" fill="#88cfbb"/>
<text x="147.55" y="427.1" font-size="9.15" text-anchor="middle" fill="#1a1a1a" textLength="73.51" lengthAdjust="spacingAndGlyphs">Forest/Woodland</text>
<text x="167" y="437.7" font-size="5.36" fill="#222" textLength="23.11" lengthAdjust="spacingAndGlyphs">Negative</text>
<text x="111.2" y="492.4" font-size="5.36" fill="#222" textLength="19.85" lengthAdjust="spacingAndGlyphs">Positive</text>
<text x="160.6" y="455.5" font-size="5.51" text-anchor="middle" fill="#1a1a1a" textLength="16.84" lengthAdjust="spacingAndGlyphs">31.9%</text>
<text x="134.5" y="472.2" font-size="5.51" text-anchor="middle" fill="#1a1a1a" textLength="16.84" lengthAdjust="spacingAndGlyphs">68.1%</text>
<circle cx="235" cy="462.6" r="29.6" fill="#a0522d"/><path d="M235 462.6L235 433A29.6 29.6 0 0 1 259.16 479.7Z" fill="#c08b73"/>
<text x="239.15" y="429" font-size="9.15" text-anchor="middle" fill="#1a1a1a" textLength="52.43" lengthAdjust="spacingAndGlyphs">Herbaceous</text>
<text x="255" y="439.3" font-size="5.36" fill="#222" textLength="23.11" lengthAdjust="spacingAndGlyphs">Negative</text>
<text x="200" y="492.8" font-size="5.36" fill="#222" textLength="19.85" lengthAdjust="spacingAndGlyphs">Positive</text>
<text x="249.8" y="456.2" font-size="5.51" text-anchor="middle" fill="#1a1a1a" textLength="16.84" lengthAdjust="spacingAndGlyphs">34.8%</text>
<text x="222.5" y="472.9" font-size="5.51" text-anchor="middle" fill="#1a1a1a" textLength="16.84" lengthAdjust="spacingAndGlyphs">65.2%</text>
<circle cx="55.9" cy="545.7" r="31" fill="#cc5b50"/><path d="M55.9 545.7L55.9 514.7A31 31 0 0 1 86.68 549.39Z" fill="#e6aba3"/>
<text x="56.6" y="510.7" font-size="9.15" text-anchor="middle" fill="#1a1a1a" textLength="44.95" lengthAdjust="spacingAndGlyphs">Shrubland</text>
<text x="74.9" y="520" font-size="5.36" fill="#222" textLength="23.11" lengthAdjust="spacingAndGlyphs">Negative</text>
<text x="23.8" y="579" font-size="5.36" fill="#222" textLength="19.85" lengthAdjust="spacingAndGlyphs">Positive</text>
<text x="68.5" y="537.9" font-size="5.51" text-anchor="middle" fill="#1a1a1a" textLength="16.84" lengthAdjust="spacingAndGlyphs">26.9%</text>
<text x="44.7" y="557.6" font-size="5.51" text-anchor="middle" fill="#1a1a1a" textLength="16.84" lengthAdjust="spacingAndGlyphs">73.1%</text>
<circle cx="148.8" cy="546.6" r="30.6" fill="#a877c7"/><path d="M148.8 546.6L148.8 516A30.6 30.6 0 0 1 174.74 562.83Z" fill="#d6b5e2"/>
<text x="151" y="509.5" font-size="9.15" text-anchor="middle" fill="#1a1a1a" textLength="72.13" lengthAdjust="spacingAndGlyphs">Steppe/Savanna</text>
<text x="166.5" y="518.9" font-size="5.36" fill="#222" textLength="23.11" lengthAdjust="spacingAndGlyphs">Negative</text>
<text x="113.7" y="579" font-size="5.36" fill="#222" textLength="19.85" lengthAdjust="spacingAndGlyphs">Positive</text>
<text x="162.4" y="541" font-size="5.51" text-anchor="middle" fill="#1a1a1a" textLength="16.84" lengthAdjust="spacingAndGlyphs">33.9%</text>
<text x="136.3" y="556" font-size="5.51" text-anchor="middle" fill="#1a1a1a" textLength="16.84" lengthAdjust="spacingAndGlyphs">66.1%</text>
<circle cx="236.2" cy="546.7" r="30" fill="#676767"/><path d="M236.2 546.7L236.2 516.7A30 30 0 0 1 263.1 559.98Z" fill="#d4d4d7"/>
<text x="236.05" y="510.5" font-size="9.15" text-anchor="middle" fill="#1a1a1a" textLength="29.31" lengthAdjust="spacingAndGlyphs">Barren</text>
<text x="253" y="519" font-size="5.36" fill="#222" textLength="23.11" lengthAdjust="spacingAndGlyphs">Negative</text>
<text x="201.7" y="577" font-size="5.36" fill="#222" textLength="19.85" lengthAdjust="spacingAndGlyphs">Positive</text>
<text x="249.5" y="539.6" font-size="5.51" text-anchor="middle" fill="#1a1a1a" textLength="16.84" lengthAdjust="spacingAndGlyphs">32.3%</text>
<text x="225.5" y="556" font-size="5.51" text-anchor="middle" fill="#1a1a1a" textLength="16.84" lengthAdjust="spacingAndGlyphs">67.7%</text>
<text x="293.6" y="404.6" font-size="14" fill="#000" font-weight="bold">e</text>
<text x="355.5" y="411.6" font-size="10.25" fill="#1a1a1a" textLength="398.5" lengthAdjust="spacingAndGlyphs">Node degree, betweenness, and closeness centrality of the network for each ecosystem</text>
<rect x="318.3" y="422.5" width="130.2" height="128.6" fill="none" stroke="#4d4d4d" stroke-width="0.9"/>
<line x1="316.1" y1="547.5" x2="318.3" y2="547.5" stroke="#4d4d4d" stroke-width="0.7" /><text x="313.9" y="549.5" font-size="5.51" text-anchor="end" fill="#333333" textLength="3.37" lengthAdjust="spacingAndGlyphs">0</text><line x1="316.1" y1="531.9" x2="318.3" y2="531.9" stroke="#4d4d4d" stroke-width="0.7" /><text x="313.9" y="533.9" font-size="5.51" text-anchor="end" fill="#333333" textLength="6.74" lengthAdjust="spacingAndGlyphs">20</text><line x1="316.1" y1="516.3" x2="318.3" y2="516.3" stroke="#4d4d4d" stroke-width="0.7" /><text x="313.9" y="518.3" font-size="5.51" text-anchor="end" fill="#333333" textLength="6.74" lengthAdjust="spacingAndGlyphs">40</text><line x1="316.1" y1="500.7" x2="318.3" y2="500.7" stroke="#4d4d4d" stroke-width="0.7" /><text x="313.9" y="502.7" font-size="5.51" text-anchor="end" fill="#333333" textLength="6.74" lengthAdjust="spacingAndGlyphs">60</text><line x1="316.1" y1="485.1" x2="318.3" y2="485.1" stroke="#4d4d4d" stroke-width="0.7" /><text x="313.9" y="487.1" font-size="5.51" text-anchor="end" fill="#333333" textLength="6.74" lengthAdjust="spacingAndGlyphs">80</text><line x1="316.1" y1="469.5" x2="318.3" y2="469.5" stroke="#4d4d4d" stroke-width="0.7" /><text x="313.9" y="471.5" font-size="5.51" text-anchor="end" fill="#333333" textLength="10.12" lengthAdjust="spacingAndGlyphs">100</text><line x1="316.1" y1="453.9" x2="318.3" y2="453.9" stroke="#4d4d4d" stroke-width="0.7" /><text x="313.9" y="455.9" font-size="5.51" text-anchor="end" fill="#333333" textLength="10.12" lengthAdjust="spacingAndGlyphs">120</text><line x1="316.1" y1="438.3" x2="318.3" y2="438.3" stroke="#4d4d4d" stroke-width="0.7" /><text x="313.9" y="440.3" font-size="5.51" text-anchor="end" fill="#333333" textLength="10.12" lengthAdjust="spacingAndGlyphs">140</text><line x1="316.1" y1="422.7" x2="318.3" y2="422.7" stroke="#4d4d4d" stroke-width="0.7" /><text x="313.9" y="424.7" font-size="5.51" text-anchor="end" fill="#333333" textLength="10.12" lengthAdjust="spacingAndGlyphs">160</text>
<line x1="329.4" y1="524.1" x2="329.4" y2="507.49" stroke="#424242" stroke-width="1" /><line x1="329.4" y1="535.1" x2="329.4" y2="546.72" stroke="#424242" stroke-width="1" /><line x1="324.47" y1="507.49" x2="334.33" y2="507.49" stroke="#424242" stroke-width="1" /><line x1="324.47" y1="546.72" x2="334.33" y2="546.72" stroke="#424242" stroke-width="1" /><rect x="320.6" y="524.1" width="17.6" height="11" fill="#cd6358" stroke="#424242" stroke-width="1"/><line x1="320.6" y1="529.09" x2="338.2" y2="529.09" stroke="#424242" stroke-width="1" />
<line x1="351.1" y1="522.54" x2="351.1" y2="506.47" stroke="#424242" stroke-width="1" /><line x1="351.1" y1="533.46" x2="351.1" y2="546.1" stroke="#424242" stroke-width="1" /><line x1="346.17" y1="506.47" x2="356.03" y2="506.47" stroke="#424242" stroke-width="1" /><line x1="346.17" y1="546.1" x2="356.03" y2="546.1" stroke="#424242" stroke-width="1" /><rect x="342.3" y="522.54" width="17.6" height="10.92" fill="#2f8fef" stroke="#424242" stroke-width="1"/><line x1="342.3" y1="528.47" x2="359.9" y2="528.47" stroke="#424242" stroke-width="1" />
<line x1="372.6" y1="522.54" x2="372.6" y2="506.47" stroke="#424242" stroke-width="1" /><line x1="372.6" y1="533.46" x2="372.6" y2="546.1" stroke="#424242" stroke-width="1" /><line x1="367.67" y1="506.47" x2="377.53" y2="506.47" stroke="#424242" stroke-width="1" /><line x1="367.67" y1="546.1" x2="377.53" y2="546.1" stroke="#424242" stroke-width="1" /><rect x="363.8" y="522.54" width="17.6" height="10.92" fill="#676767" stroke="#424242" stroke-width="1"/><line x1="363.8" y1="528.47" x2="381.4" y2="528.47" stroke="#424242" stroke-width="1" />
<line x1="394.3" y1="521.76" x2="394.3" y2="506.71" stroke="#424242" stroke-width="1" /><line x1="394.3" y1="531.67" x2="394.3" y2="545.55" stroke="#424242" stroke-width="1" /><line x1="389.37" y1="506.71" x2="399.23" y2="506.71" stroke="#424242" stroke-width="1" /><line x1="389.37" y1="545.55" x2="399.23" y2="545.55" stroke="#424242" stroke-width="1" /><rect x="385.5" y="521.76" width="17.6" height="9.91" fill="#47ad95" stroke="#424242" stroke-width="1"/><line x1="385.5" y1="526.13" x2="403.1" y2="526.13" stroke="#424242" stroke-width="1" />
<line x1="416" y1="522.54" x2="416" y2="508.5" stroke="#424242" stroke-width="1" /><line x1="416" y1="531.67" x2="416" y2="545.55" stroke="#424242" stroke-width="1" /><line x1="411.07" y1="508.5" x2="420.93" y2="508.5" stroke="#424242" stroke-width="1" /><line x1="411.07" y1="545.55" x2="420.93" y2="545.55" stroke="#424242" stroke-width="1" /><rect x="407.2" y="522.54" width="17.6" height="9.13" fill="#a1542f" stroke="#424242" stroke-width="1"/><line x1="407.2" y1="526.13" x2="424.8" y2="526.13" stroke="#424242" stroke-width="1" />
<line x1="437.7" y1="521.76" x2="437.7" y2="506.71" stroke="#424242" stroke-width="1" /><line x1="437.7" y1="531.67" x2="437.7" y2="545.55" stroke="#424242" stroke-width="1" /><line x1="432.77" y1="506.71" x2="442.63" y2="506.71" stroke="#424242" stroke-width="1" /><line x1="432.77" y1="545.55" x2="442.63" y2="545.55" stroke="#424242" stroke-width="1" /><rect x="428.9" y="521.76" width="17.6" height="9.91" fill="#a77bc8" stroke="#424242" stroke-width="1"/><line x1="428.9" y1="526.13" x2="446.5" y2="526.13" stroke="#424242" stroke-width="1" />
<path d="M329.4 445.1V443.3H437.7V445.1" fill="none" stroke="#3a3a3a" stroke-width="0.8"/><text x="383.55" y="442.6" font-size="8.06" text-anchor="middle" fill="#333" textLength="10.8" lengthAdjust="spacingAndGlyphs">****</text><path d="M351.1 450.7V448.9H437.7V450.7" fill="none" stroke="#3a3a3a" stroke-width="0.8"/><text x="394.4" y="448.2" font-size="8.06" text-anchor="middle" fill="#333" textLength="10.8" lengthAdjust="spacingAndGlyphs">****</text><path d="M329.4 456.3V454.5H416V456.3" fill="none" stroke="#3a3a3a" stroke-width="0.8"/><text x="372.7" y="453.8" font-size="8.06" text-anchor="middle" fill="#333" textLength="10.8" lengthAdjust="spacingAndGlyphs">****</text><path d="M372.6 461.8V460H437.7V461.8" fill="none" stroke="#3a3a3a" stroke-width="0.8"/><text x="405.15" y="459.3" font-size="8.06" text-anchor="middle" fill="#333" textLength="8.1" lengthAdjust="spacingAndGlyphs">***</text><path d="M351.1 467V465.2H416V467" fill="none" stroke="#3a3a3a" stroke-width="0.8"/><text x="383.55" y="464.5" font-size="8.06" text-anchor="middle" fill="#333" textLength="8.1" lengthAdjust="spacingAndGlyphs">***</text><path d="M329.4 472.6V470.8H394.3V472.6" fill="none" stroke="#3a3a3a" stroke-width="0.8"/><text x="361.85" y="470.1" font-size="8.06" text-anchor="middle" fill="#333" textLength="10.8" lengthAdjust="spacingAndGlyphs">****</text><path d="M372.6 477.8V476H416V477.8" fill="none" stroke="#3a3a3a" stroke-width="0.8"/><text x="394.3" y="475.3" font-size="8.06" text-anchor="middle" fill="#333" textLength="5.4" lengthAdjust="spacingAndGlyphs">**</text><path d="M394.3 483.1V481.3H437.7V483.1" fill="none" stroke="#3a3a3a" stroke-width="0.8"/><text x="416" y="479.7" font-size="6.24" text-anchor="middle" fill="#333" textLength="6.93" lengthAdjust="spacingAndGlyphs">ns</text><path d="M351.1 488.4V486.6H394.3V488.4" fill="none" stroke="#3a3a3a" stroke-width="0.8"/><text x="372.7" y="485.9" font-size="8.06" text-anchor="middle" fill="#333" textLength="10.8" lengthAdjust="spacingAndGlyphs">****</text><path d="M329.4 493.6V491.8H372.6V493.6" fill="none" stroke="#3a3a3a" stroke-width="0.8"/><text x="351" y="491.1" font-size="8.06" text-anchor="middle" fill="#333" textLength="5.4" lengthAdjust="spacingAndGlyphs">**</text><path d="M416 493.6V491.8H437.7V493.6" fill="none" stroke="#3a3a3a" stroke-width="0.8"/><text x="426.85" y="490.2" font-size="6.24" text-anchor="middle" fill="#333" textLength="6.93" lengthAdjust="spacingAndGlyphs">ns</text><path d="M351.1 499.2V497.4H372.6V499.2" fill="none" stroke="#3a3a3a" stroke-width="0.8"/><text x="361.85" y="495.8" font-size="6.24" text-anchor="middle" fill="#333" textLength="6.93" lengthAdjust="spacingAndGlyphs">ns</text><path d="M394.3 499.2V497.4H416V499.2" fill="none" stroke="#3a3a3a" stroke-width="0.8"/><text x="405.15" y="495.8" font-size="6.24" text-anchor="middle" fill="#333" textLength="6.93" lengthAdjust="spacingAndGlyphs">ns</text><path d="M329.4 504.4V502.6H351.1V504.4" fill="none" stroke="#3a3a3a" stroke-width="0.8"/><text x="340.25" y="501.9" font-size="8.06" text-anchor="middle" fill="#333" textLength="8.1" lengthAdjust="spacingAndGlyphs">***</text><path d="M372.6 504.4V502.6H394.3V504.4" fill="none" stroke="#3a3a3a" stroke-width="0.8"/><text x="383.45" y="501.9" font-size="8.06" text-anchor="middle" fill="#333" textLength="8.1" lengthAdjust="spacingAndGlyphs">***</text>
<text x="324.6" y="432" font-size="5.97" fill="#333" textLength="78.96" lengthAdjust="spacingAndGlyphs">Kruskal-Wallis P = 5.57e-16</text>
<line x1="329.4" y1="551.1" x2="329.4" y2="553.3" stroke="#4d4d4d" stroke-width="0.7" /><text x="328" y="560.5" font-size="6.97" text-anchor="end" fill="#222" textLength="34.22" lengthAdjust="spacingAndGlyphs" transform="rotate(-45 328 560.5)">Shrubland</text><line x1="351.1" y1="551.1" x2="351.1" y2="553.3" stroke="#4d4d4d" stroke-width="0.7" /><text x="349.7" y="560.5" font-size="6.97" text-anchor="end" fill="#222" textLength="27.45" lengthAdjust="spacingAndGlyphs" transform="rotate(-45 349.7 560.5)">Wetland</text><line x1="372.6" y1="551.1" x2="372.6" y2="553.3" stroke="#4d4d4d" stroke-width="0.7" /><text x="371.2" y="560.5" font-size="6.97" text-anchor="end" fill="#222" textLength="22.32" lengthAdjust="spacingAndGlyphs" transform="rotate(-45 371.2 560.5)">Barren</text><line x1="394.3" y1="551.1" x2="394.3" y2="553.3" stroke="#4d4d4d" stroke-width="0.7" /><text x="392.9" y="560.5" font-size="6.97" text-anchor="end" fill="#222" textLength="55.97" lengthAdjust="spacingAndGlyphs" transform="rotate(-45 392.9 560.5)">Forest/Woodland</text><line x1="416" y1="551.1" x2="416" y2="553.3" stroke="#4d4d4d" stroke-width="0.7" /><text x="414.6" y="560.5" font-size="6.97" text-anchor="end" fill="#222" textLength="39.92" lengthAdjust="spacingAndGlyphs" transform="rotate(-45 414.6 560.5)">Herbaceous</text><line x1="437.7" y1="551.1" x2="437.7" y2="553.3" stroke="#4d4d4d" stroke-width="0.7" /><text x="436.3" y="560.5" font-size="6.97" text-anchor="end" fill="#222" textLength="54.92" lengthAdjust="spacingAndGlyphs" transform="rotate(-45 436.3 560.5)">Steppe/Savanna</text>
<text x="299.5" y="487.4" font-size="8.01" text-anchor="middle" fill="#222" textLength="28.03" lengthAdjust="spacingAndGlyphs" transform="rotate(-90 299.5 487.4)">Degree</text>
<rect x="490.4" y="422" width="132.9" height="132.3" fill="none" stroke="#4d4d4d" stroke-width="0.9"/>
<line x1="488.2" y1="547.1" x2="490.4" y2="547.1" stroke="#4d4d4d" stroke-width="0.7" /><text x="486" y="549.1" font-size="5.51" text-anchor="end" fill="#333333" textLength="3.37" lengthAdjust="spacingAndGlyphs">0</text><line x1="488.2" y1="520.84" x2="490.4" y2="520.84" stroke="#4d4d4d" stroke-width="0.7" /><text x="486" y="522.84" font-size="5.51" text-anchor="end" fill="#333333" textLength="13.49" lengthAdjust="spacingAndGlyphs">2000</text><line x1="488.2" y1="494.58" x2="490.4" y2="494.58" stroke="#4d4d4d" stroke-width="0.7" /><text x="486" y="496.58" font-size="5.51" text-anchor="end" fill="#333333" textLength="13.49" lengthAdjust="spacingAndGlyphs">4000</text><line x1="488.2" y1="468.32" x2="490.4" y2="468.32" stroke="#4d4d4d" stroke-width="0.7" /><text x="486" y="470.32" font-size="5.51" text-anchor="end" fill="#333333" textLength="13.49" lengthAdjust="spacingAndGlyphs">6000</text><line x1="488.2" y1="442.06" x2="490.4" y2="442.06" stroke="#4d4d4d" stroke-width="0.7" /><text x="486" y="444.06" font-size="5.51" text-anchor="end" fill="#333333" textLength="13.49" lengthAdjust="spacingAndGlyphs">8000</text>
<line x1="501.6" y1="530.69" x2="501.6" y2="514.54" stroke="#424242" stroke-width="1" /><line x1="501.6" y1="540.8" x2="501.6" y2="547.1" stroke="#424242" stroke-width="1" /><line x1="496.67" y1="514.54" x2="506.53" y2="514.54" stroke="#424242" stroke-width="1" /><line x1="496.67" y1="547.1" x2="506.53" y2="547.1" stroke="#424242" stroke-width="1" /><rect x="492.8" y="530.69" width="17.6" height="10.11" fill="#cd6358" stroke="#424242" stroke-width="1"/><line x1="492.8" y1="537.52" x2="510.4" y2="537.52" stroke="#424242" stroke-width="1" />
<line x1="523.7" y1="532.33" x2="523.7" y2="520.58" stroke="#424242" stroke-width="1" /><line x1="523.7" y1="540.4" x2="523.7" y2="547.1" stroke="#424242" stroke-width="1" /><line x1="518.77" y1="520.58" x2="528.63" y2="520.58" stroke="#424242" stroke-width="1" /><line x1="518.77" y1="547.1" x2="528.63" y2="547.1" stroke="#424242" stroke-width="1" /><rect x="514.9" y="532.33" width="17.6" height="8.07" fill="#a1542f" stroke="#424242" stroke-width="1"/><line x1="514.9" y1="536.73" x2="532.5" y2="536.73" stroke="#424242" stroke-width="1" />
<line x1="545.8" y1="530.03" x2="545.8" y2="514.27" stroke="#424242" stroke-width="1" /><line x1="545.8" y1="540.4" x2="545.8" y2="547.1" stroke="#424242" stroke-width="1" /><line x1="540.87" y1="514.27" x2="550.73" y2="514.27" stroke="#424242" stroke-width="1" /><line x1="540.87" y1="547.1" x2="550.73" y2="547.1" stroke="#424242" stroke-width="1" /><rect x="537" y="530.03" width="17.6" height="10.37" fill="#a77bc8" stroke="#424242" stroke-width="1"/><line x1="537" y1="535.87" x2="554.6" y2="535.87" stroke="#424242" stroke-width="1" />
<line x1="568.1" y1="530.69" x2="568.1" y2="515.59" stroke="#424242" stroke-width="1" /><line x1="568.1" y1="540.4" x2="568.1" y2="547.1" stroke="#424242" stroke-width="1" /><line x1="563.17" y1="515.59" x2="573.03" y2="515.59" stroke="#424242" stroke-width="1" /><line x1="563.17" y1="547.1" x2="573.03" y2="547.1" stroke="#424242" stroke-width="1" /><rect x="559.3" y="530.69" width="17.6" height="9.72" fill="#47ad95" stroke="#424242" stroke-width="1"/><line x1="559.3" y1="536.33" x2="576.9" y2="536.33" stroke="#424242" stroke-width="1" />
<line x1="590.4" y1="525.5" x2="590.4" y2="502.46" stroke="#424242" stroke-width="1" /><line x1="590.4" y1="540.4" x2="590.4" y2="547.1" stroke="#424242" stroke-width="1" /><line x1="585.47" y1="502.46" x2="595.33" y2="502.46" stroke="#424242" stroke-width="1" /><line x1="585.47" y1="547.1" x2="595.33" y2="547.1" stroke="#424242" stroke-width="1" /><rect x="581.6" y="525.5" width="17.6" height="14.9" fill="#676767" stroke="#424242" stroke-width="1"/><line x1="581.6" y1="533.64" x2="599.2" y2="533.64" stroke="#424242" stroke-width="1" />
<line x1="612.5" y1="525.11" x2="612.5" y2="502.46" stroke="#424242" stroke-width="1" /><line x1="612.5" y1="539.68" x2="612.5" y2="547.1" stroke="#424242" stroke-width="1" /><line x1="607.57" y1="502.46" x2="617.43" y2="502.46" stroke="#424242" stroke-width="1" /><line x1="607.57" y1="547.1" x2="617.43" y2="547.1" stroke="#424242" stroke-width="1" /><rect x="603.7" y="525.11" width="17.6" height="14.57" fill="#2f8fef" stroke="#424242" stroke-width="1"/><line x1="603.7" y1="533.58" x2="621.3" y2="533.58" stroke="#424242" stroke-width="1" />
<path d="M501.6 441.7V439.9H612.5V441.7" fill="none" stroke="#3a3a3a" stroke-width="0.8"/><text x="557.05" y="439.2" font-size="8.06" text-anchor="middle" fill="#333" textLength="10.8" lengthAdjust="spacingAndGlyphs">****</text><path d="M523.7 447.4V445.6H612.5V447.4" fill="none" stroke="#3a3a3a" stroke-width="0.8"/><text x="568.1" y="444.9" font-size="8.06" text-anchor="middle" fill="#333" textLength="10.8" lengthAdjust="spacingAndGlyphs">****</text><path d="M501.6 453.3V451.5H590.4V453.3" fill="none" stroke="#3a3a3a" stroke-width="0.8"/><text x="546" y="450.8" font-size="8.06" text-anchor="middle" fill="#333" textLength="10.8" lengthAdjust="spacingAndGlyphs">****</text><path d="M545.8 458.9V457.1H612.5V458.9" fill="none" stroke="#3a3a3a" stroke-width="0.8"/><text x="579.15" y="456.4" font-size="8.06" text-anchor="middle" fill="#333" textLength="10.8" lengthAdjust="spacingAndGlyphs">****</text><path d="M523.7 465.2V463.4H590.4V465.2" fill="none" stroke="#3a3a3a" stroke-width="0.8"/><text x="557.05" y="462.7" font-size="8.06" text-anchor="middle" fill="#333" textLength="10.8" lengthAdjust="spacingAndGlyphs">****</text><path d="M501.6 471.2V469.4H568.1V471.2" fill="none" stroke="#3a3a3a" stroke-width="0.8"/><text x="534.85" y="467.8" font-size="6.24" text-anchor="middle" fill="#333" textLength="6.93" lengthAdjust="spacingAndGlyphs">ns</text><path d="M545.8 477V475.2H590.4V477" fill="none" stroke="#3a3a3a" stroke-width="0.8"/><text x="568.1" y="474.5" font-size="8.06" text-anchor="middle" fill="#333" textLength="10.8" lengthAdjust="spacingAndGlyphs">****</text><path d="M568.1 482.6V480.8H612.5V482.6" fill="none" stroke="#3a3a3a" stroke-width="0.8"/><text x="590.3" y="480.1" font-size="8.06" text-anchor="middle" fill="#333" textLength="10.8" lengthAdjust="spacingAndGlyphs">****</text><path d="M523.7 488.5V486.7H568.1V488.5" fill="none" stroke="#3a3a3a" stroke-width="0.8"/><text x="545.9" y="485.1" font-size="6.24" text-anchor="middle" fill="#333" textLength="6.93" lengthAdjust="spacingAndGlyphs">ns</text><path d="M590.4 488.5V486.7H612.5V488.5" fill="none" stroke="#3a3a3a" stroke-width="0.8"/><text x="601.45" y="485.1" font-size="6.24" text-anchor="middle" fill="#333" textLength="6.93" lengthAdjust="spacingAndGlyphs">ns</text><path d="M501.6 494.7V492.9H545.8V494.7" fill="none" stroke="#3a3a3a" stroke-width="0.8"/><text x="523.7" y="491.3" font-size="6.24" text-anchor="middle" fill="#333" textLength="6.93" lengthAdjust="spacingAndGlyphs">ns</text><path d="M568.1 494.7V492.9H590.4V494.7" fill="none" stroke="#3a3a3a" stroke-width="0.8"/><text x="579.25" y="492.2" font-size="8.06" text-anchor="middle" fill="#333" textLength="10.8" lengthAdjust="spacingAndGlyphs">****</text><path d="M545.8 500.7V498.9H568.1V500.7" fill="none" stroke="#3a3a3a" stroke-width="0.8"/><text x="556.95" y="497.3" font-size="6.24" text-anchor="middle" fill="#333" textLength="6.93" lengthAdjust="spacingAndGlyphs">ns</text><path d="M523.7 506.2V504.4H545.8V506.2" fill="none" stroke="#3a3a3a" stroke-width="0.8"/><text x="534.75" y="502.8" font-size="6.24" text-anchor="middle" fill="#333" textLength="6.93" lengthAdjust="spacingAndGlyphs">ns</text><path d="M501.6 512.5V510.7H523.7V512.5" fill="none" stroke="#3a3a3a" stroke-width="0.8"/><text x="512.65" y="509.1" font-size="6.24" text-anchor="middle" fill="#333" textLength="6.93" lengthAdjust="spacingAndGlyphs">ns</text>
<text x="497" y="431" font-size="5.97" fill="#333" textLength="78.96" lengthAdjust="spacingAndGlyphs">Kruskal-Wallis P = 2.20e-23</text>
<line x1="501.6" y1="554.3" x2="501.6" y2="556.5" stroke="#4d4d4d" stroke-width="0.7" /><text x="500.2" y="563.7" font-size="6.97" text-anchor="end" fill="#222" textLength="34.22" lengthAdjust="spacingAndGlyphs" transform="rotate(-45 500.2 563.7)">Shrubland</text><line x1="523.7" y1="554.3" x2="523.7" y2="556.5" stroke="#4d4d4d" stroke-width="0.7" /><text x="522.3" y="563.7" font-size="6.97" text-anchor="end" fill="#222" textLength="39.92" lengthAdjust="spacingAndGlyphs" transform="rotate(-45 522.3 563.7)">Herbaceous</text><line x1="545.8" y1="554.3" x2="545.8" y2="556.5" stroke="#4d4d4d" stroke-width="0.7" /><text x="544.4" y="563.7" font-size="6.97" text-anchor="end" fill="#222" textLength="54.92" lengthAdjust="spacingAndGlyphs" transform="rotate(-45 544.4 563.7)">Steppe/Savanna</text><line x1="568.1" y1="554.3" x2="568.1" y2="556.5" stroke="#4d4d4d" stroke-width="0.7" /><text x="566.7" y="563.7" font-size="6.97" text-anchor="end" fill="#222" textLength="55.97" lengthAdjust="spacingAndGlyphs" transform="rotate(-45 566.7 563.7)">Forest/Woodland</text><line x1="590.4" y1="554.3" x2="590.4" y2="556.5" stroke="#4d4d4d" stroke-width="0.7" /><text x="589" y="563.7" font-size="6.97" text-anchor="end" fill="#222" textLength="22.32" lengthAdjust="spacingAndGlyphs" transform="rotate(-45 589 563.7)">Barren</text><line x1="612.5" y1="554.3" x2="612.5" y2="556.5" stroke="#4d4d4d" stroke-width="0.7" /><text x="611.1" y="563.7" font-size="6.97" text-anchor="end" fill="#222" textLength="27.45" lengthAdjust="spacingAndGlyphs" transform="rotate(-45 611.1 563.7)">Wetland</text>
<text x="468" y="487.4" font-size="8.01" text-anchor="middle" fill="#222" textLength="51.33" lengthAdjust="spacingAndGlyphs" transform="rotate(-90 468 487.4)">Betweenness</text>
<rect x="660.7" y="423.7" width="131.1" height="129.7" fill="none" stroke="#4d4d4d" stroke-width="0.9"/>
<line x1="658.5" y1="548.1" x2="660.7" y2="548.1" stroke="#4d4d4d" stroke-width="0.7" /><text x="656.3" y="550.1" font-size="5.51" text-anchor="end" fill="#333333" textLength="8.43" lengthAdjust="spacingAndGlyphs">0.2</text><line x1="658.5" y1="520.2" x2="660.7" y2="520.2" stroke="#4d4d4d" stroke-width="0.7" /><text x="656.3" y="522.2" font-size="5.51" text-anchor="end" fill="#333333" textLength="8.43" lengthAdjust="spacingAndGlyphs">0.4</text><line x1="658.5" y1="492.3" x2="660.7" y2="492.3" stroke="#4d4d4d" stroke-width="0.7" /><text x="656.3" y="494.3" font-size="5.51" text-anchor="end" fill="#333333" textLength="8.43" lengthAdjust="spacingAndGlyphs">0.6</text><line x1="658.5" y1="464.4" x2="660.7" y2="464.4" stroke="#4d4d4d" stroke-width="0.7" /><text x="656.3" y="466.4" font-size="5.51" text-anchor="end" fill="#333333" textLength="8.43" lengthAdjust="spacingAndGlyphs">0.8</text><line x1="658.5" y1="436.5" x2="660.7" y2="436.5" stroke="#4d4d4d" stroke-width="0.7" /><text x="656.3" y="438.5" font-size="5.51" text-anchor="end" fill="#333333" textLength="8.43" lengthAdjust="spacingAndGlyphs">1.0</text>
<line x1="671.2" y1="531.36" x2="671.2" y2="526.48" stroke="#424242" stroke-width="1" /><line x1="671.2" y1="537.5" x2="671.2" y2="546.15" stroke="#424242" stroke-width="1" /><line x1="666.27" y1="526.48" x2="676.13" y2="526.48" stroke="#424242" stroke-width="1" /><line x1="666.27" y1="546.15" x2="676.13" y2="546.15" stroke="#424242" stroke-width="1" /><rect x="662.4" y="531.36" width="17.6" height="6.14" fill="#2f8fef" stroke="#424242" stroke-width="1"/><line x1="662.4" y1="534.57" x2="680" y2="534.57" stroke="#424242" stroke-width="1" />
<line x1="693.2" y1="524.39" x2="693.2" y2="517.41" stroke="#424242" stroke-width="1" /><line x1="693.2" y1="530.38" x2="693.2" y2="539.17" stroke="#424242" stroke-width="1" /><line x1="688.27" y1="517.41" x2="698.13" y2="517.41" stroke="#424242" stroke-width="1" /><line x1="688.27" y1="539.17" x2="698.13" y2="539.17" stroke="#424242" stroke-width="1" /><rect x="684.4" y="524.39" width="17.6" height="6" fill="#676767" stroke="#424242" stroke-width="1"/><line x1="684.4" y1="526.48" x2="702" y2="526.48" stroke="#424242" stroke-width="1" />
<line x1="715" y1="514.9" x2="715" y2="509.6" stroke="#424242" stroke-width="1" /><line x1="715" y1="520.76" x2="715" y2="529.69" stroke="#424242" stroke-width="1" /><line x1="710.07" y1="509.6" x2="719.93" y2="509.6" stroke="#424242" stroke-width="1" /><line x1="710.07" y1="529.69" x2="719.93" y2="529.69" stroke="#424242" stroke-width="1" /><rect x="706.2" y="514.9" width="17.6" height="5.86" fill="#a1542f" stroke="#424242" stroke-width="1"/><line x1="706.2" y1="516.99" x2="723.8" y2="516.99" stroke="#424242" stroke-width="1" />
<line x1="736.8" y1="513.36" x2="736.8" y2="507.51" stroke="#424242" stroke-width="1" /><line x1="736.8" y1="520.62" x2="736.8" y2="530.24" stroke="#424242" stroke-width="1" /><line x1="731.87" y1="507.51" x2="741.73" y2="507.51" stroke="#424242" stroke-width="1" /><line x1="731.87" y1="530.24" x2="741.73" y2="530.24" stroke="#424242" stroke-width="1" /><rect x="728" y="513.36" width="17.6" height="7.25" fill="#47ad95" stroke="#424242" stroke-width="1"/><line x1="728" y1="515.88" x2="745.6" y2="515.88" stroke="#424242" stroke-width="1" />
<line x1="758.8" y1="512.81" x2="758.8" y2="507.51" stroke="#424242" stroke-width="1" /><line x1="758.8" y1="522.71" x2="758.8" y2="537.22" stroke="#424242" stroke-width="1" /><line x1="753.87" y1="507.51" x2="763.73" y2="507.51" stroke="#424242" stroke-width="1" /><line x1="753.87" y1="537.22" x2="763.73" y2="537.22" stroke="#424242" stroke-width="1" /><rect x="750" y="512.81" width="17.6" height="9.9" fill="#cd6358" stroke="#424242" stroke-width="1"/><line x1="750" y1="515.46" x2="767.6" y2="515.46" stroke="#424242" stroke-width="1" />
<line x1="780.6" y1="510.71" x2="780.6" y2="503.46" stroke="#424242" stroke-width="1" /><line x1="780.6" y1="519.08" x2="780.6" y2="531.22" stroke="#424242" stroke-width="1" /><line x1="775.67" y1="503.46" x2="785.53" y2="503.46" stroke="#424242" stroke-width="1" /><line x1="775.67" y1="531.22" x2="785.53" y2="531.22" stroke="#424242" stroke-width="1" /><rect x="771.8" y="510.71" width="17.6" height="8.37" fill="#a77bc8" stroke="#424242" stroke-width="1"/><line x1="771.8" y1="513.36" x2="789.4" y2="513.36" stroke="#424242" stroke-width="1" />
<path d="M671.2 446.3V444.5H780.6V446.3" fill="none" stroke="#3a3a3a" stroke-width="0.8"/><text x="725.9" y="443.8" font-size="8.06" text-anchor="middle" fill="#333" textLength="10.8" lengthAdjust="spacingAndGlyphs">****</text><path d="M693.2 451.6V449.8H780.6V451.6" fill="none" stroke="#3a3a3a" stroke-width="0.8"/><text x="736.9" y="449.1" font-size="8.06" text-anchor="middle" fill="#333" textLength="10.8" lengthAdjust="spacingAndGlyphs">****</text><path d="M671.2 457.3V455.5H758.8V457.3" fill="none" stroke="#3a3a3a" stroke-width="0.8"/><text x="715" y="454.8" font-size="8.06" text-anchor="middle" fill="#333" textLength="10.8" lengthAdjust="spacingAndGlyphs">****</text><path d="M715 463V461.2H780.6V463" fill="none" stroke="#3a3a3a" stroke-width="0.8"/><text x="747.8" y="460.5" font-size="8.06" text-anchor="middle" fill="#333" textLength="10.8" lengthAdjust="spacingAndGlyphs">****</text><path d="M693.2 468.5V466.7H758.8V468.5" fill="none" stroke="#3a3a3a" stroke-width="0.8"/><text x="726" y="466" font-size="8.06" text-anchor="middle" fill="#333" textLength="10.8" lengthAdjust="spacingAndGlyphs">****</text><path d="M671.2 474.2V472.4H736.8V474.2" fill="none" stroke="#3a3a3a" stroke-width="0.8"/><text x="704" y="471.7" font-size="8.06" text-anchor="middle" fill="#333" textLength="10.8" lengthAdjust="spacingAndGlyphs">****</text><path d="M715 479.9V478.1H758.8V479.9" fill="none" stroke="#3a3a3a" stroke-width="0.8"/><text x="736.9" y="477.4" font-size="8.06" text-anchor="middle" fill="#333" textLength="10.8" lengthAdjust="spacingAndGlyphs">****</text><path d="M736.8 485.4V483.6H780.6V485.4" fill="none" stroke="#3a3a3a" stroke-width="0.8"/><text x="758.7" y="482.9" font-size="8.06" text-anchor="middle" fill="#333" textLength="10.8" lengthAdjust="spacingAndGlyphs">****</text><path d="M693.2 491.1V489.3H736.8V491.1" fill="none" stroke="#3a3a3a" stroke-width="0.8"/><text x="715" y="488.6" font-size="8.06" text-anchor="middle" fill="#333" textLength="10.8" lengthAdjust="spacingAndGlyphs">****</text><path d="M758.8 491.1V489.3H780.6V491.1" fill="none" stroke="#3a3a3a" stroke-width="0.8"/><text x="769.7" y="488.6" font-size="8.06" text-anchor="middle" fill="#333" textLength="10.8" lengthAdjust="spacingAndGlyphs">****</text><path d="M671.2 496.8V495H715V496.8" fill="none" stroke="#3a3a3a" stroke-width="0.8"/><text x="693.1" y="494.3" font-size="8.06" text-anchor="middle" fill="#333" textLength="10.8" lengthAdjust="spacingAndGlyphs">****</text><path d="M736.8 496.8V495H758.8V496.8" fill="none" stroke="#3a3a3a" stroke-width="0.8"/><text x="747.8" y="493.4" font-size="6.24" text-anchor="middle" fill="#333" textLength="6.93" lengthAdjust="spacingAndGlyphs">ns</text><path d="M715 502.3V500.5H736.8V502.3" fill="none" stroke="#3a3a3a" stroke-width="0.8"/><text x="725.9" y="499.8" font-size="8.06" text-anchor="middle" fill="#333" textLength="10.8" lengthAdjust="spacingAndGlyphs">****</text><path d="M693.2 507.8V506H715V507.8" fill="none" stroke="#3a3a3a" stroke-width="0.8"/><text x="704.1" y="505.3" font-size="8.06" text-anchor="middle" fill="#333" textLength="10.8" lengthAdjust="spacingAndGlyphs">****</text><path d="M671.2 515.2V513.4H693.2V515.2" fill="none" stroke="#3a3a3a" stroke-width="0.8"/><text x="682.2" y="512.7" font-size="8.06" text-anchor="middle" fill="#333" textLength="10.8" lengthAdjust="spacingAndGlyphs">****</text>
<text x="667" y="431.7" font-size="5.97" fill="#333" textLength="81.7" lengthAdjust="spacingAndGlyphs">Kruskal-Wallis P = 0.00e+00</text>
<text x="659.6" y="421.5" font-size="5.51" fill="#333333" textLength="14.45" lengthAdjust="spacingAndGlyphs">1e−5</text>
<line x1="671.2" y1="553.4" x2="671.2" y2="555.6" stroke="#4d4d4d" stroke-width="0.7" /><text x="669.8" y="562.8" font-size="6.97" text-anchor="end" fill="#222" textLength="27.45" lengthAdjust="spacingAndGlyphs" transform="rotate(-45 669.8 562.8)">Wetland</text><line x1="693.2" y1="553.4" x2="693.2" y2="555.6" stroke="#4d4d4d" stroke-width="0.7" /><text x="691.8" y="562.8" font-size="6.97" text-anchor="end" fill="#222" textLength="22.32" lengthAdjust="spacingAndGlyphs" transform="rotate(-45 691.8 562.8)">Barren</text><line x1="715" y1="553.4" x2="715" y2="555.6" stroke="#4d4d4d" stroke-width="0.7" /><text x="713.6" y="562.8" font-size="6.97" text-anchor="end" fill="#222" textLength="39.92" lengthAdjust="spacingAndGlyphs" transform="rotate(-45 713.6 562.8)">Herbaceous</text><line x1="736.8" y1="553.4" x2="736.8" y2="555.6" stroke="#4d4d4d" stroke-width="0.7" /><text x="735.4" y="562.8" font-size="6.97" text-anchor="end" fill="#222" textLength="55.97" lengthAdjust="spacingAndGlyphs" transform="rotate(-45 735.4 562.8)">Forest/Woodland</text><line x1="758.8" y1="553.4" x2="758.8" y2="555.6" stroke="#4d4d4d" stroke-width="0.7" /><text x="757.4" y="562.8" font-size="6.97" text-anchor="end" fill="#222" textLength="34.22" lengthAdjust="spacingAndGlyphs" transform="rotate(-45 757.4 562.8)">Shrubland</text><line x1="780.6" y1="553.4" x2="780.6" y2="555.6" stroke="#4d4d4d" stroke-width="0.7" /><text x="779.2" y="562.8" font-size="6.97" text-anchor="end" fill="#222" textLength="54.92" lengthAdjust="spacingAndGlyphs" transform="rotate(-45 779.2 562.8)">Steppe/Savanna</text>
<text x="643" y="490.9" font-size="8.01" text-anchor="middle" fill="#222" textLength="38.62" lengthAdjust="spacingAndGlyphs" transform="rotate(-90 643 490.9)">Closeness</text>
</svg></body></html>
